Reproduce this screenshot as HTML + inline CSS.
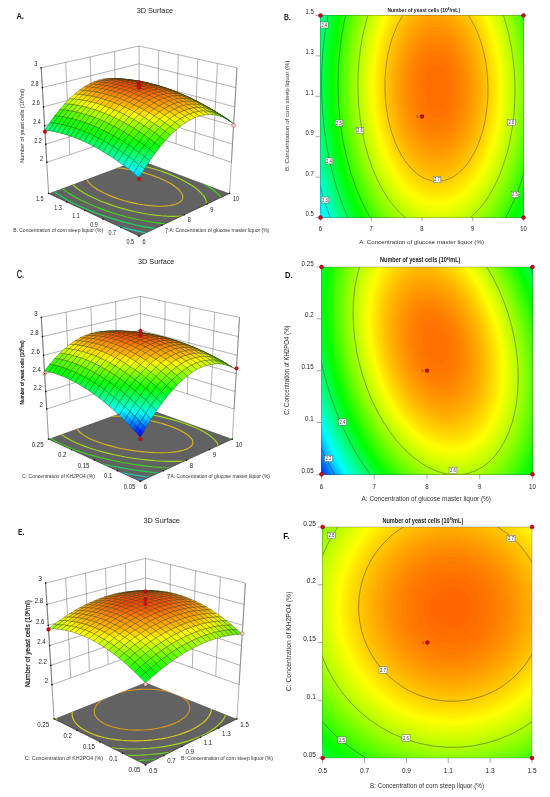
<!DOCTYPE html>
<html><head><meta charset="utf-8"><title>Response surface figure</title><style>html,body{margin:0;padding:0;background:#fff}svg{display:block}</style></head><body>
<svg width="550" height="797" viewBox="0 0 550 797" font-family='"Liberation Sans", sans-serif'>
<rect width="550" height="797" fill="#fff"/>
<clipPath id="cpB"><rect x="320.5" y="15.5" width="203" height="202"/></clipPath>
<g clip-path="url(#cpB)">
<rect x="320.5" y="15.5" width="203" height="202" fill="#00d3ff"/>
<g transform="translate(436.46 87.72) rotate(-90.9)">
<ellipse rx="248.74" ry="136.88" fill="#00dbff"/>
<ellipse rx="247.81" ry="136.37" fill="#00e0ff"/>
<ellipse rx="246.88" ry="135.85" fill="#00e6ff"/>
<ellipse rx="245.94" ry="135.34" fill="#00ebff"/>
<ellipse rx="245" ry="134.82" fill="#00f0ff"/>
<ellipse rx="244.06" ry="134.3" fill="#00f5ff"/>
<ellipse rx="243.11" ry="133.78" fill="#00fbff"/>
<ellipse rx="242.16" ry="133.26" fill="#00fffe"/>
<ellipse rx="241.2" ry="132.73" fill="#00fff9"/>
<ellipse rx="240.25" ry="132.2" fill="#00fff3"/>
<ellipse rx="239.28" ry="131.67" fill="#00ffee"/>
<ellipse rx="238.32" ry="131.14" fill="#00ffe9"/>
<ellipse rx="237.34" ry="130.61" fill="#00ffe4"/>
<ellipse rx="236.37" ry="130.07" fill="#00ffde"/>
<ellipse rx="235.39" ry="129.53" fill="#00ffd9"/>
<ellipse rx="234.41" ry="128.99" fill="#00ffd4"/>
<ellipse rx="233.42" ry="128.45" fill="#00ffcf"/>
<ellipse rx="232.43" ry="127.9" fill="#00ffc9"/>
<ellipse rx="231.43" ry="127.35" fill="#00ffc4"/>
<ellipse rx="230.44" ry="126.8" fill="#00ffbf"/>
<ellipse rx="229.43" ry="126.25" fill="#00ffba"/>
<ellipse rx="228.42" ry="125.7" fill="#00ffb4"/>
<ellipse rx="227.41" ry="125.14" fill="#00ffaf"/>
<ellipse rx="226.39" ry="124.58" fill="#00ffaa"/>
<ellipse rx="225.37" ry="124.02" fill="#00ffa5"/>
<ellipse rx="224.34" ry="123.45" fill="#00ff9f"/>
<ellipse rx="223.31" ry="122.88" fill="#00ff9a"/>
<ellipse rx="222.28" ry="122.31" fill="#00ff95"/>
<ellipse rx="221.23" ry="121.74" fill="#00ff90"/>
<ellipse rx="220.19" ry="121.17" fill="#00ff8a"/>
<ellipse rx="219.14" ry="120.59" fill="#00ff85"/>
<ellipse rx="218.08" ry="120.01" fill="#00ff80"/>
<ellipse rx="217.02" ry="119.42" fill="#00ff7b"/>
<ellipse rx="215.95" ry="118.83" fill="#00ff75"/>
<ellipse rx="214.88" ry="118.25" fill="#00ff70"/>
<ellipse rx="213.8" ry="117.65" fill="#00ff6b"/>
<ellipse rx="212.72" ry="117.06" fill="#00ff66"/>
<ellipse rx="211.63" ry="116.46" fill="#00ff60"/>
<ellipse rx="210.54" ry="115.86" fill="#00ff5b"/>
<ellipse rx="209.44" ry="115.25" fill="#00ff56"/>
<ellipse rx="208.34" ry="114.64" fill="#00ff51"/>
<ellipse rx="207.22" ry="114.03" fill="#00ff4b"/>
<ellipse rx="206.11" ry="113.42" fill="#00ff46"/>
<ellipse rx="204.98" ry="112.8" fill="#00ff41"/>
<ellipse rx="203.85" ry="112.18" fill="#00ff3c"/>
<ellipse rx="202.72" ry="111.55" fill="#00ff36"/>
<ellipse rx="201.58" ry="110.92" fill="#00ff31"/>
<ellipse rx="200.43" ry="110.29" fill="#00ff2c"/>
<ellipse rx="199.27" ry="109.66" fill="#00ff27"/>
<ellipse rx="198.11" ry="109.02" fill="#00ff21"/>
<ellipse rx="196.94" ry="108.37" fill="#00ff1c"/>
<ellipse rx="195.77" ry="107.73" fill="#00ff17"/>
<ellipse rx="194.58" ry="107.08" fill="#00ff12"/>
<ellipse rx="193.39" ry="106.42" fill="#00ff0c"/>
<ellipse rx="192.2" ry="105.76" fill="#00ff07"/>
<ellipse rx="190.99" ry="105.1" fill="#00ff02"/>
<ellipse rx="189.78" ry="104.43" fill="#03ff00"/>
<ellipse rx="188.56" ry="103.76" fill="#08ff00"/>
<ellipse rx="187.33" ry="103.08" fill="#0eff00"/>
<ellipse rx="186.09" ry="102.4" fill="#13ff00"/>
<ellipse rx="184.85" ry="101.72" fill="#18ff00"/>
<ellipse rx="183.6" ry="101.03" fill="#1dff00"/>
<ellipse rx="182.33" ry="100.33" fill="#22ff00"/>
<ellipse rx="181.06" ry="99.64" fill="#28ff00"/>
<ellipse rx="179.78" ry="98.93" fill="#2dff00"/>
<ellipse rx="178.49" ry="98.22" fill="#32ff00"/>
<ellipse rx="177.2" ry="97.51" fill="#37ff00"/>
<ellipse rx="175.89" ry="96.79" fill="#3cff00"/>
<ellipse rx="174.57" ry="96.06" fill="#42ff00"/>
<ellipse rx="173.24" ry="95.33" fill="#47ff00"/>
<ellipse rx="171.91" ry="94.6" fill="#4cff00"/>
<ellipse rx="170.56" ry="93.85" fill="#51ff00"/>
<ellipse rx="169.2" ry="93.11" fill="#56ff00"/>
<ellipse rx="167.83" ry="92.35" fill="#5cff00"/>
<ellipse rx="166.45" ry="91.59" fill="#61ff00"/>
<ellipse rx="165.05" ry="90.83" fill="#66ff00"/>
<ellipse rx="163.65" ry="90.05" fill="#6bff00"/>
<ellipse rx="162.23" ry="89.27" fill="#70ff00"/>
<ellipse rx="160.8" ry="88.49" fill="#76ff00"/>
<ellipse rx="159.36" ry="87.69" fill="#7bff00"/>
<ellipse rx="157.91" ry="86.89" fill="#80ff00"/>
<ellipse rx="156.44" ry="86.08" fill="#85ff00"/>
<ellipse rx="154.95" ry="85.27" fill="#8aff00"/>
<ellipse rx="153.46" ry="84.44" fill="#90ff00"/>
<ellipse rx="151.94" ry="83.61" fill="#95ff00"/>
<ellipse rx="150.42" ry="82.77" fill="#9aff00"/>
<ellipse rx="148.87" ry="81.92" fill="#9fff00"/>
<ellipse rx="147.32" ry="81.06" fill="#a4ff00"/>
<ellipse rx="145.74" ry="80.2" fill="#aaff00"/>
<ellipse rx="144.15" ry="79.32" fill="#afff00"/>
<ellipse rx="142.54" ry="78.43" fill="#b4ff00"/>
<ellipse rx="140.91" ry="77.54" fill="#b9ff00"/>
<ellipse rx="139.26" ry="76.63" fill="#beff00"/>
<ellipse rx="137.59" ry="75.71" fill="#c4ff00"/>
<ellipse rx="135.9" ry="74.78" fill="#c9ff00"/>
<ellipse rx="134.19" ry="73.84" fill="#ceff00"/>
<ellipse rx="132.46" ry="72.89" fill="#d3ff00"/>
<ellipse rx="130.71" ry="71.93" fill="#d8ff00"/>
<ellipse rx="128.93" ry="70.95" fill="#ddff00"/>
<ellipse rx="127.13" ry="69.95" fill="#e3ff00"/>
<ellipse rx="125.3" ry="68.95" fill="#e8ff00"/>
<ellipse rx="123.44" ry="67.93" fill="#edff00"/>
<ellipse rx="121.56" ry="66.89" fill="#f2ff00"/>
<ellipse rx="119.64" ry="65.84" fill="#f7ff00"/>
<ellipse rx="117.7" ry="64.77" fill="#fdff00"/>
<ellipse rx="115.72" ry="63.68" fill="#fffc00"/>
<ellipse rx="113.7" ry="62.57" fill="#fff700"/>
<ellipse rx="111.66" ry="61.44" fill="#fff200"/>
<ellipse rx="109.57" ry="60.29" fill="#ffed00"/>
<ellipse rx="107.44" ry="59.12" fill="#ffe800"/>
<ellipse rx="105.27" ry="57.93" fill="#ffe300"/>
<ellipse rx="103.05" ry="56.71" fill="#ffde00"/>
<ellipse rx="100.79" ry="55.46" fill="#ffd900"/>
<ellipse rx="98.47" ry="54.19" fill="#ffd400"/>
<ellipse rx="96.1" ry="52.88" fill="#ffcf00"/>
<ellipse rx="93.66" ry="51.54" fill="#ffca00"/>
<ellipse rx="91.17" ry="50.17" fill="#ffc400"/>
<ellipse rx="88.6" ry="48.75" fill="#ffbf00"/>
<ellipse rx="85.95" ry="47.3" fill="#ffba00"/>
<ellipse rx="83.22" ry="45.8" fill="#ffb500"/>
<ellipse rx="80.4" ry="44.24" fill="#ffb000"/>
<ellipse rx="77.48" ry="42.63" fill="#ffab00"/>
<ellipse rx="74.44" ry="40.96" fill="#ffa600"/>
<ellipse rx="71.27" ry="39.22" fill="#ffa100"/>
<ellipse rx="67.95" ry="37.39" fill="#ff9c00"/>
<ellipse rx="64.46" ry="35.47" fill="#ff9700"/>
<ellipse rx="60.78" ry="33.44" fill="#ff9200"/>
<ellipse rx="56.85" ry="31.28" fill="#ff8d00"/>
<ellipse rx="52.64" ry="28.96" fill="#ff8800"/>
<ellipse rx="48.05" ry="26.44" fill="#ff8300"/>
<ellipse rx="42.98" ry="23.65" fill="#ff7e00"/>
<ellipse rx="37.22" ry="20.48" fill="#ff7800"/>
<ellipse rx="30.39" ry="16.72" fill="#ff7300"/>
<ellipse rx="21.49" ry="11.82" fill="#ff6e00"/>
<ellipse rx="235.05" ry="129.34" fill="none" stroke="#222" stroke-opacity=".8" stroke-width=".48"/>
<ellipse rx="208.87" ry="114.94" fill="none" stroke="#222" stroke-opacity=".8" stroke-width=".48"/>
<ellipse rx="178.9" ry="98.45" fill="none" stroke="#222" stroke-opacity=".8" stroke-width=".48"/>
<ellipse rx="142.78" ry="78.57" fill="none" stroke="#222" stroke-opacity=".8" stroke-width=".48"/>
<ellipse rx="93.63" ry="51.52" fill="none" stroke="#222" stroke-opacity=".8" stroke-width=".48"/>
</g></g>
<rect x="320.5" y="15.5" width="203" height="202" fill="none" stroke="#444" stroke-opacity=".6" stroke-width=".5"/>
<line x1="320.5" y1="217.5" x2="320.5" y2="221" stroke="#555" stroke-width=".5"/>
<text x="320.5" y="231" font-size="6.8" text-anchor="middle" font-weight="normal" fill="#222" textLength="3.29" lengthAdjust="spacingAndGlyphs">6</text>
<line x1="371.25" y1="217.5" x2="371.25" y2="221" stroke="#555" stroke-width=".5"/>
<text x="371.25" y="231" font-size="6.8" text-anchor="middle" font-weight="normal" fill="#222" textLength="3.29" lengthAdjust="spacingAndGlyphs">7</text>
<line x1="422" y1="217.5" x2="422" y2="221" stroke="#555" stroke-width=".5"/>
<text x="422" y="231" font-size="6.8" text-anchor="middle" font-weight="normal" fill="#222" textLength="3.29" lengthAdjust="spacingAndGlyphs">8</text>
<line x1="472.75" y1="217.5" x2="472.75" y2="221" stroke="#555" stroke-width=".5"/>
<text x="472.75" y="231" font-size="6.8" text-anchor="middle" font-weight="normal" fill="#222" textLength="3.29" lengthAdjust="spacingAndGlyphs">9</text>
<line x1="523.5" y1="217.5" x2="523.5" y2="221" stroke="#555" stroke-width=".5"/>
<text x="523.5" y="231" font-size="6.8" text-anchor="middle" font-weight="normal" fill="#222" textLength="6.58" lengthAdjust="spacingAndGlyphs">10</text>
<line x1="315.5" y1="217.5" x2="320.5" y2="217.5" stroke="#555" stroke-width=".5"/>
<text x="313.7" y="216" font-size="6.8" text-anchor="end" font-weight="normal" fill="#222" textLength="8.22" lengthAdjust="spacingAndGlyphs">0.5</text>
<line x1="315.5" y1="177.1" x2="320.5" y2="177.1" stroke="#555" stroke-width=".5"/>
<text x="313.7" y="175.6" font-size="6.8" text-anchor="end" font-weight="normal" fill="#222" textLength="8.22" lengthAdjust="spacingAndGlyphs">0.7</text>
<line x1="315.5" y1="136.7" x2="320.5" y2="136.7" stroke="#555" stroke-width=".5"/>
<text x="313.7" y="135.2" font-size="6.8" text-anchor="end" font-weight="normal" fill="#222" textLength="8.22" lengthAdjust="spacingAndGlyphs">0.9</text>
<line x1="315.5" y1="96.3" x2="320.5" y2="96.3" stroke="#555" stroke-width=".5"/>
<text x="313.7" y="94.8" font-size="6.8" text-anchor="end" font-weight="normal" fill="#222" textLength="8.22" lengthAdjust="spacingAndGlyphs">1.1</text>
<line x1="315.5" y1="55.9" x2="320.5" y2="55.9" stroke="#555" stroke-width=".5"/>
<text x="313.7" y="54.4" font-size="6.8" text-anchor="end" font-weight="normal" fill="#222" textLength="8.22" lengthAdjust="spacingAndGlyphs">1.3</text>
<line x1="315.5" y1="15.5" x2="320.5" y2="15.5" stroke="#555" stroke-width=".5"/>
<text x="313.7" y="14" font-size="6.8" text-anchor="end" font-weight="normal" fill="#222" textLength="8.22" lengthAdjust="spacingAndGlyphs">1.5</text>
<rect x="320.5" y="22" width="7.6" height="6" fill="#fff" stroke="#555" stroke-width=".45"/>
<text x="324.3" y="26.74" font-size="4.800000000000001" text-anchor="middle" font-weight="normal" fill="#333" textLength="5.8" lengthAdjust="spacingAndGlyphs">2.4</text>
<rect x="335.2" y="120" width="7.6" height="6" fill="#fff" stroke="#555" stroke-width=".45"/>
<text x="339" y="124.74" font-size="4.800000000000001" text-anchor="middle" font-weight="normal" fill="#333" textLength="5.8" lengthAdjust="spacingAndGlyphs">2.5</text>
<rect x="356.2" y="127.5" width="7.6" height="6" fill="#fff" stroke="#555" stroke-width=".45"/>
<text x="360" y="132.24" font-size="4.800000000000001" text-anchor="middle" font-weight="normal" fill="#333" textLength="5.8" lengthAdjust="spacingAndGlyphs">2.6</text>
<rect x="325.2" y="158" width="7.6" height="6" fill="#fff" stroke="#555" stroke-width=".45"/>
<text x="329" y="162.74" font-size="4.800000000000001" text-anchor="middle" font-weight="normal" fill="#333" textLength="5.8" lengthAdjust="spacingAndGlyphs">2.4</text>
<rect x="321.2" y="197" width="7.6" height="6" fill="#fff" stroke="#555" stroke-width=".45"/>
<text x="325" y="201.74" font-size="4.800000000000001" text-anchor="middle" font-weight="normal" fill="#333" textLength="5.8" lengthAdjust="spacingAndGlyphs">2.3</text>
<rect x="433.2" y="176.5" width="7.6" height="6" fill="#fff" stroke="#555" stroke-width=".45"/>
<text x="437" y="181.24" font-size="4.800000000000001" text-anchor="middle" font-weight="normal" fill="#333" textLength="5.8" lengthAdjust="spacingAndGlyphs">2.7</text>
<rect x="507.7" y="119.5" width="7.6" height="6" fill="#fff" stroke="#555" stroke-width=".45"/>
<text x="511.5" y="124.24" font-size="4.800000000000001" text-anchor="middle" font-weight="normal" fill="#333" textLength="5.8" lengthAdjust="spacingAndGlyphs">2.6</text>
<rect x="511.2" y="191.5" width="7.6" height="6" fill="#fff" stroke="#555" stroke-width=".45"/>
<text x="515" y="196.24" font-size="4.800000000000001" text-anchor="middle" font-weight="normal" fill="#333" textLength="5.8" lengthAdjust="spacingAndGlyphs">2.5</text>
<circle cx="320.5" cy="15.5" r="2" fill="#cc0612" stroke="#7d0a12" stroke-width=".5"/>
<circle cx="523.5" cy="15.5" r="2" fill="#cc0612" stroke="#7d0a12" stroke-width=".5"/>
<circle cx="320.5" cy="217.5" r="2" fill="#cc0612" stroke="#7d0a12" stroke-width=".5"/>
<circle cx="523.5" cy="217.5" r="2" fill="#cc0612" stroke="#7d0a12" stroke-width=".5"/>
<circle cx="422" cy="116.5" r="1.9" fill="#cc0612" stroke="#7d0a12" stroke-width=".5"/>
<text x="417.4" y="117.8" font-size="3.6" text-anchor="middle" font-weight="normal" fill="#333">5</text>
<text x="387.4" y="11.6" font-size="5.9" text-anchor="start" font-weight="bold" fill="#222" textLength="72.7" lengthAdjust="spacingAndGlyphs">Number of yeast cells (10<tspan font-size="3.54" dy="-1.95">8</tspan><tspan dy="1.95">/mL)</tspan></text>
<text x="359.2" y="243.6" font-size="5.9" text-anchor="start" font-weight="normal" fill="#333" textLength="124.8" lengthAdjust="spacingAndGlyphs">A: Concentration of glucose master liquor  (%)</text>
<text x="288.6" y="171" font-size="5.9" text-anchor="start" font-weight="normal" fill="#333" transform="rotate(-90 288.6 171)" textLength="110.4" lengthAdjust="spacingAndGlyphs">B: Concentration of corn steep liquor (%)</text>
<text x="283.9" y="19.6" font-size="8.9" text-anchor="start" font-weight="normal" fill="#111" textLength="6.9" lengthAdjust="spacingAndGlyphs" stroke="#111" stroke-width=".25">B.</text>
<clipPath id="cpD"><rect x="321.5" y="267" width="211" height="207.3"/></clipPath>
<g clip-path="url(#cpD)">
<rect x="321.5" y="267" width="211" height="207.3" fill="#0028ff"/>
<g transform="translate(435.64 345.42) rotate(-104.15)">
<ellipse rx="257.43" ry="152.97" fill="#0030ff"/>
<ellipse rx="256.65" ry="152.5" fill="#0035ff"/>
<ellipse rx="255.87" ry="152.04" fill="#003aff"/>
<ellipse rx="255.08" ry="151.57" fill="#0040ff"/>
<ellipse rx="254.29" ry="151.1" fill="#0045ff"/>
<ellipse rx="253.5" ry="150.63" fill="#004aff"/>
<ellipse rx="252.71" ry="150.16" fill="#0050ff"/>
<ellipse rx="251.91" ry="149.69" fill="#0055ff"/>
<ellipse rx="251.11" ry="149.21" fill="#005aff"/>
<ellipse rx="250.31" ry="148.74" fill="#005fff"/>
<ellipse rx="249.51" ry="148.26" fill="#0065ff"/>
<ellipse rx="248.7" ry="147.78" fill="#006aff"/>
<ellipse rx="247.89" ry="147.3" fill="#006fff"/>
<ellipse rx="247.08" ry="146.82" fill="#0075ff"/>
<ellipse rx="246.27" ry="146.33" fill="#007aff"/>
<ellipse rx="245.45" ry="145.85" fill="#007fff"/>
<ellipse rx="244.63" ry="145.36" fill="#0085ff"/>
<ellipse rx="243.81" ry="144.87" fill="#008aff"/>
<ellipse rx="242.99" ry="144.38" fill="#008fff"/>
<ellipse rx="242.16" ry="143.89" fill="#0095ff"/>
<ellipse rx="241.33" ry="143.4" fill="#009aff"/>
<ellipse rx="240.49" ry="142.9" fill="#009fff"/>
<ellipse rx="239.66" ry="142.41" fill="#00a4ff"/>
<ellipse rx="238.82" ry="141.91" fill="#00aaff"/>
<ellipse rx="237.97" ry="141.41" fill="#00afff"/>
<ellipse rx="237.13" ry="140.9" fill="#00b4ff"/>
<ellipse rx="236.28" ry="140.4" fill="#00baff"/>
<ellipse rx="235.43" ry="139.89" fill="#00bfff"/>
<ellipse rx="234.57" ry="139.39" fill="#00c4ff"/>
<ellipse rx="233.72" ry="138.88" fill="#00caff"/>
<ellipse rx="232.86" ry="138.36" fill="#00cfff"/>
<ellipse rx="231.99" ry="137.85" fill="#00d4ff"/>
<ellipse rx="231.12" ry="137.34" fill="#00daff"/>
<ellipse rx="230.25" ry="136.82" fill="#00dfff"/>
<ellipse rx="229.38" ry="136.3" fill="#00e4ff"/>
<ellipse rx="228.5" ry="135.78" fill="#00e9ff"/>
<ellipse rx="227.62" ry="135.25" fill="#00efff"/>
<ellipse rx="226.74" ry="134.73" fill="#00f4ff"/>
<ellipse rx="225.85" ry="134.2" fill="#00f9ff"/>
<ellipse rx="224.96" ry="133.67" fill="#00ffff"/>
<ellipse rx="224.07" ry="133.14" fill="#00fffa"/>
<ellipse rx="223.17" ry="132.61" fill="#00fff5"/>
<ellipse rx="222.27" ry="132.07" fill="#00ffef"/>
<ellipse rx="221.36" ry="131.53" fill="#00ffea"/>
<ellipse rx="220.45" ry="130.99" fill="#00ffe5"/>
<ellipse rx="219.54" ry="130.45" fill="#00ffe0"/>
<ellipse rx="218.62" ry="129.91" fill="#00ffda"/>
<ellipse rx="217.7" ry="129.36" fill="#00ffd5"/>
<ellipse rx="216.78" ry="128.81" fill="#00ffd0"/>
<ellipse rx="215.85" ry="128.26" fill="#00ffca"/>
<ellipse rx="214.92" ry="127.7" fill="#00ffc5"/>
<ellipse rx="213.98" ry="127.15" fill="#00ffc0"/>
<ellipse rx="213.04" ry="126.59" fill="#00ffbb"/>
<ellipse rx="212.09" ry="126.03" fill="#00ffb5"/>
<ellipse rx="211.15" ry="125.46" fill="#00ffb0"/>
<ellipse rx="210.19" ry="124.9" fill="#00ffab"/>
<ellipse rx="209.23" ry="124.33" fill="#00ffa6"/>
<ellipse rx="208.27" ry="123.76" fill="#00ffa0"/>
<ellipse rx="207.31" ry="123.18" fill="#00ff9b"/>
<ellipse rx="206.34" ry="122.61" fill="#00ff96"/>
<ellipse rx="205.36" ry="122.03" fill="#00ff90"/>
<ellipse rx="204.38" ry="121.44" fill="#00ff8b"/>
<ellipse rx="203.39" ry="120.86" fill="#00ff86"/>
<ellipse rx="202.4" ry="120.27" fill="#00ff81"/>
<ellipse rx="201.41" ry="119.68" fill="#00ff7b"/>
<ellipse rx="200.41" ry="119.09" fill="#00ff76"/>
<ellipse rx="199.41" ry="118.49" fill="#00ff71"/>
<ellipse rx="198.4" ry="117.89" fill="#00ff6b"/>
<ellipse rx="197.38" ry="117.29" fill="#00ff66"/>
<ellipse rx="196.36" ry="116.68" fill="#00ff61"/>
<ellipse rx="195.34" ry="116.07" fill="#00ff5c"/>
<ellipse rx="194.31" ry="115.46" fill="#00ff56"/>
<ellipse rx="193.27" ry="114.84" fill="#00ff51"/>
<ellipse rx="192.23" ry="114.22" fill="#00ff4c"/>
<ellipse rx="191.18" ry="113.6" fill="#00ff46"/>
<ellipse rx="190.13" ry="112.97" fill="#00ff41"/>
<ellipse rx="189.07" ry="112.34" fill="#00ff3c"/>
<ellipse rx="188" ry="111.71" fill="#00ff37"/>
<ellipse rx="186.93" ry="111.08" fill="#00ff31"/>
<ellipse rx="185.85" ry="110.44" fill="#00ff2c"/>
<ellipse rx="184.77" ry="109.79" fill="#00ff27"/>
<ellipse rx="183.68" ry="109.14" fill="#00ff22"/>
<ellipse rx="182.58" ry="108.49" fill="#00ff1c"/>
<ellipse rx="181.48" ry="107.84" fill="#00ff17"/>
<ellipse rx="180.37" ry="107.18" fill="#00ff12"/>
<ellipse rx="179.25" ry="106.51" fill="#00ff0c"/>
<ellipse rx="178.13" ry="105.85" fill="#00ff07"/>
<ellipse rx="177" ry="105.17" fill="#00ff02"/>
<ellipse rx="175.86" ry="104.5" fill="#03ff00"/>
<ellipse rx="174.71" ry="103.82" fill="#09ff00"/>
<ellipse rx="173.56" ry="103.13" fill="#0eff00"/>
<ellipse rx="172.4" ry="102.44" fill="#13ff00"/>
<ellipse rx="171.23" ry="101.75" fill="#18ff00"/>
<ellipse rx="170.05" ry="101.05" fill="#1eff00"/>
<ellipse rx="168.87" ry="100.34" fill="#23ff00"/>
<ellipse rx="167.68" ry="99.63" fill="#28ff00"/>
<ellipse rx="166.47" ry="98.92" fill="#2dff00"/>
<ellipse rx="165.26" ry="98.2" fill="#32ff00"/>
<ellipse rx="164.04" ry="97.48" fill="#38ff00"/>
<ellipse rx="162.81" ry="96.75" fill="#3dff00"/>
<ellipse rx="161.58" ry="96.01" fill="#42ff00"/>
<ellipse rx="160.33" ry="95.27" fill="#47ff00"/>
<ellipse rx="159.07" ry="94.52" fill="#4dff00"/>
<ellipse rx="157.8" ry="93.77" fill="#52ff00"/>
<ellipse rx="156.53" ry="93.01" fill="#57ff00"/>
<ellipse rx="155.24" ry="92.24" fill="#5cff00"/>
<ellipse rx="153.94" ry="91.47" fill="#61ff00"/>
<ellipse rx="152.63" ry="90.69" fill="#67ff00"/>
<ellipse rx="151.31" ry="89.91" fill="#6cff00"/>
<ellipse rx="149.97" ry="89.12" fill="#71ff00"/>
<ellipse rx="148.63" ry="88.32" fill="#76ff00"/>
<ellipse rx="147.27" ry="87.51" fill="#7cff00"/>
<ellipse rx="145.9" ry="86.7" fill="#81ff00"/>
<ellipse rx="144.52" ry="85.87" fill="#86ff00"/>
<ellipse rx="143.12" ry="85.04" fill="#8bff00"/>
<ellipse rx="141.71" ry="84.21" fill="#91ff00"/>
<ellipse rx="140.29" ry="83.36" fill="#96ff00"/>
<ellipse rx="138.85" ry="82.5" fill="#9bff00"/>
<ellipse rx="137.39" ry="81.64" fill="#a0ff00"/>
<ellipse rx="135.93" ry="80.77" fill="#a5ff00"/>
<ellipse rx="134.44" ry="79.88" fill="#abff00"/>
<ellipse rx="132.94" ry="78.99" fill="#b0ff00"/>
<ellipse rx="131.42" ry="78.09" fill="#b5ff00"/>
<ellipse rx="129.88" ry="77.18" fill="#baff00"/>
<ellipse rx="128.33" ry="76.25" fill="#c0ff00"/>
<ellipse rx="126.75" ry="75.32" fill="#c5ff00"/>
<ellipse rx="125.16" ry="74.37" fill="#caff00"/>
<ellipse rx="123.54" ry="73.41" fill="#cfff00"/>
<ellipse rx="121.91" ry="72.44" fill="#d4ff00"/>
<ellipse rx="120.25" ry="71.45" fill="#daff00"/>
<ellipse rx="118.56" ry="70.45" fill="#dfff00"/>
<ellipse rx="116.86" ry="69.44" fill="#e4ff00"/>
<ellipse rx="115.13" ry="68.41" fill="#e9ff00"/>
<ellipse rx="113.37" ry="67.36" fill="#efff00"/>
<ellipse rx="111.58" ry="66.3" fill="#f4ff00"/>
<ellipse rx="109.77" ry="65.23" fill="#f9ff00"/>
<ellipse rx="107.92" ry="64.13" fill="#feff00"/>
<ellipse rx="106.05" ry="63.01" fill="#fffb00"/>
<ellipse rx="104.14" ry="61.88" fill="#fff600"/>
<ellipse rx="102.19" ry="60.72" fill="#fff000"/>
<ellipse rx="100.21" ry="59.54" fill="#ffeb00"/>
<ellipse rx="98.18" ry="58.34" fill="#ffe600"/>
<ellipse rx="96.11" ry="57.11" fill="#ffe100"/>
<ellipse rx="94" ry="55.86" fill="#ffdc00"/>
<ellipse rx="91.84" ry="54.57" fill="#ffd700"/>
<ellipse rx="89.63" ry="53.26" fill="#ffd200"/>
<ellipse rx="87.36" ry="51.91" fill="#ffcd00"/>
<ellipse rx="85.03" ry="50.52" fill="#ffc800"/>
<ellipse rx="82.63" ry="49.1" fill="#ffc300"/>
<ellipse rx="80.16" ry="47.63" fill="#ffbd00"/>
<ellipse rx="77.62" ry="46.12" fill="#ffb800"/>
<ellipse rx="74.99" ry="44.56" fill="#ffb300"/>
<ellipse rx="72.26" ry="42.94" fill="#ffae00"/>
<ellipse rx="69.42" ry="41.25" fill="#ffa900"/>
<ellipse rx="66.47" ry="39.5" fill="#ffa400"/>
<ellipse rx="63.38" ry="37.66" fill="#ff9f00"/>
<ellipse rx="60.12" ry="35.73" fill="#ff9a00"/>
<ellipse rx="56.68" ry="33.68" fill="#ff9500"/>
<ellipse rx="53.02" ry="31.51" fill="#ff9000"/>
<ellipse rx="49.09" ry="29.17" fill="#ff8b00"/>
<ellipse rx="44.81" ry="26.63" fill="#ff8500"/>
<ellipse rx="40.08" ry="23.82" fill="#ff8000"/>
<ellipse rx="34.71" ry="20.63" fill="#ff7b00"/>
<ellipse rx="28.34" ry="16.84" fill="#ff7600"/>
<ellipse rx="20.04" ry="11.91" fill="#ff7100"/>
<ellipse rx="240.04" ry="142.64" fill="none" stroke="#222" stroke-opacity=".8" stroke-width=".48"/>
<ellipse rx="193.7" ry="115.1" fill="none" stroke="#222" stroke-opacity=".8" stroke-width=".48"/>
<ellipse rx="131.98" ry="78.43" fill="none" stroke="#222" stroke-opacity=".8" stroke-width=".48"/>
</g></g>
<rect x="321.5" y="267" width="211" height="207.3" fill="none" stroke="#444" stroke-opacity=".6" stroke-width=".5"/>
<line x1="321.5" y1="474.3" x2="321.5" y2="479.3" stroke="#555" stroke-width=".5"/>
<text x="321.5" y="488.9" font-size="7.1" text-anchor="middle" font-weight="normal" fill="#222" textLength="3.43" lengthAdjust="spacingAndGlyphs">6</text>
<line x1="374.25" y1="474.3" x2="374.25" y2="479.3" stroke="#555" stroke-width=".5"/>
<text x="374.25" y="488.9" font-size="7.1" text-anchor="middle" font-weight="normal" fill="#222" textLength="3.43" lengthAdjust="spacingAndGlyphs">7</text>
<line x1="427" y1="474.3" x2="427" y2="479.3" stroke="#555" stroke-width=".5"/>
<text x="427" y="488.9" font-size="7.1" text-anchor="middle" font-weight="normal" fill="#222" textLength="3.43" lengthAdjust="spacingAndGlyphs">8</text>
<line x1="479.75" y1="474.3" x2="479.75" y2="479.3" stroke="#555" stroke-width=".5"/>
<text x="479.75" y="488.9" font-size="7.1" text-anchor="middle" font-weight="normal" fill="#222" textLength="3.43" lengthAdjust="spacingAndGlyphs">9</text>
<line x1="532.5" y1="474.3" x2="532.5" y2="479.3" stroke="#555" stroke-width=".5"/>
<text x="532.5" y="488.9" font-size="7.1" text-anchor="middle" font-weight="normal" fill="#222" textLength="6.87" lengthAdjust="spacingAndGlyphs">10</text>
<line x1="316.5" y1="474.3" x2="321.5" y2="474.3" stroke="#555" stroke-width=".5"/>
<text x="313.6" y="472.8" font-size="7.1" text-anchor="end" font-weight="normal" fill="#222" textLength="12.02" lengthAdjust="spacingAndGlyphs">0.05</text>
<line x1="316.5" y1="422.48" x2="321.5" y2="422.48" stroke="#555" stroke-width=".5"/>
<text x="313.6" y="420.98" font-size="7.1" text-anchor="end" font-weight="normal" fill="#222" textLength="8.59" lengthAdjust="spacingAndGlyphs">0.1</text>
<line x1="316.5" y1="370.65" x2="321.5" y2="370.65" stroke="#555" stroke-width=".5"/>
<text x="313.6" y="369.15" font-size="7.1" text-anchor="end" font-weight="normal" fill="#222" textLength="12.02" lengthAdjust="spacingAndGlyphs">0.15</text>
<line x1="316.5" y1="318.82" x2="321.5" y2="318.82" stroke="#555" stroke-width=".5"/>
<text x="313.6" y="317.32" font-size="7.1" text-anchor="end" font-weight="normal" fill="#222" textLength="8.59" lengthAdjust="spacingAndGlyphs">0.2</text>
<line x1="316.5" y1="267" x2="321.5" y2="267" stroke="#555" stroke-width=".5"/>
<text x="313.6" y="265.5" font-size="7.1" text-anchor="end" font-weight="normal" fill="#222" textLength="12.02" lengthAdjust="spacingAndGlyphs">0.25</text>
<rect x="338.6" y="418.9" width="7.8" height="6.2" fill="#fff" stroke="#555" stroke-width=".45"/>
<text x="342.5" y="423.8" font-size="4.960000000000001" text-anchor="middle" font-weight="normal" fill="#333" textLength="6" lengthAdjust="spacingAndGlyphs">2.4</text>
<rect x="324.6" y="455.4" width="7.8" height="6.2" fill="#fff" stroke="#555" stroke-width=".45"/>
<text x="328.5" y="460.3" font-size="4.960000000000001" text-anchor="middle" font-weight="normal" fill="#333" textLength="6" lengthAdjust="spacingAndGlyphs">2.2</text>
<rect x="449.1" y="467.4" width="7.8" height="6.2" fill="#fff" stroke="#555" stroke-width=".45"/>
<text x="453" y="472.3" font-size="4.960000000000001" text-anchor="middle" font-weight="normal" fill="#333" textLength="6" lengthAdjust="spacingAndGlyphs">2.6</text>
<circle cx="321.5" cy="267" r="2" fill="#cc0612" stroke="#7d0a12" stroke-width=".5"/>
<circle cx="532.5" cy="267" r="2" fill="#cc0612" stroke="#7d0a12" stroke-width=".5"/>
<circle cx="321.5" cy="474.3" r="2" fill="#cc0612" stroke="#7d0a12" stroke-width=".5"/>
<circle cx="532.5" cy="474.3" r="2" fill="#cc0612" stroke="#7d0a12" stroke-width=".5"/>
<circle cx="427" cy="370.65" r="1.9" fill="#cc0612" stroke="#7d0a12" stroke-width=".5"/>
<text x="422.4" y="371.95" font-size="3.6" text-anchor="middle" font-weight="normal" fill="#333">5</text>
<text x="380" y="262.3" font-size="6.5" text-anchor="start" font-weight="bold" fill="#222" textLength="80.4" lengthAdjust="spacingAndGlyphs">Number of yeast cells (10<tspan font-size="3.9" dy="-2.15">8</tspan><tspan dy="2.15">/mL)</tspan></text>
<text x="361.6" y="501.3" font-size="6.3" text-anchor="start" font-weight="normal" fill="#333" textLength="129.3" lengthAdjust="spacingAndGlyphs">A: Concentration of glucose master liquor  (%)</text>
<text x="288.6" y="414.7" font-size="6.3" text-anchor="start" font-weight="normal" fill="#333" transform="rotate(-90 288.6 414.7)" textLength="89.3" lengthAdjust="spacingAndGlyphs">C: Concentration of KH2PO4 (%)</text>
<text x="285" y="277.9" font-size="9.7" text-anchor="start" font-weight="bold" fill="#111" textLength="7.6" lengthAdjust="spacingAndGlyphs">D.</text>
<clipPath id="cpF"><rect x="322.7" y="527" width="209.3" height="231"/></clipPath>
<g clip-path="url(#cpF)">
<rect x="322.7" y="527" width="209.3" height="231" fill="#00ff47"/>
<g transform="translate(451.26 607.68) rotate(-110.09)">
<ellipse rx="198.83" ry="196.08" fill="#00ff3f"/>
<ellipse rx="197.75" ry="195.01" fill="#00ff3a"/>
<ellipse rx="196.66" ry="193.93" fill="#00ff35"/>
<ellipse rx="195.56" ry="192.85" fill="#00ff2f"/>
<ellipse rx="194.46" ry="191.77" fill="#00ff2a"/>
<ellipse rx="193.35" ry="190.67" fill="#00ff25"/>
<ellipse rx="192.24" ry="189.58" fill="#00ff20"/>
<ellipse rx="191.11" ry="188.47" fill="#00ff1a"/>
<ellipse rx="189.99" ry="187.36" fill="#00ff15"/>
<ellipse rx="188.85" ry="186.24" fill="#00ff10"/>
<ellipse rx="187.71" ry="185.11" fill="#00ff0b"/>
<ellipse rx="186.56" ry="183.98" fill="#00ff05"/>
<ellipse rx="185.41" ry="182.84" fill="#00ff00"/>
<ellipse rx="184.25" ry="181.7" fill="#05ff00"/>
<ellipse rx="183.08" ry="180.54" fill="#0aff00"/>
<ellipse rx="181.9" ry="179.38" fill="#10ff00"/>
<ellipse rx="180.71" ry="178.21" fill="#15ff00"/>
<ellipse rx="179.52" ry="177.04" fill="#1aff00"/>
<ellipse rx="178.32" ry="175.85" fill="#1fff00"/>
<ellipse rx="177.11" ry="174.66" fill="#24ff00"/>
<ellipse rx="175.89" ry="173.46" fill="#2aff00"/>
<ellipse rx="174.67" ry="172.25" fill="#2fff00"/>
<ellipse rx="173.43" ry="171.03" fill="#34ff00"/>
<ellipse rx="172.19" ry="169.81" fill="#39ff00"/>
<ellipse rx="170.94" ry="168.57" fill="#3eff00"/>
<ellipse rx="169.68" ry="167.33" fill="#44ff00"/>
<ellipse rx="168.41" ry="166.07" fill="#49ff00"/>
<ellipse rx="167.13" ry="164.81" fill="#4eff00"/>
<ellipse rx="165.83" ry="163.54" fill="#53ff00"/>
<ellipse rx="164.53" ry="162.26" fill="#58ff00"/>
<ellipse rx="163.22" ry="160.96" fill="#5eff00"/>
<ellipse rx="161.9" ry="159.66" fill="#63ff00"/>
<ellipse rx="160.57" ry="158.35" fill="#68ff00"/>
<ellipse rx="159.22" ry="157.02" fill="#6dff00"/>
<ellipse rx="157.87" ry="155.68" fill="#73ff00"/>
<ellipse rx="156.5" ry="154.34" fill="#78ff00"/>
<ellipse rx="155.12" ry="152.98" fill="#7dff00"/>
<ellipse rx="153.73" ry="151.6" fill="#82ff00"/>
<ellipse rx="152.33" ry="150.22" fill="#87ff00"/>
<ellipse rx="150.91" ry="148.82" fill="#8dff00"/>
<ellipse rx="149.48" ry="147.41" fill="#92ff00"/>
<ellipse rx="148.04" ry="145.99" fill="#97ff00"/>
<ellipse rx="146.58" ry="144.55" fill="#9cff00"/>
<ellipse rx="145.11" ry="143.1" fill="#a1ff00"/>
<ellipse rx="143.62" ry="141.63" fill="#a7ff00"/>
<ellipse rx="142.11" ry="140.15" fill="#acff00"/>
<ellipse rx="140.59" ry="138.65" fill="#b1ff00"/>
<ellipse rx="139.06" ry="137.13" fill="#b6ff00"/>
<ellipse rx="137.5" ry="135.6" fill="#bbff00"/>
<ellipse rx="135.93" ry="134.05" fill="#c1ff00"/>
<ellipse rx="134.34" ry="132.48" fill="#c6ff00"/>
<ellipse rx="132.73" ry="130.9" fill="#cbff00"/>
<ellipse rx="131.1" ry="129.29" fill="#d0ff00"/>
<ellipse rx="129.45" ry="127.66" fill="#d5ff00"/>
<ellipse rx="127.78" ry="126.02" fill="#dbff00"/>
<ellipse rx="126.09" ry="124.35" fill="#e0ff00"/>
<ellipse rx="124.38" ry="122.65" fill="#e5ff00"/>
<ellipse rx="122.64" ry="120.94" fill="#eaff00"/>
<ellipse rx="120.87" ry="119.2" fill="#efff00"/>
<ellipse rx="119.08" ry="117.43" fill="#f5ff00"/>
<ellipse rx="117.26" ry="115.64" fill="#faff00"/>
<ellipse rx="115.42" ry="113.82" fill="#ffff00"/>
<ellipse rx="113.54" ry="111.97" fill="#fffa00"/>
<ellipse rx="111.63" ry="110.09" fill="#fff500"/>
<ellipse rx="109.69" ry="108.17" fill="#fff000"/>
<ellipse rx="107.71" ry="106.22" fill="#ffeb00"/>
<ellipse rx="105.7" ry="104.24" fill="#ffe600"/>
<ellipse rx="103.65" ry="102.21" fill="#ffe000"/>
<ellipse rx="101.55" ry="100.15" fill="#ffdb00"/>
<ellipse rx="99.41" ry="98.04" fill="#ffd600"/>
<ellipse rx="97.23" ry="95.88" fill="#ffd100"/>
<ellipse rx="94.99" ry="93.68" fill="#ffcc00"/>
<ellipse rx="92.7" ry="91.42" fill="#ffc700"/>
<ellipse rx="90.36" ry="89.11" fill="#ffc200"/>
<ellipse rx="87.95" ry="86.73" fill="#ffbd00"/>
<ellipse rx="85.47" ry="84.29" fill="#ffb800"/>
<ellipse rx="82.92" ry="81.77" fill="#ffb300"/>
<ellipse rx="80.28" ry="79.17" fill="#ffae00"/>
<ellipse rx="77.56" ry="76.49" fill="#ffa900"/>
<ellipse rx="74.74" ry="73.71" fill="#ffa400"/>
<ellipse rx="71.81" ry="70.81" fill="#ff9e00"/>
<ellipse rx="68.75" ry="67.8" fill="#ff9900"/>
<ellipse rx="65.55" ry="64.64" fill="#ff9400"/>
<ellipse rx="62.19" ry="61.33" fill="#ff8f00"/>
<ellipse rx="58.63" ry="57.82" fill="#ff8a00"/>
<ellipse rx="54.84" ry="54.09" fill="#ff8500"/>
<ellipse rx="50.78" ry="50.07" fill="#ff8000"/>
<ellipse rx="46.35" ry="45.71" fill="#ff7b00"/>
<ellipse rx="41.46" ry="40.88" fill="#ff7600"/>
<ellipse rx="35.9" ry="35.41" fill="#ff7100"/>
<ellipse rx="29.32" ry="28.91" fill="#ff6c00"/>
<ellipse rx="20.73" ry="20.44" fill="#ff6700"/>
<ellipse rx="174.3" ry="171.89" fill="none" stroke="#222" stroke-opacity=".8" stroke-width=".48"/>
<ellipse rx="139.96" ry="138.02" fill="none" stroke="#222" stroke-opacity=".8" stroke-width=".48"/>
<ellipse rx="93.78" ry="92.48" fill="none" stroke="#222" stroke-opacity=".8" stroke-width=".48"/>
</g></g>
<rect x="322.7" y="527" width="209.3" height="231" fill="none" stroke="#444" stroke-opacity=".6" stroke-width=".5"/>
<line x1="322.7" y1="758" x2="322.7" y2="763" stroke="#555" stroke-width=".5"/>
<text x="322.7" y="773.4" font-size="7.5" text-anchor="middle" font-weight="normal" fill="#222" textLength="9.07" lengthAdjust="spacingAndGlyphs">0.5</text>
<line x1="364.56" y1="758" x2="364.56" y2="763" stroke="#555" stroke-width=".5"/>
<text x="364.56" y="773.4" font-size="7.5" text-anchor="middle" font-weight="normal" fill="#222" textLength="9.07" lengthAdjust="spacingAndGlyphs">0.7</text>
<line x1="406.42" y1="758" x2="406.42" y2="763" stroke="#555" stroke-width=".5"/>
<text x="406.42" y="773.4" font-size="7.5" text-anchor="middle" font-weight="normal" fill="#222" textLength="9.07" lengthAdjust="spacingAndGlyphs">0.9</text>
<line x1="448.28" y1="758" x2="448.28" y2="763" stroke="#555" stroke-width=".5"/>
<text x="448.28" y="773.4" font-size="7.5" text-anchor="middle" font-weight="normal" fill="#222" textLength="9.07" lengthAdjust="spacingAndGlyphs">1.1</text>
<line x1="490.14" y1="758" x2="490.14" y2="763" stroke="#555" stroke-width=".5"/>
<text x="490.14" y="773.4" font-size="7.5" text-anchor="middle" font-weight="normal" fill="#222" textLength="9.07" lengthAdjust="spacingAndGlyphs">1.3</text>
<line x1="532" y1="758" x2="532" y2="763" stroke="#555" stroke-width=".5"/>
<text x="532" y="773.4" font-size="7.5" text-anchor="middle" font-weight="normal" fill="#222" textLength="9.07" lengthAdjust="spacingAndGlyphs">1.5</text>
<line x1="317.7" y1="758" x2="322.7" y2="758" stroke="#555" stroke-width=".5"/>
<text x="315.9" y="756.5" font-size="7.5" text-anchor="end" font-weight="normal" fill="#222" textLength="12.7" lengthAdjust="spacingAndGlyphs">0.05</text>
<line x1="317.7" y1="700.25" x2="322.7" y2="700.25" stroke="#555" stroke-width=".5"/>
<text x="315.9" y="698.75" font-size="7.5" text-anchor="end" font-weight="normal" fill="#222" textLength="9.07" lengthAdjust="spacingAndGlyphs">0.1</text>
<line x1="317.7" y1="642.5" x2="322.7" y2="642.5" stroke="#555" stroke-width=".5"/>
<text x="315.9" y="641" font-size="7.5" text-anchor="end" font-weight="normal" fill="#222" textLength="12.7" lengthAdjust="spacingAndGlyphs">0.15</text>
<line x1="317.7" y1="584.75" x2="322.7" y2="584.75" stroke="#555" stroke-width=".5"/>
<text x="315.9" y="583.25" font-size="7.5" text-anchor="end" font-weight="normal" fill="#222" textLength="9.07" lengthAdjust="spacingAndGlyphs">0.2</text>
<line x1="317.7" y1="527" x2="322.7" y2="527" stroke="#555" stroke-width=".5"/>
<text x="315.9" y="525.5" font-size="7.5" text-anchor="end" font-weight="normal" fill="#222" textLength="12.7" lengthAdjust="spacingAndGlyphs">0.25</text>
<rect x="327.5" y="532.3" width="8" height="6.4" fill="#fff" stroke="#555" stroke-width=".45"/>
<text x="331.5" y="537.36" font-size="5.120000000000001" text-anchor="middle" font-weight="normal" fill="#333" textLength="6.19" lengthAdjust="spacingAndGlyphs">2.6</text>
<rect x="507" y="535.3" width="8" height="6.4" fill="#fff" stroke="#555" stroke-width=".45"/>
<text x="511" y="540.36" font-size="5.120000000000001" text-anchor="middle" font-weight="normal" fill="#333" textLength="6.19" lengthAdjust="spacingAndGlyphs">2.7</text>
<rect x="379" y="666.8" width="8" height="6.4" fill="#fff" stroke="#555" stroke-width=".45"/>
<text x="383" y="671.86" font-size="5.120000000000001" text-anchor="middle" font-weight="normal" fill="#333" textLength="6.19" lengthAdjust="spacingAndGlyphs">2.7</text>
<rect x="402" y="734.8" width="8" height="6.4" fill="#fff" stroke="#555" stroke-width=".45"/>
<text x="406" y="739.86" font-size="5.120000000000001" text-anchor="middle" font-weight="normal" fill="#333" textLength="6.19" lengthAdjust="spacingAndGlyphs">2.6</text>
<rect x="338" y="736.8" width="8" height="6.4" fill="#fff" stroke="#555" stroke-width=".45"/>
<text x="342" y="741.86" font-size="5.120000000000001" text-anchor="middle" font-weight="normal" fill="#333" textLength="6.19" lengthAdjust="spacingAndGlyphs">2.5</text>
<circle cx="322.7" cy="527" r="2" fill="#cc0612" stroke="#7d0a12" stroke-width=".5"/>
<circle cx="532" cy="527" r="2" fill="#cc0612" stroke="#7d0a12" stroke-width=".5"/>
<circle cx="322.7" cy="758" r="2" fill="#cc0612" stroke="#7d0a12" stroke-width=".5"/>
<circle cx="532" cy="758" r="2" fill="#cc0612" stroke="#7d0a12" stroke-width=".5"/>
<circle cx="427.35" cy="642.5" r="1.9" fill="#cc0612" stroke="#7d0a12" stroke-width=".5"/>
<text x="422.75" y="643.8" font-size="3.6" text-anchor="middle" font-weight="normal" fill="#333">5</text>
<text x="382.4" y="522.6" font-size="6.7" text-anchor="start" font-weight="bold" fill="#222" textLength="80.9" lengthAdjust="spacingAndGlyphs">Number of yeast cells (10<tspan font-size="4.02" dy="-2.21">8</tspan><tspan dy="2.21">/mL)</tspan></text>
<text x="370" y="787.7" font-size="6.6" text-anchor="start" font-weight="normal" fill="#333" textLength="114" lengthAdjust="spacingAndGlyphs">B: Concentration of corn steep liquor (%)</text>
<text x="290.6" y="691.2" font-size="6.6" text-anchor="start" font-weight="normal" fill="#333" transform="rotate(-90 290.6 691.2)" textLength="99.6" lengthAdjust="spacingAndGlyphs">C: Concentration of KH2PO4 (%)</text>
<text x="283.2" y="538.6" font-size="9.8" text-anchor="start" font-weight="bold" fill="#111" textLength="6.3" lengthAdjust="spacingAndGlyphs">F.</text>
<g><path d="M46.8,162.3L139.1,131.4L231.4,162.3" stroke="#666" stroke-width=".5" fill="none"/><path d="M45.7,144.2L139.1,115L232.5,144.2" stroke="#666" stroke-width=".5" fill="none"/><path d="M44.6,125.8L139.1,98.3L233.6,125.8" stroke="#666" stroke-width=".5" fill="none"/><path d="M43.5,106.9L139.1,81.2L234.7,106.9" stroke="#666" stroke-width=".5" fill="none"/><path d="M42.4,87.6L139.1,63.8L235.8,87.6" stroke="#666" stroke-width=".5" fill="none"/><path d="M41.2,67.8L139.1,46L237,67.8" stroke="#666" stroke-width=".5" fill="none"/><path d="M46.8,162.3L41.2,67.8" stroke="#666" stroke-width="0.5" fill="none"/><path d="M69.8,154.5L65.7,62.4" stroke="#666" stroke-width="0.5" fill="none"/><path d="M92.9,146.8L90.1,56.9" stroke="#666" stroke-width="0.5" fill="none"/><path d="M116,139.1L114.6,51.5" stroke="#666" stroke-width="0.5" fill="none"/><path d="M139.1,131.4L139.1,46" stroke="#666" stroke-width="0.5" fill="none"/><path d="M157.6,137.6L158.7,50.4" stroke="#666" stroke-width="0.5" fill="none"/><path d="M176,143.7L178.3,54.7" stroke="#666" stroke-width="0.5" fill="none"/><path d="M194.5,149.9L197.8,59.1" stroke="#666" stroke-width="0.5" fill="none"/><path d="M213,156.1L217.4,63.5" stroke="#666" stroke-width="0.5" fill="none"/><path d="M231.4,162.3L237,67.8" stroke="#666" stroke-width="0.5" fill="none"/><path d="M48.6,193.4L41.2,67.8" stroke="#444" stroke-width="0.55" fill="none"/><path d="M229.6,193.4L237,67.8" stroke="#666" stroke-width="0.5" fill="none"/></g>
<clipPath id="flA"><path d="M48.6,193.4L139.1,236L229.6,193.4L139.1,159.8Z"/></clipPath>
<path d="M48.6,193.4L139.1,236L229.6,193.4L139.1,159.8Z" fill="#626262"/>
<g clip-path="url(#flA)" fill="none" stroke-width="1.15">
<path d="M177.7,203.3L175.6,204.2L173,204.9L170.2,205.5L167,205.9L163.5,206.1L159.8,206.2L155.9,206.1L151.8,205.8L147.5,205.4L143.2,204.8L138.7,204L134.3,203.1L129.8,202.1L125.5,201L121.2,199.7L117,198.4L113,196.9L109.2,195.4L105.6,193.8L102.2,192.1L99.1,190.5L96.4,188.8L93.9,187.1L91.7,185.4L89.9,183.7L88.4,182.1L87.3,180.5L86.5,179L86.1,177.5L86,176.1L86.3,174.8L86.9,173.5L87.8,172.4L89.1,171.4L90.6,170.4L92.5,169.6L94.6,169L97,168.4L99.7,168L102.6,167.6L105.7,167.5L109,167.4L112.4,167.5L116,167.7L119.8,168L123.6,168.5L127.5,169.1L131.5,169.8L135.5,170.6L139.5,171.6L143.5,172.6L147.4,173.8L151.3,175L155.1,176.4L158.7,177.8L162.2,179.3L165.5,180.8L168.5,182.4L171.4,184.1L173.9,185.8L176.2,187.5L178.2,189.2L179.9,190.8L181.2,192.5L182.1,194.1L182.7,195.7L182.8,197.2L182.6,198.7L182,200L181,201.2L179.5,202.4L177.7,203.3Z" stroke="#d9b31c"/>
<path d="M199.6,212L196.4,213.3L192.7,214.4L188.5,215.2L183.8,215.8L178.6,216.2L173.1,216.3L167.2,216.1L161.1,215.7L154.7,215.1L148.2,214.2L141.6,213L135,211.7L128.4,210.1L121.9,208.4L115.6,206.5L109.5,204.4L103.6,202.2L98.1,200L92.9,197.6L88.1,195.2L83.7,192.7L79.8,190.2L76.3,187.8L73.4,185.3L70.9,182.9L68.9,180.6L67.4,178.3L66.4,176.1L66,174L66,172L66.5,170.1L67.5,168.4L68.9,166.8L70.8,165.4L73.1,164.1L75.8,163L78.8,162.1L82.3,161.3L86.1,160.7L90.1,160.3L94.5,160L99.2,159.9L104,160.1L109.1,160.3L114.4,160.8L119.8,161.4L125.3,162.3L130.9,163.2L136.6,164.4L142.3,165.7L148,167.2L153.6,168.8L159.2,170.5L164.6,172.4L169.9,174.4L174.9,176.5L179.7,178.8L184.3,181.1L188.5,183.4L192.4,185.8L195.8,188.3L198.9,190.8L201.4,193.3L203.5,195.7L205.1,198.1L206,200.5L206.4,202.7L206.3,204.9L205.5,206.9L204.1,208.8L202.1,210.5L199.6,212Z" stroke="#9fd91c"/>
<path d="M218.3,219.4L214.4,221.1L209.7,222.5L204.3,223.6L198.3,224.4L191.7,224.9L184.6,225L177.1,224.8L169.2,224.3L161,223.4L152.6,222.2L144.1,220.8L135.6,219L127.2,217L118.9,214.7L110.8,212.2L103.1,209.6L95.7,206.7L88.8,203.8L82.3,200.8L76.3,197.7L70.9,194.6L66.1,191.4L61.9,188.3L58.3,185.3L55.3,182.2L53,179.3L51.3,176.5L50.3,173.8L49.8,171.2L50,168.8L50.7,166.5L52,164.4L53.9,162.4L56.3,160.7L59.2,159.2L62.6,157.8L66.4,156.7L70.7,155.7L75.4,155L80.4,154.5L85.8,154.2L91.5,154.1L97.5,154.2L103.7,154.6L110.2,155.1L116.8,155.9L123.6,156.9L130.5,158.1L137.5,159.5L144.5,161.1L151.6,162.8L158.6,164.8L165.5,167L172.2,169.3L178.8,171.7L185.2,174.3L191.3,177.1L197.1,179.9L202.5,182.9L207.5,185.9L212,189L216,192.1L219.4,195.3L222.2,198.4L224.3,201.5L225.7,204.5L226.4,207.4L226.4,210.1L225.5,212.8L223.9,215.2L221.5,217.4L218.3,219.4Z" stroke="#3ed91c"/>
<path d="M233.7,225.5L229.2,227.6L223.7,229.3L217.4,230.6L210.4,231.6L202.6,232.2L194.2,232.3L185.2,232.1L175.8,231.4L166.1,230.4L156.2,228.9L146.2,227.1L136.1,225L126.2,222.6L116.4,219.9L107,216.9L97.9,213.7L89.3,210.4L81.2,206.9L73.7,203.4L66.9,199.7L60.7,196.1L55.2,192.4L50.4,188.8L46.4,185.2L43.1,181.7L40.6,178.3L38.7,175.1L37.6,172L37.2,169L37.5,166.2L38.5,163.6L40.1,161.2L42.4,159.1L45.2,157.1L48.6,155.3L52.5,153.8L56.9,152.5L61.9,151.5L67.2,150.7L73,150.1L79.1,149.8L85.7,149.7L92.5,149.8L99.6,150.2L107,150.8L114.5,151.7L122.3,152.8L130.2,154.1L138.2,155.7L146.2,157.5L154.3,159.5L162.4,161.7L170.3,164.2L178.2,166.8L185.8,169.6L193.2,172.6L200.4,175.8L207.2,179L213.5,182.5L219.4,186L224.8,189.6L229.6,193.2L233.7,196.9L237.1,200.5L239.8,204.1L241.6,207.7L242.6,211.1L242.7,214.4L241.9,217.6L240.1,220.5L237.4,223.1L233.7,225.5Z" stroke="#1cd95c"/>
<path d="M248.7,231.4L243.6,233.8L237.4,235.8L230.2,237.4L222.1,238.6L213.2,239.2L203.5,239.4L193.2,239.1L182.4,238.3L171.2,237.1L159.7,235.4L148.1,233.3L136.6,230.9L125.2,228L114,224.9L103.2,221.4L92.9,217.8L83.2,213.9L74,209.9L65.6,205.8L57.9,201.7L51,197.5L44.9,193.3L39.6,189.2L35.2,185.1L31.7,181.2L28.9,177.4L27,173.8L25.9,170.3L25.6,167L26.1,163.9L27.3,161L29.2,158.4L31.8,156L35,153.8L38.9,151.9L43.3,150.2L48.3,148.8L53.8,147.6L59.8,146.7L66.2,146.1L73.1,145.7L80.3,145.6L87.9,145.8L95.8,146.2L104,146.9L112.5,147.8L121.1,149.1L129.9,150.5L138.8,152.3L147.8,154.2L156.8,156.5L165.9,158.9L174.8,161.6L183.6,164.5L192.3,167.7L200.7,171L208.8,174.5L216.6,178.2L223.9,182.1L230.7,186L236.9,190.1L242.5,194.2L247.3,198.4L251.4,202.6L254.6,206.7L256.9,210.8L258.2,214.8L258.4,218.6L257.7,222.2L255.8,225.6L252.8,228.7L248.7,231.4Z" stroke="#1cd9bd"/>
</g>
<path d="M48.6,193.4L139.1,236L229.6,193.4" stroke="#222" stroke-width=".6" fill="none"/>
<g stroke="#1a2a10" stroke-opacity=".7" stroke-width=".45" stroke-linejoin="round">
<path d="M139.1,88.8L143.4,89L139.1,86L134.8,85.9Z" fill="#69cd0d"/>
<path d="M134.8,85.9L139.1,86L134.8,83.6L130.5,83.5Z" fill="#aad30c"/>
<path d="M143.4,89L147.7,89.3L143.4,86.3L139.1,86Z" fill="#77ce0d"/>
<path d="M130.5,83.5L134.8,83.6L130.4,81.6L126.1,81.5Z" fill="#e9d90a"/>
<path d="M139.1,86L143.4,86.3L139.1,83.8L134.8,83.6Z" fill="#bcd30c"/>
<path d="M147.7,89.3L152,89.7L147.8,86.8L143.4,86.3Z" fill="#84ce0d"/>
<path d="M134.8,83.6L139.1,83.8L134.7,81.9L130.4,81.6Z" fill="#fbd90a"/>
<path d="M143.4,86.3L147.8,86.8L143.5,84.3L139.1,83.8Z" fill="#cbd40c"/>
<path d="M126.1,81.5L130.4,81.6L125.9,80.1L121.6,80Z" fill="#fcc009"/>
<path d="M152,89.7L156.4,90.3L152.2,87.4L147.8,86.8Z" fill="#90cf0d"/>
<path d="M121.6,80L125.9,80.1L121.4,79.1L117.1,79Z" fill="#fca107"/>
<path d="M130.4,81.6L134.7,81.9L130.3,80.4L125.9,80.1Z" fill="#fcb008"/>
<path d="M139.1,83.8L143.5,84.3L139.1,82.3L134.7,81.9Z" fill="#fbcd0a"/>
<path d="M147.8,86.8L152.2,87.4L147.9,84.9L143.5,84.3Z" fill="#d8d50b"/>
<path d="M156.4,90.3L160.9,91.1L156.7,88.1L152.2,87.4Z" fill="#9acf0d"/>
<path d="M117.1,79L121.4,79.1L116.8,78.6L112.6,78.5Z" fill="#fd9305"/>
<path d="M125.9,80.1L130.3,80.4L125.8,79.4L121.4,79.1Z" fill="#fd9807"/>
<path d="M134.7,81.9L139.1,82.3L134.7,80.8L130.3,80.4Z" fill="#fca308"/>
<path d="M143.5,84.3L147.9,84.9L143.5,82.9L139.1,82.3Z" fill="#fbc30a"/>
<path d="M152.2,87.4L156.7,88.1L152.4,85.6L147.9,84.9Z" fill="#e1d50b"/>
<path d="M160.9,91.1L165.4,92L161.2,89L156.7,88.1Z" fill="#a1d00d"/>
<path d="M112.6,78.5L116.8,78.6L112.2,78.7L107.9,78.5Z" fill="#fe8804"/>
<path d="M121.4,79.1L125.8,79.4L121.2,78.9L116.8,78.6Z" fill="#fd8b05"/>
<path d="M130.3,80.4L134.7,80.8L130.1,79.8L125.8,79.4Z" fill="#fd9107"/>
<path d="M139.1,82.3L143.5,82.9L139.1,81.4L134.7,80.8Z" fill="#fc9d08"/>
<path d="M147.9,84.9L152.4,85.6L148,83.6L143.5,82.9Z" fill="#fbbb0a"/>
<path d="M156.7,88.1L161.2,89L156.9,86.6L152.4,85.6Z" fill="#e8d60b"/>
<path d="M165.4,92L170,93.1L165.8,90.1L161.2,89Z" fill="#a5d00d"/>
<path d="M107.9,78.5L112.2,78.7L107.5,79.2L103.3,79.1Z" fill="#fe7f02"/>
<path d="M116.8,78.6L121.2,78.9L116.6,78.9L112.2,78.7Z" fill="#fe7b04"/>
<path d="M125.8,79.4L130.1,79.8L125.6,79.3L121.2,78.9Z" fill="#fd8005"/>
<path d="M152.4,85.6L156.9,86.6L152.6,84.6L148,83.6Z" fill="#fbb509"/>
<path d="M161.2,89L165.8,90.1L161.5,87.6L156.9,86.6Z" fill="#ecd60b"/>
<path d="M170,93.1L174.6,94.4L170.4,91.4L165.8,90.1Z" fill="#a6d00d"/>
<path d="M134.7,80.8L139.1,81.4L134.6,80.4L130.1,79.8Z" fill="#fd8c06"/>
<path d="M143.5,82.9L148,83.6L143.6,82.1L139.1,81.4Z" fill="#fc9908"/>
<path d="M112.2,78.7L116.6,78.9L111.9,79.5L107.5,79.2Z" fill="#fe7202"/>
<path d="M121.2,78.9L125.6,79.3L120.9,79.4L116.6,78.9Z" fill="#fe7003"/>
<path d="M156.9,86.6L161.5,87.6L157.2,85.6L152.6,84.6Z" fill="#fbb209"/>
<path d="M165.8,90.1L170.4,91.4L166.2,88.9L161.5,87.6Z" fill="#edd60b"/>
<path d="M103.3,79.1L107.5,79.2L102.8,80.4L98.5,80.2Z" fill="#ff7d01"/>
<path d="M130.1,79.8L134.6,80.4L130,79.9L125.6,79.3Z" fill="#fd7705"/>
<path d="M139.1,81.4L143.6,82.1L139.1,81.1L134.6,80.4Z" fill="#fd8706"/>
<path d="M148,83.6L152.6,84.6L148.2,83.1L143.6,82.1Z" fill="#fc9608"/>
<path d="M174.6,94.4L179.3,95.8L175.1,92.8L170.4,91.4Z" fill="#a5d10c"/>
<path d="M98.5,80.2L102.8,80.4L98,82.1L93.8,81.9Z" fill="#ff8100"/>
<path d="M107.5,79.2L111.9,79.5L107.1,80.7L102.8,80.4Z" fill="#ff6f01"/>
<path d="M116.6,78.9L120.9,79.4L116.3,80L111.9,79.5Z" fill="#fe6602"/>
<path d="M125.6,79.3L130,79.9L125.4,80L120.9,79.4Z" fill="#fe6703"/>
<path d="M134.6,80.4L139.1,81.1L134.5,80.7L130,79.9Z" fill="#fd7105"/>
<path d="M143.6,82.1L148.2,83.1L143.7,82.1L139.1,81.1Z" fill="#fd8306"/>
<path d="M152.6,84.6L157.2,85.6L152.8,84.2L148.2,83.1Z" fill="#fc9508"/>
<path d="M161.5,87.6L166.2,88.9L161.8,86.9L157.2,85.6Z" fill="#fcb209"/>
<path d="M170.4,91.4L175.1,92.8L170.9,90.4L166.2,88.9Z" fill="#ecd70b"/>
<path d="M179.3,95.8L184,97.4L179.8,94.5L175.1,92.8Z" fill="#a0d10c"/>
<path d="M93.8,81.9L98,82.1L93.2,84.3L89,84.1Z" fill="#ff8c00"/>
<path d="M102.8,80.4L107.1,80.7L102.4,82.4L98,82.1Z" fill="#ff7300"/>
<path d="M111.9,79.5L116.3,80L111.5,81.1L107.1,80.7Z" fill="#ff6301"/>
<path d="M120.9,79.4L125.4,80L120.7,80.6L116.3,80Z" fill="#fe5d02"/>
<path d="M130,79.9L134.5,80.7L129.9,80.8L125.4,80Z" fill="#fe6003"/>
<path d="M139.1,81.1L143.7,82.1L139.1,81.6L134.5,80.7Z" fill="#fd6c04"/>
<path d="M148.2,83.1L152.8,84.2L148.3,83.2L143.7,82.1Z" fill="#fd8006"/>
<path d="M157.2,85.6L161.8,86.9L157.4,85.4L152.8,84.2Z" fill="#fc9408"/>
<path d="M166.2,88.9L170.9,90.4L166.5,88.4L161.8,86.9Z" fill="#fcb409"/>
<path d="M175.1,92.8L179.8,94.5L175.6,92L170.9,90.4Z" fill="#e7d70b"/>
<path d="M184,97.4L188.8,99.2L184.6,96.3L179.8,94.5Z" fill="#99d10c"/>
<path d="M98,82.1L102.4,82.4L97.6,84.7L93.2,84.3Z" fill="#ff7e00"/>
<path d="M107.1,80.7L111.5,81.1L106.8,82.9L102.4,82.4Z" fill="#ff6700"/>
<path d="M125.4,80L129.9,80.8L125.2,81.4L120.7,80.6Z" fill="#fe5602"/>
<path d="M134.5,80.7L139.1,81.6L134.5,81.7L129.9,80.8Z" fill="#fe5b03"/>
<path d="M143.7,82.1L148.3,83.2L143.7,82.8L139.1,81.6Z" fill="#fd6904"/>
<path d="M152.8,84.2L157.4,85.4L152.9,84.5L148.3,83.2Z" fill="#fd8006"/>
<path d="M170.9,90.4L175.6,92L171.3,90L166.5,88.4Z" fill="#fcb809"/>
<path d="M179.8,94.5L184.6,96.3L180.4,93.8L175.6,92Z" fill="#e0d70b"/>
<path d="M89,84.1L93.2,84.3L88.4,87.1L84.2,86.9Z" fill="#ff9b00"/>
<path d="M116.3,80L120.7,80.6L116,81.8L111.5,81.1Z" fill="#ff5a01"/>
<path d="M161.8,86.9L166.5,88.4L162.1,86.9L157.4,85.4Z" fill="#fc9607"/>
<path d="M188.8,99.2L193.6,101.2L189.5,98.2L184.6,96.3Z" fill="#8fd20c"/>
<path d="M84.2,86.9L88.4,87.1L83.5,90.5L79.3,90.3Z" fill="#ffad00"/>
<path d="M102.4,82.4L106.8,82.9L101.9,85.2L97.6,84.7Z" fill="#ff7200"/>
<path d="M129.9,80.8L134.5,81.7L129.8,82.4L125.2,81.4Z" fill="#ff5101"/>
<path d="M139.1,81.6L143.7,82.8L139.1,82.9L134.5,81.7Z" fill="#fe5903"/>
<path d="M148.3,83.2L152.9,84.5L148.4,84.1L143.7,82.8Z" fill="#fe6904"/>
<path d="M175.6,92L180.4,93.8L176.1,91.8L171.3,90Z" fill="#fcbf09"/>
<path d="M193.6,101.2L198.4,103.4L194.3,100.4L189.5,98.2Z" fill="#82d20c"/>
<path d="M93.2,84.3L97.6,84.7L92.7,87.5L88.4,87.1Z" fill="#ff9000"/>
<path d="M111.5,81.1L116,81.8L111.2,83.5L106.8,82.9Z" fill="#ff5e00"/>
<path d="M120.7,80.6L125.2,81.4L120.5,82.6L116,81.8Z" fill="#ff5300"/>
<path d="M157.4,85.4L162.1,86.9L157.7,85.9L152.9,84.5Z" fill="#fd8106"/>
<path d="M166.5,88.4L171.3,90L166.9,88.5L162.1,86.9Z" fill="#fc9807"/>
<path d="M184.6,96.3L189.5,98.2L185.3,95.8L180.4,93.8Z" fill="#d6d80b"/>
<path d="M88.4,87.1L92.7,87.5L87.8,90.9L83.5,90.5Z" fill="#ffa300"/>
<path d="M134.5,81.7L139.1,82.9L134.4,83.5L129.8,82.4Z" fill="#ff4f01"/>
<path d="M143.7,82.8L148.4,84.1L143.8,84.2L139.1,82.9Z" fill="#fe5803"/>
<path d="M189.5,98.2L194.3,100.4L190.2,97.9L185.3,95.8Z" fill="#c9d80a"/>
<path d="M79.3,90.3L83.5,90.5L78.6,94.5L74.4,94.2Z" fill="#ffcd00"/>
<path d="M97.6,84.7L101.9,85.2L97.1,88L92.7,87.5Z" fill="#ff8400"/>
<path d="M106.8,82.9L111.2,83.5L106.4,85.9L101.9,85.2Z" fill="#ff6800"/>
<path d="M116,81.8L120.5,82.6L115.7,84.4L111.2,83.5Z" fill="#ff5600"/>
<path d="M125.2,81.4L129.8,82.4L125.1,83.6L120.5,82.6Z" fill="#ff4e00"/>
<path d="M152.9,84.5L157.7,85.9L153.1,85.5L148.4,84.1Z" fill="#fe6b04"/>
<path d="M162.1,86.9L166.9,88.5L162.5,87.6L157.7,85.9Z" fill="#fd8506"/>
<path d="M171.3,90L176.1,91.8L171.7,90.4L166.9,88.5Z" fill="#fc9c07"/>
<path d="M180.4,93.8L185.3,95.8L181,93.8L176.1,91.8Z" fill="#fcc809"/>
<path d="M198.4,103.4L203.3,105.7L199.3,102.8L194.3,100.4Z" fill="#76d20c"/>
<path d="M74.4,94.2L78.6,94.5L73.7,99.1L69.5,98.8Z" fill="#fdff00"/>
<path d="M92.7,87.5L97.1,88L92.2,91.5L87.8,90.9Z" fill="#ff9c00"/>
<path d="M139.1,82.9L143.8,84.2L139.1,84.9L134.4,83.5Z" fill="#ff4e01"/>
<path d="M185.3,95.8L190.2,97.9L185.9,96L181,93.8Z" fill="#fcd409"/>
<path d="M203.3,105.7L208.3,108.2L204.2,105.3L199.3,102.8Z" fill="#67d20c"/>
<path d="M83.5,90.5L87.8,90.9L82.9,94.9L78.6,94.5Z" fill="#ffbc00"/>
<path d="M111.2,83.5L115.7,84.4L110.9,86.7L106.4,85.9Z" fill="#ff6100"/>
<path d="M120.5,82.6L125.1,83.6L120.3,85.4L115.7,84.4Z" fill="#ff5100"/>
<path d="M129.8,82.4L134.4,83.5L129.7,84.8L125.1,83.6Z" fill="#ff4c00"/>
<path d="M148.4,84.1L153.1,85.5L148.5,85.7L143.8,84.2Z" fill="#fe5a02"/>
<path d="M157.7,85.9L162.5,87.6L157.9,87.2L153.1,85.5Z" fill="#fe6f04"/>
<path d="M166.9,88.5L171.7,90.4L167.3,89.4L162.5,87.6Z" fill="#fd8a06"/>
<path d="M194.3,100.4L199.3,102.8L195.1,100.3L190.2,97.9Z" fill="#b9d80a"/>
<path d="M101.9,85.2L106.4,85.9L101.5,88.8L97.1,88Z" fill="#ff7b00"/>
<path d="M176.1,91.8L181,93.8L176.6,92.4L171.7,90.4Z" fill="#fca207"/>
<path d="M78.6,94.5L82.9,94.9L78,99.5L73.7,99.1Z" fill="#fff000"/>
<path d="M199.3,102.8L204.2,105.3L200.1,102.9L195.1,100.3Z" fill="#a6d80a"/>
<path d="M69.5,98.8L73.7,99.1L68.8,104.2L64.6,103.9Z" fill="#beff00"/>
<path d="M87.8,90.9L92.2,91.5L87.3,95.5L82.9,94.9Z" fill="#ffb300"/>
<path d="M97.1,88L101.5,88.8L96.6,92.2L92.2,91.5Z" fill="#ff9500"/>
<path d="M115.7,84.4L120.3,85.4L115.4,87.8L110.9,86.7Z" fill="#ff5c00"/>
<path d="M125.1,83.6L129.7,84.8L124.9,86.6L120.3,85.4Z" fill="#ff4f00"/>
<path d="M134.4,83.5L139.1,84.9L134.4,86.1L129.7,84.8Z" fill="#ff4b00"/>
<path d="M143.8,84.2L148.5,85.7L143.8,86.4L139.1,84.9Z" fill="#ff5001"/>
<path d="M153.1,85.5L157.9,87.2L153.3,87.4L148.5,85.7Z" fill="#fe5e02"/>
<path d="M162.5,87.6L167.3,89.4L162.8,89.1L157.9,87.2Z" fill="#fe7504"/>
<path d="M181,93.8L185.9,96L181.5,94.6L176.6,92.4Z" fill="#fcab07"/>
<path d="M190.2,97.9L195.1,100.3L190.9,98.4L185.9,96Z" fill="#f7de09"/>
<path d="M208.3,108.2L213.3,110.9L209.3,108L204.2,105.3Z" fill="#57d30c"/>
<path d="M106.4,85.9L110.9,86.7L106,89.7L101.5,88.8Z" fill="#ff7400"/>
<path d="M171.7,90.4L176.6,92.4L172.2,91.5L167.3,89.4Z" fill="#fd9005"/>
<path d="M82.9,94.9L87.3,95.5L82.3,100.2L78,99.5Z" fill="#ffe100"/>
<path d="M195.1,100.3L200.1,102.9L195.9,100.9L190.9,98.4Z" fill="#e4de09"/>
<path d="M73.7,99.1L78,99.5L73,104.7L68.8,104.2Z" fill="#d0ff00"/>
<path d="M101.5,88.8L106,89.7L101.1,93.2L96.6,92.2Z" fill="#ff8e00"/>
<path d="M120.3,85.4L124.9,86.6L120,89L115.4,87.8Z" fill="#ff5a00"/>
<path d="M129.7,84.8L134.4,86.1L129.6,88L124.9,86.6Z" fill="#ff4f00"/>
<path d="M148.5,85.7L153.3,87.4L148.6,88.1L143.8,86.4Z" fill="#ff5501"/>
<path d="M157.9,87.2L162.8,89.1L158.2,89.3L153.3,87.4Z" fill="#fe6502"/>
<path d="M176.6,92.4L181.5,94.6L177.1,93.7L172.2,91.5Z" fill="#fd9705"/>
<path d="M204.2,105.3L209.3,108L205.1,105.6L200.1,102.9Z" fill="#91d80a"/>
<path d="M64.6,103.9L68.8,104.2L63.8,109.9L59.7,109.5Z" fill="#77ff00"/>
<path d="M92.2,91.5L96.6,92.2L91.7,96.3L87.3,95.5Z" fill="#ffac00"/>
<path d="M110.9,86.7L115.4,87.8L110.5,90.7L106,89.7Z" fill="#ff6f00"/>
<path d="M139.1,84.9L143.8,86.4L139.1,87.7L134.4,86.1Z" fill="#ff4d00"/>
<path d="M167.3,89.4L172.2,91.5L167.7,91.1L162.8,89.1Z" fill="#fe7d04"/>
<path d="M185.9,96L190.9,98.4L186.5,97L181.5,94.6Z" fill="#fcb907"/>
<path d="M213.3,110.9L218.3,113.8L214.3,110.9L209.3,108Z" fill="#44d30c"/>
<path d="M59.7,109.5L63.8,109.9L58.9,116.3L54.7,115.8Z" fill="#37ff00"/>
<path d="M78,99.5L82.3,100.2L77.3,105.4L73,104.7Z" fill="#deff00"/>
<path d="M87.3,95.5L91.7,96.3L86.7,101L82.3,100.2Z" fill="#ffd600"/>
<path d="M106,89.7L110.5,90.7L105.6,94.3L101.1,93.2Z" fill="#ff8a00"/>
<path d="M124.9,86.6L129.6,88L124.7,90.4L120,89Z" fill="#ff5a00"/>
<path d="M153.3,87.4L158.2,89.3L153.5,90L148.6,88.1Z" fill="#ff5b01"/>
<path d="M172.2,91.5L177.1,93.7L172.6,93.4L167.7,91.1Z" fill="#fe8804"/>
<path d="M190.9,98.4L195.9,100.9L191.5,99.6L186.5,97Z" fill="#fccb07"/>
<path d="M200.1,102.9L205.1,105.6L200.9,103.7L195.9,100.9Z" fill="#cedf09"/>
<path d="M218.3,113.8L223.4,116.9L219.4,114.1L214.3,110.9Z" fill="#30d30c"/>
<path d="M68.8,104.2L73,104.7L68.1,110.5L63.8,109.9Z" fill="#87ff00"/>
<path d="M96.6,92.2L101.1,93.2L96.1,97.3L91.7,96.3Z" fill="#ffa800"/>
<path d="M115.4,87.8L120,89L115.1,92L110.5,90.7Z" fill="#ff6d00"/>
<path d="M134.4,86.1L139.1,87.7L134.3,89.5L129.6,88Z" fill="#ff5100"/>
<path d="M143.8,86.4L148.6,88.1L143.9,89.4L139.1,87.7Z" fill="#ff5200"/>
<path d="M162.8,89.1L167.7,91.1L163.1,91.3L158.2,89.3Z" fill="#fe6d02"/>
<path d="M181.5,94.6L186.5,97L182.1,96.1L177.1,93.7Z" fill="#fd9f05"/>
<path d="M209.3,108L214.3,110.9L210.2,108.5L205.1,105.6Z" fill="#7ad90a"/>
<path d="M63.8,109.9L68.1,110.5L63.1,116.9L58.9,116.3Z" fill="#45ff00"/>
<path d="M91.7,96.3L96.1,97.3L91.2,102L86.7,101Z" fill="#ffcd00"/>
<path d="M110.5,90.7L115.1,92L110.2,95.6L105.6,94.3Z" fill="#ff8700"/>
<path d="M167.7,91.1L172.6,93.4L168,93.6L163.1,91.3Z" fill="#fe7802"/>
<path d="M186.5,97L191.5,99.6L187.1,98.7L182.1,96.1Z" fill="#fda905"/>
<path d="M214.3,110.9L219.4,114.1L215.4,111.7L210.2,108.5Z" fill="#65d90a"/>
<path d="M54.7,115.8L56.8,116L54.3,119.4L52.3,119.2Z" fill="#00ff02" stroke="#00ff02" stroke-opacity="1" stroke-width=".3"/>
<path d="M52.3,119.2L54.3,119.4L51.9,122.9L49.8,122.7Z" fill="#00ff28" stroke="#00ff28" stroke-opacity="1" stroke-width=".3"/>
<path d="M56.8,116L58.9,116.3L56.4,119.6L54.3,119.4Z" fill="#06ff00" stroke="#06ff00" stroke-opacity="1" stroke-width=".3"/>
<path d="M54.3,119.4L56.4,119.6L53.9,123.2L51.9,122.9Z" fill="#00ff20" stroke="#00ff20" stroke-opacity="1" stroke-width=".3"/>
<path d="M54.7,115.8L58.9,116.3L53.9,123.2L49.8,122.7Z" fill="none"/>
<path d="M73,104.7L77.3,105.4L72.4,111.2L68.1,110.5Z" fill="#95ff00"/>
<path d="M82.3,100.2L86.7,101L81.7,106.3L77.3,105.4Z" fill="#eaff00"/>
<path d="M101.1,93.2L105.6,94.3L100.7,98.4L96.1,97.3Z" fill="#ffa400"/>
<path d="M120,89L124.7,90.4L119.8,93.4L115.1,92Z" fill="#ff6d00"/>
<path d="M129.6,88L134.3,89.5L129.5,92L124.7,90.4Z" fill="#ff5c00"/>
<path d="M139.1,87.7L143.9,89.4L139.1,91.3L134.3,89.5Z" fill="#ff5500"/>
<path d="M148.6,88.1L153.5,90L148.8,91.3L143.9,89.4Z" fill="#ff5800"/>
<path d="M158.2,89.3L163.1,91.3L158.4,92.1L153.5,90Z" fill="#ff6401"/>
<path d="M177.1,93.7L182.1,96.1L177.6,95.8L172.6,93.4Z" fill="#fe9204"/>
<path d="M195.9,100.9L200.9,103.7L196.6,102.3L191.5,99.6Z" fill="#fcdf07"/>
<path d="M205.1,105.6L210.2,108.5L206,106.7L200.9,103.7Z" fill="#b6df09"/>
<path d="M223.4,116.9L226,118.6L224,117.1L221.4,115.4Z" fill="#10d30c" stroke="#10d30c" stroke-opacity="1" stroke-width=".3"/>
<path d="M226,118.6L228.5,120.2L226.6,118.7L224,117.1Z" fill="#0ad311" stroke="#0ad311" stroke-opacity="1" stroke-width=".3"/>
<path d="M221.4,115.4L224,117.1L222,115.7L219.4,114.1Z" fill="#2dd30c" stroke="#2dd30c" stroke-opacity="1" stroke-width=".3"/>
<path d="M224,117.1L226.6,118.7L224.6,117.4L222,115.7Z" fill="#21d30c" stroke="#21d30c" stroke-opacity="1" stroke-width=".3"/>
<path d="M223.4,116.9L228.5,120.2L224.6,117.4L219.4,114.1Z" fill="none"/>
<path d="M49.8,122.7L51.9,122.9L49.4,126.6L47.3,126.3Z" fill="#00ff50" stroke="#00ff50" stroke-opacity="1" stroke-width=".3"/>
<path d="M51.9,122.9L53.9,123.2L51.4,126.8L49.4,126.6Z" fill="#00ff48" stroke="#00ff48" stroke-opacity="1" stroke-width=".3"/>
<path d="M47.3,126.3L49.4,126.6L46.9,130.4L44.9,130.1Z" fill="#00ff7a" stroke="#00ff7a" stroke-opacity="1" stroke-width=".3"/>
<path d="M49.4,126.6L51.4,126.8L49,130.7L46.9,130.4Z" fill="#00ff72" stroke="#00ff72" stroke-opacity="1" stroke-width=".3"/>
<path d="M49.8,122.7L53.9,123.2L49,130.7L44.9,130.1Z" fill="none"/>
<path d="M68.1,110.5L72.4,111.2L67.4,117.7L63.1,116.9Z" fill="#50ff00"/>
<path d="M96.1,97.3L100.7,98.4L95.7,103.2L91.2,102Z" fill="#ffc800"/>
<path d="M115.1,92L119.8,93.4L114.9,97.1L110.2,95.6Z" fill="#ff8700"/>
<path d="M163.1,91.3L168,93.6L163.4,94.4L158.4,92.1Z" fill="#ff6f01"/>
<path d="M182.1,96.1L187.1,98.7L182.7,98.4L177.6,95.8Z" fill="#fe9c04"/>
<path d="M210.2,108.5L215.4,111.7L211.2,109.8L206,106.7Z" fill="#9adf09"/>
<path d="M228.5,120.2L231.1,122L229.2,120.5L226.6,118.7Z" fill="#0ad31d" stroke="#0ad31d" stroke-opacity="1" stroke-width=".3"/>
<path d="M231.1,122L233.7,123.7L231.8,122.3L229.2,120.5Z" fill="#0ad329" stroke="#0ad329" stroke-opacity="1" stroke-width=".3"/>
<path d="M226.6,118.7L229.2,120.5L227.2,119.1L224.6,117.4Z" fill="#14d30c" stroke="#14d30c" stroke-opacity="1" stroke-width=".3"/>
<path d="M229.2,120.5L231.8,122.3L229.8,120.9L227.2,119.1Z" fill="#0ad30e" stroke="#0ad30e" stroke-opacity="1" stroke-width=".3"/>
<path d="M228.5,120.2L233.7,123.7L229.8,120.9L224.6,117.4Z" fill="none"/>
<path d="M58.9,116.3L61,116.5L58.5,119.9L56.4,119.6Z" fill="#0cff00" stroke="#0cff00" stroke-opacity="1" stroke-width=".3"/>
<path d="M61,116.5L63.1,116.9L60.6,120.3L58.5,119.9Z" fill="#12ff00" stroke="#12ff00" stroke-opacity="1" stroke-width=".3"/>
<path d="M56.4,119.6L58.5,119.9L56,123.5L53.9,123.2Z" fill="#00ff1a" stroke="#00ff1a" stroke-opacity="1" stroke-width=".3"/>
<path d="M58.5,119.9L60.6,120.3L58.1,123.8L56,123.5Z" fill="#00ff13" stroke="#00ff13" stroke-opacity="1" stroke-width=".3"/>
<path d="M58.9,116.3L63.1,116.9L58.1,123.8L53.9,123.2Z" fill="none"/>
<path d="M86.7,101L91.2,102L86.2,107.3L81.7,106.3Z" fill="#f3ff00"/>
<path d="M105.6,94.3L110.2,95.6L105.3,99.8L100.7,98.4Z" fill="#ffa300"/>
<path d="M134.3,89.5L139.1,91.3L134.2,93.8L129.5,92Z" fill="#ff6000"/>
<path d="M143.9,89.4L148.8,91.3L144,93.3L139.1,91.3Z" fill="#ff5c00"/>
<path d="M172.6,93.4L177.6,95.8L173,96L168,93.6Z" fill="#fe8502"/>
<path d="M191.5,99.6L196.6,102.3L192.2,101.5L187.1,98.7Z" fill="#fdbd05"/>
<path d="M219.4,114.1L224.6,117.4L220.5,115L215.4,111.7Z" fill="#4ed90a"/>
<path d="M77.3,105.4L81.7,106.3L76.7,112.2L72.4,111.2Z" fill="#a1ff00"/>
<path d="M124.7,90.4L129.5,92L124.6,95.1L119.8,93.4Z" fill="#ff6f00"/>
<path d="M153.5,90L158.4,92.1L153.7,93.5L148.8,91.3Z" fill="#ff6100"/>
<path d="M200.9,103.7L206,106.7L201.7,105.3L196.6,102.3Z" fill="#eae507"/>
<path d="M53.9,123.2L56,123.5L53.5,127.2L51.4,126.8Z" fill="#00ff42" stroke="#00ff42" stroke-opacity="1" stroke-width=".3"/>
<path d="M56,123.5L58.1,123.8L55.6,127.5L53.5,127.2Z" fill="#00ff3c" stroke="#00ff3c" stroke-opacity="1" stroke-width=".3"/>
<path d="M51.4,126.8L53.5,127.2L51,131L49,130.7Z" fill="#00ff6c" stroke="#00ff6c" stroke-opacity="1" stroke-width=".3"/>
<path d="M53.5,127.2L55.6,127.5L53.1,131.4L51,131Z" fill="#00ff66" stroke="#00ff66" stroke-opacity="1" stroke-width=".3"/>
<path d="M53.9,123.2L58.1,123.8L53.1,131.4L49,130.7Z" fill="none"/>
<path d="M100.7,98.4L105.3,99.8L100.3,104.6L95.7,103.2Z" fill="#ffc500"/>
<path d="M177.6,95.8L182.7,98.4L178.1,98.7L173,96Z" fill="#fe9302"/>
<path d="M224.6,117.4L229.8,120.9L225.8,118.6L220.5,115Z" fill="#34d90a"/>
<path d="M63.1,116.9L65.2,117.2L62.7,120.7L60.6,120.3Z" fill="#18ff00" stroke="#18ff00" stroke-opacity="1" stroke-width=".3"/>
<path d="M60.6,120.3L62.7,120.7L60.2,124.2L58.1,123.8Z" fill="#00ff0e" stroke="#00ff0e" stroke-opacity="1" stroke-width=".3"/>
<path d="M65.2,117.2L67.4,117.7L64.9,121.1L62.7,120.7Z" fill="#1dff00" stroke="#1dff00" stroke-opacity="1" stroke-width=".3"/>
<path d="M62.7,120.7L64.9,121.1L62.4,124.7L60.2,124.2Z" fill="#00ff09" stroke="#00ff09" stroke-opacity="1" stroke-width=".3"/>
<path d="M63.1,116.9L67.4,117.7L62.4,124.7L58.1,123.8Z" fill="none"/>
<path d="M72.4,111.2L76.7,112.2L71.7,118.6L67.4,117.7Z" fill="#58ff00"/>
<path d="M91.2,102L95.7,103.2L90.7,108.6L86.2,107.3Z" fill="#f8ff00"/>
<path d="M110.2,95.6L114.9,97.1L109.9,101.3L105.3,99.8Z" fill="#ffa300"/>
<path d="M119.8,93.4L124.6,95.1L119.6,98.7L114.9,97.1Z" fill="#ff8a00"/>
<path d="M139.1,91.3L144,93.3L139.1,95.8L134.2,93.8Z" fill="#ff6700"/>
<path d="M158.4,92.1L163.4,94.4L158.6,95.8L153.7,93.5Z" fill="#ff6c00"/>
<path d="M168,93.6L173,96L168.4,96.9L163.4,94.4Z" fill="#ff7d01"/>
<path d="M187.1,98.7L192.2,101.5L187.8,101.3L182.7,98.4Z" fill="#fea804"/>
<path d="M206,106.7L211.2,109.8L206.9,108.5L201.7,105.3Z" fill="#cee507"/>
<path d="M215.4,111.7L220.5,115L216.4,113.2L211.2,109.8Z" fill="#7cdf09"/>
<path d="M81.7,106.3L86.2,107.3L81.1,113.3L76.7,112.2Z" fill="#a9ff00"/>
<path d="M129.5,92L134.2,93.8L129.3,96.9L124.6,95.1Z" fill="#ff7300"/>
<path d="M148.8,91.3L153.7,93.5L148.9,95.4L144,93.3Z" fill="#ff6500"/>
<path d="M196.6,102.3L201.7,105.3L197.4,104.5L192.2,101.5Z" fill="#fdd405"/>
<path d="M58.1,123.8L60.2,124.2L57.7,128L55.6,127.5Z" fill="#00ff36" stroke="#00ff36" stroke-opacity="1" stroke-width=".3"/>
<path d="M60.2,124.2L62.4,124.7L59.9,128.4L57.7,128Z" fill="#00ff31" stroke="#00ff31" stroke-opacity="1" stroke-width=".3"/>
<path d="M55.6,127.5L57.7,128L55.2,131.8L53.1,131.4Z" fill="#00ff60" stroke="#00ff60" stroke-opacity="1" stroke-width=".3"/>
<path d="M57.7,128L59.9,128.4L57.4,132.3L55.2,131.8Z" fill="#00ff5b" stroke="#00ff5b" stroke-opacity="1" stroke-width=".3"/>
<path d="M58.1,123.8L62.4,124.7L57.4,132.3L53.1,131.4Z" fill="none"/>
<path d="M105.3,99.8L109.9,101.3L104.9,106.1L100.3,104.6Z" fill="#ffc500"/>
<path d="M173,96L178.1,98.7L173.4,99.6L168.4,96.9Z" fill="#ff8c01"/>
<path d="M220.5,115L225.8,118.6L221.6,116.8L216.4,113.2Z" fill="#63df09"/>
<path d="M76.7,112.2L81.1,113.3L76.1,119.8L71.7,118.6Z" fill="#5fff00"/>
<path d="M95.7,103.2L100.3,104.6L95.2,110L90.7,108.6Z" fill="#fbff00"/>
<path d="M124.6,95.1L129.3,96.9L124.4,100.6L119.6,98.7Z" fill="#ff8e00"/>
<path d="M153.7,93.5L158.6,95.8L153.8,97.8L148.9,95.4Z" fill="#ff7000"/>
<path d="M182.7,98.4L187.8,101.3L183.2,101.6L178.1,98.7Z" fill="#fe9f02"/>
<path d="M201.7,105.3L206.9,108.5L202.6,107.7L197.4,104.5Z" fill="#faeb05"/>
<path d="M67.4,117.7L71.7,118.6L66.7,125.7L62.4,124.7Z" fill="#11ff00"/>
<path d="M86.2,107.3L90.7,108.6L85.6,114.5L81.1,113.3Z" fill="#afff00"/>
<path d="M114.9,97.1L119.6,98.7L114.6,103L109.9,101.3Z" fill="#ffa500"/>
<path d="M134.2,93.8L139.1,95.8L134.2,98.9L129.3,96.9Z" fill="#ff7a00"/>
<path d="M144,93.3L148.9,95.4L144,98L139.1,95.8Z" fill="#ff7000"/>
<path d="M163.4,94.4L168.4,96.9L163.7,98.3L158.6,95.8Z" fill="#ff7a00"/>
<path d="M192.2,101.5L197.4,104.5L192.9,104.3L187.8,101.3Z" fill="#feba04"/>
<path d="M211.2,109.8L216.4,113.2L212.1,111.9L206.9,108.5Z" fill="#b0e507"/>
<path d="M62.4,124.7L64.5,125.2L62,128.9L59.9,128.4Z" fill="#00ff2d" stroke="#00ff2d" stroke-opacity="1" stroke-width=".3"/>
<path d="M64.5,125.2L66.7,125.7L64.2,129.5L62,128.9Z" fill="#00ff29" stroke="#00ff29" stroke-opacity="1" stroke-width=".3"/>
<path d="M59.9,128.4L62,128.9L59.5,132.8L57.4,132.3Z" fill="#00ff57" stroke="#00ff57" stroke-opacity="1" stroke-width=".3"/>
<path d="M62,128.9L64.2,129.5L61.7,133.4L59.5,132.8Z" fill="#00ff53" stroke="#00ff53" stroke-opacity="1" stroke-width=".3"/>
<path d="M62.4,124.7L66.7,125.7L61.7,133.4L57.4,132.3Z" fill="none"/>
<path d="M81.1,113.3L85.6,114.5L80.6,121.1L76.1,119.8Z" fill="#63ff00"/>
<path d="M100.3,104.6L104.9,106.1L99.9,111.6L95.2,110Z" fill="#fbff00"/>
<path d="M109.9,101.3L114.6,103L109.6,107.9L104.9,106.1Z" fill="#ffc800"/>
<path d="M129.3,96.9L134.2,98.9L129.2,102.6L124.4,100.6Z" fill="#ff9500"/>
<path d="M148.9,95.4L153.8,97.8L149,100.3L144,98Z" fill="#ff7c00"/>
<path d="M168.4,96.9L173.4,99.6L168.7,101L163.7,98.3Z" fill="#ff8a00"/>
<path d="M178.1,98.7L183.2,101.6L178.6,102.4L173.4,99.6Z" fill="#ff9b01"/>
<path d="M197.4,104.5L202.6,107.7L198.1,107.5L192.9,104.3Z" fill="#fed404"/>
<path d="M216.4,113.2L221.6,116.8L217.4,115.5L212.1,111.9Z" fill="#8ee507"/>
<path d="M71.7,118.6L76.1,119.8L71.1,126.9L66.7,125.7Z" fill="#17ff00"/>
<path d="M90.7,108.6L95.2,110L90.2,116L85.6,114.5Z" fill="#b2ff00"/>
<path d="M119.6,98.7L124.4,100.6L119.4,104.9L114.6,103Z" fill="#ffa800"/>
<path d="M158.6,95.8L163.7,98.3L158.9,100.3L153.8,97.8Z" fill="#ff7e00"/>
<path d="M187.8,101.3L192.9,104.3L188.4,104.6L183.2,101.6Z" fill="#feac02"/>
<path d="M206.9,108.5L212.1,111.9L207.8,111.2L202.6,107.7Z" fill="#dbeb05"/>
<path d="M139.1,95.8L144,98L139.1,101.1L134.2,98.9Z" fill="#ff8400"/>
<path d="M66.7,125.7L68.9,126.3L66.4,130.1L64.2,129.5Z" fill="#00ff26" stroke="#00ff26" stroke-opacity="1" stroke-width=".3"/>
<path d="M68.9,126.3L71.1,126.9L68.5,130.7L66.4,130.1Z" fill="#00ff23" stroke="#00ff23" stroke-opacity="1" stroke-width=".3"/>
<path d="M64.2,129.5L66.4,130.1L63.8,134L61.7,133.4Z" fill="#00ff50" stroke="#00ff50" stroke-opacity="1" stroke-width=".3"/>
<path d="M66.4,130.1L68.5,130.7L66,134.6L63.8,134Z" fill="#00ff4d" stroke="#00ff4d" stroke-opacity="1" stroke-width=".3"/>
<path d="M66.7,125.7L71.1,126.9L66,134.6L61.7,133.4Z" fill="none"/>
<path d="M85.6,114.5L90.2,116L85.1,122.6L80.6,121.1Z" fill="#65ff00"/>
<path d="M114.6,103L119.4,104.9L114.4,109.8L109.6,107.9Z" fill="#ffce00"/>
<path d="M163.7,98.3L168.7,101L163.9,103.1L158.9,100.3Z" fill="#ff8e00"/>
<path d="M192.9,104.3L198.1,107.5L193.6,107.9L188.4,104.6Z" fill="#fec202"/>
<path d="M212.1,111.9L217.4,115.5L213.1,114.8L207.8,111.2Z" fill="#b9eb05"/>
<path d="M76.1,119.8L80.6,121.1L75.5,128.3L71.1,126.9Z" fill="#1bff00"/>
<path d="M95.2,110L99.9,111.6L94.8,117.7L90.2,116Z" fill="#b1ff00"/>
<path d="M104.9,106.1L109.6,107.9L104.5,113.4L99.9,111.6Z" fill="#f7ff00"/>
<path d="M124.4,100.6L129.2,102.6L124.2,107L119.4,104.9Z" fill="#ffad00"/>
<path d="M134.2,98.9L139.1,101.1L134.1,104.9L129.2,102.6Z" fill="#ff9b00"/>
<path d="M144,98L149,100.3L144.1,103.5L139.1,101.1Z" fill="#ff8f00"/>
<path d="M153.8,97.8L158.9,100.3L154,102.9L149,100.3Z" fill="#ff8a00"/>
<path d="M173.4,99.6L178.6,102.4L173.9,103.9L168.7,101Z" fill="#ff9a00"/>
<path d="M183.2,101.6L188.4,104.6L183.7,105.5L178.6,102.4Z" fill="#ffa801"/>
<path d="M202.6,107.7L207.8,111.2L203.4,111L198.1,107.5Z" fill="#fdf104"/>
<path d="M71.1,126.9L73.3,127.6L70.8,131.4L68.5,130.7Z" fill="#00ff21" stroke="#00ff21" stroke-opacity="1" stroke-width=".3"/>
<path d="M73.3,127.6L75.5,128.3L73,132.1L70.8,131.4Z" fill="#00ff20" stroke="#00ff20" stroke-opacity="1" stroke-width=".3"/>
<path d="M68.5,130.7L70.8,131.4L68.2,135.3L66,134.6Z" fill="#00ff4b" stroke="#00ff4b" stroke-opacity="1" stroke-width=".3"/>
<path d="M70.8,131.4L73,132.1L70.5,136.1L68.2,135.3Z" fill="#00ff4a" stroke="#00ff4a" stroke-opacity="1" stroke-width=".3"/>
<path d="M71.1,126.9L75.5,128.3L70.5,136.1L66,134.6Z" fill="none"/>
<path d="M90.2,116L94.8,117.7L89.7,124.3L85.1,122.6Z" fill="#65ff00"/>
<path d="M119.4,104.9L124.2,107L119.2,112L114.4,109.8Z" fill="#ffd700"/>
<path d="M139.1,101.1L144.1,103.5L139.1,107.4L134.1,104.9Z" fill="#ffa300"/>
<path d="M158.9,100.3L163.9,103.1L159.1,105.7L154,102.9Z" fill="#ff9800"/>
<path d="M188.4,104.6L193.6,107.9L189,108.9L183.7,105.5Z" fill="#ffb801"/>
<path d="M207.8,111.2L213.1,114.8L208.7,114.6L203.4,111Z" fill="#daf004"/>
<path d="M80.6,121.1L85.1,122.6L80,129.9L75.5,128.3Z" fill="#1dff00"/>
<path d="M109.6,107.9L114.4,109.8L109.3,115.4L104.5,113.4Z" fill="#f1ff00"/>
<path d="M168.7,101L173.9,103.9L169.1,106L163.9,103.1Z" fill="#ff9d00"/>
<path d="M198.1,107.5L203.4,111L198.9,111.4L193.6,107.9Z" fill="#fee002"/>
<path d="M99.9,111.6L104.5,113.4L99.5,119.5L94.8,117.7Z" fill="#aeff00"/>
<path d="M129.2,102.6L134.1,104.9L129.1,109.3L124.2,107Z" fill="#ffb300"/>
<path d="M149,100.3L154,102.9L149.1,106.2L144.1,103.5Z" fill="#ff9a00"/>
<path d="M178.6,102.4L183.7,105.5L179,107.1L173.9,103.9Z" fill="#ffa800"/>
<path d="M75.5,128.3L80,129.9L74.9,137.7L70.5,136.1Z" fill="#00ff33"/>
<path d="M203.4,111L208.7,114.6L204.2,115.1L198.9,111.4Z" fill="#f3f602"/>
<path d="M85.1,122.6L89.7,124.3L84.6,131.6L80,129.9Z" fill="#1cff00"/>
<path d="M94.8,117.7L99.5,119.5L94.4,126.3L89.7,124.3Z" fill="#62ff00"/>
<path d="M114.4,109.8L119.2,112L114.1,117.6L109.3,115.4Z" fill="#e8ff00"/>
<path d="M124.2,107L129.1,109.3L124.1,114.3L119.2,112Z" fill="#ffe300"/>
<path d="M134.1,104.9L139.1,107.4L134.1,111.8L129.1,109.3Z" fill="#ffbd00"/>
<path d="M144.1,103.5L149.1,106.2L144.1,110L139.1,107.4Z" fill="#ffad00"/>
<path d="M154,102.9L159.1,105.7L154.2,109L149.1,106.2Z" fill="#ffa500"/>
<path d="M163.9,103.1L169.1,106L164.2,108.7L159.1,105.7Z" fill="#ffa500"/>
<path d="M183.7,105.5L189,108.9L184.3,110.4L179,107.1Z" fill="#ffb800"/>
<path d="M193.6,107.9L198.9,111.4L194.3,112.4L189,108.9Z" fill="#ffd701"/>
<path d="M104.5,113.4L109.3,115.4L104.2,121.6L99.5,119.5Z" fill="#a7ff00"/>
<path d="M173.9,103.9L179,107.1L174.3,109.2L169.1,106Z" fill="#ffab00"/>
<path d="M80,129.9L82.3,130.7L79.8,134.6L77.5,133.7Z" fill="#00ff1f" stroke="#00ff1f" stroke-opacity="1" stroke-width=".3"/>
<path d="M82.3,130.7L84.6,131.6L82.1,135.5L79.8,134.6Z" fill="#00ff20" stroke="#00ff20" stroke-opacity="1" stroke-width=".3"/>
<path d="M77.5,133.7L79.8,134.6L77.2,138.6L74.9,137.7Z" fill="#00ff49" stroke="#00ff49" stroke-opacity="1" stroke-width=".3"/>
<path d="M79.8,134.6L82.1,135.5L79.5,139.6L77.2,138.6Z" fill="#00ff4a" stroke="#00ff4a" stroke-opacity="1" stroke-width=".3"/>
<path d="M80,129.9L84.6,131.6L79.5,139.6L74.9,137.7Z" fill="none"/>
<path d="M129.1,109.3L134.1,111.8L129,116.9L124.1,114.3Z" fill="#fff200"/>
<path d="M149.1,106.2L154.2,109L149.2,112.9L144.1,110Z" fill="#ffb800"/>
<path d="M198.9,111.4L204.2,115.1L199.6,116.1L194.3,112.4Z" fill="#fff801"/>
<path d="M99.5,119.5L104.2,121.6L99.1,128.4L94.4,126.3Z" fill="#5dff00"/>
<path d="M179,107.1L184.3,110.4L179.5,112.6L174.3,109.2Z" fill="#ffbc00"/>
<path d="M89.7,124.3L94.4,126.3L89.2,133.6L84.6,131.6Z" fill="#1aff00"/>
<path d="M109.3,115.4L114.1,117.6L109,123.8L104.2,121.6Z" fill="#9eff00"/>
<path d="M119.2,112L124.1,114.3L119,120L114.1,117.6Z" fill="#dcff00"/>
<path d="M139.1,107.4L144.1,110L139.1,114.5L134.1,111.8Z" fill="#ffce00"/>
<path d="M159.1,105.7L164.2,108.7L159.3,112L154.2,109Z" fill="#ffb200"/>
<path d="M169.1,106L174.3,109.2L169.4,111.9L164.2,108.7Z" fill="#ffb300"/>
<path d="M189,108.9L194.3,112.4L189.6,114L184.3,110.4Z" fill="#ffd600"/>
<path d="M84.6,131.6L86.9,132.6L84.4,136.5L82.1,135.5Z" fill="#00ff21" stroke="#00ff21" stroke-opacity="1" stroke-width=".3"/>
<path d="M86.9,132.6L89.2,133.6L86.7,137.5L84.4,136.5Z" fill="#00ff23" stroke="#00ff23" stroke-opacity="1" stroke-width=".3"/>
<path d="M82.1,135.5L84.4,136.5L81.8,140.5L79.5,139.6Z" fill="#00ff4b" stroke="#00ff4b" stroke-opacity="1" stroke-width=".3"/>
<path d="M84.4,136.5L86.7,137.5L84.1,141.6L81.8,140.5Z" fill="#00ff4d" stroke="#00ff4d" stroke-opacity="1" stroke-width=".3"/>
<path d="M84.6,131.6L89.2,133.6L84.1,141.6L79.5,139.6Z" fill="none"/>
<path d="M104.2,121.6L109,123.8L103.9,130.7L99.1,128.4Z" fill="#56ff00"/>
<path d="M124.1,114.3L129,116.9L123.9,122.6L119,120Z" fill="#cdff00"/>
<path d="M134.1,111.8L139.1,114.5L134,119.6L129,116.9Z" fill="#fbff00"/>
<path d="M144.1,110L149.2,112.9L144.2,117.4L139.1,114.5Z" fill="#ffe300"/>
<path d="M154.2,109L159.3,112L154.3,116L149.2,112.9Z" fill="#ffce00"/>
<path d="M174.3,109.2L179.5,112.6L174.7,115.4L169.4,111.9Z" fill="#ffcb00"/>
<path d="M194.3,112.4L199.6,116.1L194.9,117.7L189.6,114Z" fill="#fff800"/>
<path d="M94.4,126.3L99.1,128.4L94,135.8L89.2,133.6Z" fill="#15ff00"/>
<path d="M184.3,110.4L189.6,114L184.8,116.2L179.5,112.6Z" fill="#ffdb00"/>
<path d="M114.1,117.6L119,120L113.9,126.3L109,123.8Z" fill="#92ff00"/>
<path d="M164.2,108.7L169.4,111.9L164.5,115.3L159.3,112Z" fill="#ffc600"/>
<path d="M139.1,114.5L144.2,117.4L139.1,122.6L134,119.6Z" fill="#e6ff00"/>
<path d="M89.2,133.6L91.6,134.7L89,138.6L86.7,137.5Z" fill="#00ff26" stroke="#00ff26" stroke-opacity="1" stroke-width=".3"/>
<path d="M91.6,134.7L94,135.8L91.4,139.7L89,138.6Z" fill="#00ff29" stroke="#00ff29" stroke-opacity="1" stroke-width=".3"/>
<path d="M86.7,137.5L89,138.6L86.5,142.7L84.1,141.6Z" fill="#00ff50" stroke="#00ff50" stroke-opacity="1" stroke-width=".3"/>
<path d="M89,138.6L91.4,139.7L88.8,143.8L86.5,142.7Z" fill="#00ff53" stroke="#00ff53" stroke-opacity="1" stroke-width=".3"/>
<path d="M89.2,133.6L94,135.8L88.8,143.8L84.1,141.6Z" fill="none"/>
<path d="M189.6,114L194.9,117.7L190.1,120L184.8,116.2Z" fill="#fffe00"/>
<path d="M99.1,128.4L103.9,130.7L98.7,138.1L94,135.8Z" fill="#0dff00"/>
<path d="M109,123.8L113.9,126.3L108.7,133.2L103.9,130.7Z" fill="#4cff00"/>
<path d="M119,120L123.9,122.6L118.8,128.9L113.9,126.3Z" fill="#83ff00"/>
<path d="M129,116.9L134,119.6L128.9,125.4L123.9,122.6Z" fill="#bbff00"/>
<path d="M149.2,112.9L154.3,116L149.3,120.6L144.2,117.4Z" fill="#fffa00"/>
<path d="M159.3,112L164.5,115.3L159.5,119.3L154.3,116Z" fill="#ffe800"/>
<path d="M169.4,111.9L174.7,115.4L169.8,118.8L164.5,115.3Z" fill="#ffe300"/>
<path d="M179.5,112.6L184.8,116.2L180,119L174.7,115.4Z" fill="#ffea00"/>
<path d="M94,135.8L96.3,136.9L93.8,140.9L91.4,139.7Z" fill="#00ff2c" stroke="#00ff2c" stroke-opacity="1" stroke-width=".3"/>
<path d="M96.3,136.9L98.7,138.1L96.1,142.1L93.8,140.9Z" fill="#00ff31" stroke="#00ff31" stroke-opacity="1" stroke-width=".3"/>
<path d="M91.4,139.7L93.8,140.9L91.2,145L88.8,143.8Z" fill="#00ff57" stroke="#00ff57" stroke-opacity="1" stroke-width=".3"/>
<path d="M93.8,140.9L96.1,142.1L93.6,146.2L91.2,145Z" fill="#00ff5b" stroke="#00ff5b" stroke-opacity="1" stroke-width=".3"/>
<path d="M94,135.8L98.7,138.1L93.6,146.2L88.8,143.8Z" fill="none"/>
<path d="M113.9,126.3L118.8,128.9L113.6,135.9L108.7,133.2Z" fill="#40ff00"/>
<path d="M134,119.6L139.1,122.6L134,128.4L128.9,125.4Z" fill="#a5ff00"/>
<path d="M144.2,117.4L149.3,120.6L144.2,125.8L139.1,122.6Z" fill="#ceff00"/>
<path d="M164.5,115.3L169.8,118.8L164.8,122.8L159.5,119.3Z" fill="#f9ff00"/>
<path d="M184.8,116.2L190.1,120L185.3,122.9L180,119Z" fill="#f1ff00"/>
<path d="M103.9,130.7L106.3,131.9L103.7,135.6L101.3,134.3Z" fill="#19ff00" stroke="#19ff00" stroke-opacity="1" stroke-width=".3"/>
<path d="M106.3,131.9L108.7,133.2L106.1,136.9L103.7,135.6Z" fill="#14ff00" stroke="#14ff00" stroke-opacity="1" stroke-width=".3"/>
<path d="M101.3,134.3L103.7,135.6L101.1,139.4L98.7,138.1Z" fill="#00ff0d" stroke="#00ff0d" stroke-opacity="1" stroke-width=".3"/>
<path d="M103.7,135.6L106.1,136.9L103.6,140.7L101.1,139.4Z" fill="#00ff13" stroke="#00ff13" stroke-opacity="1" stroke-width=".3"/>
<path d="M103.9,130.7L108.7,133.2L103.6,140.7L98.7,138.1Z" fill="none"/>
<path d="M123.9,122.6L128.9,125.4L123.8,131.8L118.8,128.9Z" fill="#73ff00"/>
<path d="M154.3,116L159.5,119.3L154.5,123.9L149.3,120.6Z" fill="#eaff00"/>
<path d="M174.7,115.4L180,119L175.1,122.4L169.8,118.8Z" fill="#fbff00"/>
<path d="M98.7,138.1L101.1,139.4L98.5,143.4L96.1,142.1Z" fill="#00ff36" stroke="#00ff36" stroke-opacity="1" stroke-width=".3"/>
<path d="M101.1,139.4L103.6,140.7L101,144.7L98.5,143.4Z" fill="#00ff3b" stroke="#00ff3b" stroke-opacity="1" stroke-width=".3"/>
<path d="M96.1,142.1L98.5,143.4L96,147.5L93.6,146.2Z" fill="#00ff60" stroke="#00ff60" stroke-opacity="1" stroke-width=".3"/>
<path d="M98.5,143.4L101,144.7L98.4,148.9L96,147.5Z" fill="#00ff66" stroke="#00ff66" stroke-opacity="1" stroke-width=".3"/>
<path d="M98.7,138.1L103.6,140.7L98.4,148.9L93.6,146.2Z" fill="none"/>
<path d="M108.7,133.2L111.2,134.5L108.6,138.2L106.1,136.9Z" fill="#0eff00" stroke="#0eff00" stroke-opacity="1" stroke-width=".3"/>
<path d="M106.1,136.9L108.6,138.2L106,142.1L103.6,140.7Z" fill="#00ff19" stroke="#00ff19" stroke-opacity="1" stroke-width=".3"/>
<path d="M111.2,134.5L113.6,135.9L111,139.6L108.6,138.2Z" fill="#07ff00" stroke="#07ff00" stroke-opacity="1" stroke-width=".3"/>
<path d="M108.6,138.2L111,139.6L108.4,143.5L106,142.1Z" fill="#00ff1f" stroke="#00ff1f" stroke-opacity="1" stroke-width=".3"/>
<path d="M108.7,133.2L113.6,135.9L108.4,143.5L103.6,140.7Z" fill="none"/>
<path d="M118.8,128.9L123.8,131.8L118.6,138.8L113.6,135.9Z" fill="#32ff00"/>
<path d="M128.9,125.4L134,128.4L128.8,134.9L123.8,131.8Z" fill="#63ff00"/>
<path d="M139.1,122.6L144.2,125.8L139.1,131.7L134,128.4Z" fill="#8dff00"/>
<path d="M149.3,120.6L154.5,123.9L149.4,129.2L144.2,125.8Z" fill="#b3ff00"/>
<path d="M159.5,119.3L164.8,122.8L159.7,127.5L154.5,123.9Z" fill="#ccff00"/>
<path d="M169.8,118.8L175.1,122.4L170.1,126.5L164.8,122.8Z" fill="#d8ff00"/>
<path d="M180,119L185.3,122.9L180.4,126.4L175.1,122.4Z" fill="#d8ff00"/>
<path d="M103.6,140.7L106,142.1L103.4,146.1L101,144.7Z" fill="#00ff41" stroke="#00ff41" stroke-opacity="1" stroke-width=".3"/>
<path d="M106,142.1L108.4,143.5L105.8,147.5L103.4,146.1Z" fill="#00ff48" stroke="#00ff48" stroke-opacity="1" stroke-width=".3"/>
<path d="M101,144.7L103.4,146.1L100.8,150.3L98.4,148.9Z" fill="#00ff6c" stroke="#00ff6c" stroke-opacity="1" stroke-width=".3"/>
<path d="M103.4,146.1L105.8,147.5L103.2,151.7L100.8,150.3Z" fill="#00ff72" stroke="#00ff72" stroke-opacity="1" stroke-width=".3"/>
<path d="M103.6,140.7L108.4,143.5L103.2,151.7L98.4,148.9Z" fill="none"/>
<path d="M123.8,131.8L126.3,133.3L123.7,136.7L121.2,135.2Z" fill="#37ff00" stroke="#37ff00" stroke-opacity="1" stroke-width=".3"/>
<path d="M126.3,133.3L128.8,134.9L126.2,138.3L123.7,136.7Z" fill="#2eff00" stroke="#2eff00" stroke-opacity="1" stroke-width=".3"/>
<path d="M121.2,135.2L123.7,136.7L121.1,140.3L118.6,138.8Z" fill="#14ff00" stroke="#14ff00" stroke-opacity="1" stroke-width=".3"/>
<path d="M123.7,136.7L126.2,138.3L123.6,141.9L121.1,140.3Z" fill="#0cff00" stroke="#0cff00" stroke-opacity="1" stroke-width=".3"/>
<path d="M123.8,131.8L128.8,134.9L123.6,141.9L118.6,138.8Z" fill="none"/>
<path d="M154.5,123.9L159.7,127.5L154.7,132.8L149.4,129.2Z" fill="#95ff00"/>
<path d="M175.1,122.4L180.4,126.4L175.4,130.5L170.1,126.5Z" fill="#b5ff00"/>
<path d="M113.6,135.9L116.1,137.3L113.5,141.1L111,139.6Z" fill="#00ff00" stroke="#00ff00" stroke-opacity="1" stroke-width=".3"/>
<path d="M116.1,137.3L118.6,138.8L116,142.6L113.5,141.1Z" fill="#00ff08" stroke="#00ff08" stroke-opacity="1" stroke-width=".3"/>
<path d="M111,139.6L113.5,141.1L110.9,144.9L108.4,143.5Z" fill="#00ff27" stroke="#00ff27" stroke-opacity="1" stroke-width=".3"/>
<path d="M113.5,141.1L116,142.6L113.4,146.5L110.9,144.9Z" fill="#00ff2e" stroke="#00ff2e" stroke-opacity="1" stroke-width=".3"/>
<path d="M113.6,135.9L118.6,138.8L113.4,146.5L108.4,143.5Z" fill="none"/>
<path d="M134,128.4L139.1,131.7L133.9,138.1L128.8,134.9Z" fill="#50ff00"/>
<path d="M144.2,125.8L149.4,129.2L144.3,135.1L139.1,131.7Z" fill="#75ff00"/>
<path d="M164.8,122.8L170.1,126.5L165,131.3L159.7,127.5Z" fill="#abff00"/>
<path d="M108.4,143.5L110.9,144.9L108.3,149L105.8,147.5Z" fill="#00ff4f" stroke="#00ff4f" stroke-opacity="1" stroke-width=".3"/>
<path d="M110.9,144.9L113.4,146.5L110.8,150.5L108.3,149Z" fill="#00ff57" stroke="#00ff57" stroke-opacity="1" stroke-width=".3"/>
<path d="M105.8,147.5L108.3,149L105.7,153.2L103.2,151.7Z" fill="#00ff7a" stroke="#00ff7a" stroke-opacity="1" stroke-width=".3"/>
<path d="M108.3,149L110.8,150.5L108.2,154.7L105.7,153.2Z" fill="#00ff82" stroke="#00ff82" stroke-opacity="1" stroke-width=".3"/>
<path d="M108.4,143.5L113.4,146.5L108.2,154.7L103.2,151.7Z" fill="none"/>
<path d="M118.6,138.8L121.1,140.3L118.5,144.1L116,142.6Z" fill="#00ff10" stroke="#00ff10" stroke-opacity="1" stroke-width=".3"/>
<path d="M121.1,140.3L123.6,141.9L121,145.7L118.5,144.1Z" fill="#00ff19" stroke="#00ff19" stroke-opacity="1" stroke-width=".3"/>
<path d="M116,142.6L118.5,144.1L115.9,148L113.4,146.5Z" fill="#00ff37" stroke="#00ff37" stroke-opacity="1" stroke-width=".3"/>
<path d="M118.5,144.1L121,145.7L118.4,149.7L115.9,148Z" fill="#00ff40" stroke="#00ff40" stroke-opacity="1" stroke-width=".3"/>
<path d="M118.6,138.8L123.6,141.9L118.4,149.7L113.4,146.5Z" fill="none"/>
<path d="M128.8,134.9L131.4,136.5L128.8,140L126.2,138.3Z" fill="#25ff00" stroke="#25ff00" stroke-opacity="1" stroke-width=".3"/>
<path d="M131.4,136.5L133.9,138.1L131.3,141.6L128.8,140Z" fill="#1bff00" stroke="#1bff00" stroke-opacity="1" stroke-width=".3"/>
<path d="M126.2,138.3L128.8,140L126.2,143.6L123.6,141.9Z" fill="#02ff00" stroke="#02ff00" stroke-opacity="1" stroke-width=".3"/>
<path d="M128.8,140L131.3,141.6L128.7,145.3L126.2,143.6Z" fill="#00ff08" stroke="#00ff08" stroke-opacity="1" stroke-width=".3"/>
<path d="M128.8,134.9L133.9,138.1L128.7,145.3L123.6,141.9Z" fill="none"/>
<path d="M149.4,129.2L154.7,132.8L149.5,138.8L144.3,135.1Z" fill="#5dff00"/>
<path d="M159.7,127.5L165,131.3L159.9,136.6L154.7,132.8Z" fill="#76ff00"/>
<path d="M170.1,126.5L175.4,130.5L170.4,135.3L165,131.3Z" fill="#87ff00"/>
<path d="M139.1,131.7L144.3,135.1L139.1,141.7L133.9,138.1Z" fill="#3bff00"/>
<path d="M113.4,146.5L115.9,148L113.3,152.1L110.8,150.5Z" fill="#00ff5f" stroke="#00ff5f" stroke-opacity="1" stroke-width=".3"/>
<path d="M115.9,148L118.4,149.7L115.8,153.8L113.3,152.1Z" fill="#00ff68" stroke="#00ff68" stroke-opacity="1" stroke-width=".3"/>
<path d="M110.8,150.5L113.3,152.1L110.7,156.4L108.2,154.7Z" fill="#00ff8a" stroke="#00ff8a" stroke-opacity="1" stroke-width=".3"/>
<path d="M113.3,152.1L115.8,153.8L113.2,158L110.7,156.4Z" fill="#00ff95" stroke="#00ff95" stroke-opacity="1" stroke-width=".3"/>
<path d="M113.4,146.5L118.4,149.7L113.2,158L108.2,154.7Z" fill="none"/>
<path d="M165,131.3L170.4,135.3L165.3,140.7L159.9,136.6Z" fill="#5aff00"/>
<path d="M123.6,141.9L126.2,143.6L123.6,147.4L121,145.7Z" fill="#00ff23" stroke="#00ff23" stroke-opacity="1" stroke-width=".3"/>
<path d="M126.2,143.6L128.7,145.3L126.1,149.1L123.6,147.4Z" fill="#00ff2d" stroke="#00ff2d" stroke-opacity="1" stroke-width=".3"/>
<path d="M121,145.7L123.6,147.4L121,151.3L118.4,149.7Z" fill="#00ff49" stroke="#00ff49" stroke-opacity="1" stroke-width=".3"/>
<path d="M123.6,147.4L126.1,149.1L123.5,153.1L121,151.3Z" fill="#00ff53" stroke="#00ff53" stroke-opacity="1" stroke-width=".3"/>
<path d="M123.6,141.9L128.7,145.3L123.5,153.1L118.4,149.7Z" fill="none"/>
<path d="M133.9,138.1L136.5,139.9L133.9,143.4L131.3,141.6Z" fill="#10ff00" stroke="#10ff00" stroke-opacity="1" stroke-width=".3"/>
<path d="M136.5,139.9L139.1,141.7L136.5,145.2L133.9,143.4Z" fill="#05ff00" stroke="#05ff00" stroke-opacity="1" stroke-width=".3"/>
<path d="M131.3,141.6L133.9,143.4L131.3,147L128.7,145.3Z" fill="#00ff12" stroke="#00ff12" stroke-opacity="1" stroke-width=".3"/>
<path d="M133.9,143.4L136.5,145.2L133.9,148.9L131.3,147Z" fill="#00ff1e" stroke="#00ff1e" stroke-opacity="1" stroke-width=".3"/>
<path d="M133.9,138.1L139.1,141.7L133.9,148.9L128.7,145.3Z" fill="none"/>
<path d="M144.3,135.1L146.9,136.9L144.3,140.1L141.7,138.3Z" fill="#39ff00" stroke="#39ff00" stroke-opacity="1" stroke-width=".3"/>
<path d="M146.9,136.9L149.5,138.8L146.9,142L144.3,140.1Z" fill="#2dff00" stroke="#2dff00" stroke-opacity="1" stroke-width=".3"/>
<path d="M141.7,138.3L144.3,140.1L141.7,143.5L139.1,141.7Z" fill="#1aff00" stroke="#1aff00" stroke-opacity="1" stroke-width=".3"/>
<path d="M144.3,140.1L146.9,142L144.3,145.4L141.7,143.5Z" fill="#0eff00" stroke="#0eff00" stroke-opacity="1" stroke-width=".3"/>
<path d="M144.3,135.1L149.5,138.8L144.3,145.4L139.1,141.7Z" fill="none"/>
<path d="M154.7,132.8L159.9,136.6L154.8,142.7L149.5,138.8Z" fill="#44ff00"/>
<path d="M118.4,149.7L121,151.3L118.3,155.4L115.8,153.8Z" fill="#00ff72" stroke="#00ff72" stroke-opacity="1" stroke-width=".3"/>
<path d="M121,151.3L123.5,153.1L120.9,157.2L118.3,155.4Z" fill="#00ff7c" stroke="#00ff7c" stroke-opacity="1" stroke-width=".3"/>
<path d="M115.8,153.8L118.3,155.4L115.7,159.7L113.2,158Z" fill="#00ffa0" stroke="#00ffa0" stroke-opacity="1" stroke-width=".3"/>
<path d="M118.3,155.4L120.9,157.2L118.2,161.5L115.7,159.7Z" fill="#00ffac" stroke="#00ffac" stroke-opacity="1" stroke-width=".3"/>
<path d="M118.4,149.7L123.5,153.1L118.2,161.5L113.2,158Z" fill="none"/>
<path d="M139.1,141.7L141.7,143.5L139.1,147L136.5,145.2Z" fill="#00ff07" stroke="#00ff07" stroke-opacity="1" stroke-width=".3"/>
<path d="M141.7,143.5L144.3,145.4L141.7,148.9L139.1,147Z" fill="#00ff13" stroke="#00ff13" stroke-opacity="1" stroke-width=".3"/>
<path d="M136.5,145.2L139.1,147L136.5,150.7L133.9,148.9Z" fill="#00ff2a" stroke="#00ff2a" stroke-opacity="1" stroke-width=".3"/>
<path d="M139.1,147L141.7,148.9L139.1,152.6L136.5,150.7Z" fill="#00ff36" stroke="#00ff36" stroke-opacity="1" stroke-width=".3"/>
<path d="M139.1,141.7L144.3,145.4L139.1,152.6L133.9,148.9Z" fill="none"/>
<path d="M159.9,136.6L165.3,140.7L160.1,146.8L154.8,142.7Z" fill="#28ff00"/>
<path d="M128.7,145.3L131.3,147L128.7,150.9L126.1,149.1Z" fill="#00ff37" stroke="#00ff37" stroke-opacity="1" stroke-width=".3"/>
<path d="M131.3,147L133.9,148.9L131.3,152.7L128.7,150.9Z" fill="#00ff43" stroke="#00ff43" stroke-opacity="1" stroke-width=".3"/>
<path d="M126.1,149.1L128.7,150.9L126.1,154.9L123.5,153.1Z" fill="#00ff5e" stroke="#00ff5e" stroke-opacity="1" stroke-width=".3"/>
<path d="M128.7,150.9L131.3,152.7L128.6,156.7L126.1,154.9Z" fill="#00ff69" stroke="#00ff69" stroke-opacity="1" stroke-width=".3"/>
<path d="M128.7,145.3L133.9,148.9L128.6,156.7L123.5,153.1Z" fill="none"/>
<path d="M149.5,138.8L152.1,140.7L149.6,143.9L146.9,142Z" fill="#20ff00" stroke="#20ff00" stroke-opacity="1" stroke-width=".3"/>
<path d="M152.1,140.7L154.8,142.7L152.2,145.9L149.6,143.9Z" fill="#13ff00" stroke="#13ff00" stroke-opacity="1" stroke-width=".3"/>
<path d="M146.9,142L149.6,143.9L147,147.3L144.3,145.4Z" fill="#01ff00" stroke="#01ff00" stroke-opacity="1" stroke-width=".3"/>
<path d="M149.6,143.9L152.2,145.9L149.6,149.3L147,147.3Z" fill="#00ff0c" stroke="#00ff0c" stroke-opacity="1" stroke-width=".3"/>
<path d="M149.5,138.8L154.8,142.7L149.6,149.3L144.3,145.4Z" fill="none"/>
<path d="M123.5,153.1L126.1,154.9L123.4,159L120.9,157.2Z" fill="#00ff87" stroke="#00ff87" stroke-opacity="1" stroke-width=".3"/>
<path d="M126.1,154.9L128.6,156.7L126,160.9L123.4,159Z" fill="#00ff94" stroke="#00ff94" stroke-opacity="1" stroke-width=".3"/>
<path d="M120.9,157.2L123.4,159L120.8,163.3L118.2,161.5Z" fill="#00ffb9" stroke="#00ffb9" stroke-opacity="1" stroke-width=".3"/>
<path d="M123.4,159L126,160.9L123.4,165.2L120.8,163.3Z" fill="#00ffc7" stroke="#00ffc7" stroke-opacity="1" stroke-width=".3"/>
<path d="M123.5,153.1L128.6,156.7L123.4,165.2L118.2,161.5Z" fill="none"/>
<path d="M133.9,148.9L136.5,150.7L133.9,154.6L131.3,152.7Z" fill="#00ff4e" stroke="#00ff4e" stroke-opacity="1" stroke-width=".3"/>
<path d="M131.3,152.7L133.9,154.6L131.2,158.6L128.6,156.7Z" fill="#00ff75" stroke="#00ff75" stroke-opacity="1" stroke-width=".3"/>
<path d="M136.5,150.7L139.1,152.6L136.5,156.5L133.9,154.6Z" fill="#00ff5b" stroke="#00ff5b" stroke-opacity="1" stroke-width=".3"/>
<path d="M133.9,154.6L136.5,156.5L133.8,160.5L131.2,158.6Z" fill="#00ff82" stroke="#00ff82" stroke-opacity="1" stroke-width=".3"/>
<path d="M133.9,148.9L139.1,152.6L133.8,160.5L128.6,156.7Z" fill="none"/>
<path d="M144.3,145.4L147,147.3L144.3,150.9L141.7,148.9Z" fill="#00ff20" stroke="#00ff20" stroke-opacity="1" stroke-width=".3"/>
<path d="M147,147.3L149.6,149.3L147,152.9L144.3,150.9Z" fill="#00ff2d" stroke="#00ff2d" stroke-opacity="1" stroke-width=".3"/>
<path d="M141.7,148.9L144.3,150.9L141.7,154.6L139.1,152.6Z" fill="#00ff43" stroke="#00ff43" stroke-opacity="1" stroke-width=".3"/>
<path d="M144.3,150.9L147,152.9L144.4,156.6L141.7,154.6Z" fill="#00ff50" stroke="#00ff50" stroke-opacity="1" stroke-width=".3"/>
<path d="M144.3,145.4L149.6,149.3L144.4,156.6L139.1,152.6Z" fill="none"/>
<path d="M154.8,142.7L157.5,144.7L154.9,148L152.2,145.9Z" fill="#05ff00" stroke="#05ff00" stroke-opacity="1" stroke-width=".3"/>
<path d="M152.2,145.9L154.9,148L152.3,151.4L149.6,149.3Z" fill="#00ff1a" stroke="#00ff1a" stroke-opacity="1" stroke-width=".3"/>
<path d="M157.5,144.7L160.1,146.8L157.6,150.1L154.9,148Z" fill="#00ff0a" stroke="#00ff0a" stroke-opacity="1" stroke-width=".3"/>
<path d="M154.9,148L157.6,150.1L154.9,153.5L152.3,151.4Z" fill="#00ff29" stroke="#00ff29" stroke-opacity="1" stroke-width=".3"/>
<path d="M154.8,142.7L160.1,146.8L154.9,153.5L149.6,149.3Z" fill="none"/>
<path d="M128.6,156.7L131.2,158.6L128.6,162.8L126,160.9Z" fill="#00ffa2" stroke="#00ffa2" stroke-opacity="1" stroke-width=".3"/>
<path d="M131.2,158.6L133.8,160.5L131.2,164.7L128.6,162.8Z" fill="#00ffb1" stroke="#00ffb1" stroke-opacity="1" stroke-width=".3"/>
<path d="M126,160.9L128.6,162.8L126,167.1L123.4,165.2Z" fill="#00ffd5" stroke="#00ffd5" stroke-opacity="1" stroke-width=".3"/>
<path d="M128.6,162.8L131.2,164.7L128.6,169.1L126,167.1Z" fill="#00ffe4" stroke="#00ffe4" stroke-opacity="1" stroke-width=".3"/>
<path d="M128.6,156.7L133.8,160.5L128.6,169.1L123.4,165.2Z" fill="none"/>
<path d="M149.6,149.3L152.3,151.4L149.7,155L147,152.9Z" fill="#00ff3c" stroke="#00ff3c" stroke-opacity="1" stroke-width=".3"/>
<path d="M152.3,151.4L154.9,153.5L152.3,157.1L149.7,155Z" fill="#00ff4a" stroke="#00ff4a" stroke-opacity="1" stroke-width=".3"/>
<path d="M147,152.9L149.7,155L147,158.7L144.4,156.6Z" fill="#00ff5f" stroke="#00ff5f" stroke-opacity="1" stroke-width=".3"/>
<path d="M149.7,155L152.3,157.1L149.7,160.9L147,158.7Z" fill="#00ff6d" stroke="#00ff6d" stroke-opacity="1" stroke-width=".3"/>
<path d="M149.6,149.3L154.9,153.5L149.7,160.9L144.4,156.6Z" fill="none"/>
<path d="M139.1,152.6L141.7,154.6L139.1,158.5L136.5,156.5Z" fill="#00ff68" stroke="#00ff68" stroke-opacity="1" stroke-width=".3"/>
<path d="M141.7,154.6L144.4,156.6L141.7,160.5L139.1,158.5Z" fill="#00ff75" stroke="#00ff75" stroke-opacity="1" stroke-width=".3"/>
<path d="M136.5,156.5L139.1,158.5L136.5,162.5L133.8,160.5Z" fill="#00ff8f" stroke="#00ff8f" stroke-opacity="1" stroke-width=".3"/>
<path d="M139.1,158.5L141.7,160.5L139.1,164.6L136.5,162.5Z" fill="#00ffa0" stroke="#00ffa0" stroke-opacity="1" stroke-width=".3"/>
<path d="M139.1,152.6L144.4,156.6L139.1,164.6L133.8,160.5Z" fill="none"/>
<path d="M133.8,160.5L136.5,162.5L133.8,166.8L131.2,164.7Z" fill="#00ffc0" stroke="#00ffc0" stroke-opacity="1" stroke-width=".3"/>
<path d="M136.5,162.5L139.1,164.6L136.5,168.8L133.8,166.8Z" fill="#00ffd1" stroke="#00ffd1" stroke-opacity="1" stroke-width=".3"/>
<path d="M131.2,164.7L133.8,166.8L131.2,171.1L128.6,169.1Z" fill="#00fff4" stroke="#00fff4" stroke-opacity="1" stroke-width=".3"/>
<path d="M133.8,166.8L136.5,168.8L133.8,173.2L131.2,171.1Z" fill="#00faff" stroke="#00faff" stroke-opacity="1" stroke-width=".3"/>
<path d="M133.8,160.5L139.1,164.6L133.8,173.2L128.6,169.1Z" fill="none"/>
<path d="M144.4,156.6L147,158.7L144.4,162.7L141.7,160.5Z" fill="#00ff84" stroke="#00ff84" stroke-opacity="1" stroke-width=".3"/>
<path d="M147,158.7L149.7,160.9L147.1,164.8L144.4,162.7Z" fill="#00ff94" stroke="#00ff94" stroke-opacity="1" stroke-width=".3"/>
<path d="M141.7,160.5L144.4,162.7L141.8,166.7L139.1,164.6Z" fill="#00ffb1" stroke="#00ffb1" stroke-opacity="1" stroke-width=".3"/>
<path d="M144.4,162.7L147.1,164.8L144.4,168.9L141.8,166.7Z" fill="#00ffc3" stroke="#00ffc3" stroke-opacity="1" stroke-width=".3"/>
<path d="M144.4,156.6L149.7,160.9L144.4,168.9L139.1,164.6Z" fill="none"/>
<path d="M139.1,164.6L141.8,166.7L139.1,171L136.5,168.8Z" fill="#00ffe2" stroke="#00ffe2" stroke-opacity="1" stroke-width=".3"/>
<path d="M141.8,166.7L144.4,168.9L141.8,173.2L139.1,171Z" fill="#00fff4" stroke="#00fff4" stroke-opacity="1" stroke-width=".3"/>
<path d="M136.5,168.8L139.1,171L136.4,175.4L133.8,173.2Z" fill="#00e9ff" stroke="#00e9ff" stroke-opacity="1" stroke-width=".3"/>
<path d="M139.1,171L141.8,173.2L139.1,177.6L136.4,175.4Z" fill="#00d7ff" stroke="#00d7ff" stroke-opacity="1" stroke-width=".3"/>
<path d="M139.1,164.6L144.4,168.9L139.1,177.6L133.8,173.2Z" fill="none"/>
</g>
<circle cx="44.96" cy="131.65" r="1.9" fill="#c20c16" stroke="#8a1a20" stroke-width=".35"/>
<circle cx="139.1" cy="179" r="1.9" fill="#c20c16" stroke="#8a1a20" stroke-width=".35"/>
<circle cx="233.61" cy="125.43" r="1.9" fill="#f7c8cc" stroke="#8a1a20" stroke-width=".35"/>
<circle cx="139.1" cy="82.31" r="1.9" fill="#c20c16" stroke="#8a1a20" stroke-width=".35"/>
<circle cx="139.1" cy="84.97" r="1.9" fill="#c20c16" stroke="#8a1a20" stroke-width=".35"/>
<circle cx="139.1" cy="87.71" r="1.9" fill="#c20c16" stroke="#8a1a20" stroke-width=".35"/>
<rect x="46.06" y="161.55" width="1.4" height="1.4" fill="#111"/>
<text x="42.96" y="160.55" font-size="6.804" text-anchor="end" font-weight="normal" fill="#222" textLength="3.03" lengthAdjust="spacingAndGlyphs">2</text>
<rect x="45" y="143.54" width="1.4" height="1.4" fill="#111"/>
<text x="41.9" y="142.54" font-size="6.804" text-anchor="end" font-weight="normal" fill="#222" textLength="7.57" lengthAdjust="spacingAndGlyphs">2.2</text>
<rect x="43.91" y="125.1" width="1.4" height="1.4" fill="#111"/>
<text x="40.81" y="124.1" font-size="6.804" text-anchor="end" font-weight="normal" fill="#222" textLength="7.57" lengthAdjust="spacingAndGlyphs">2.4</text>
<rect x="42.8" y="106.23" width="1.4" height="1.4" fill="#111"/>
<text x="39.7" y="105.23" font-size="6.804" text-anchor="end" font-weight="normal" fill="#222" textLength="7.57" lengthAdjust="spacingAndGlyphs">2.6</text>
<rect x="41.66" y="86.91" width="1.4" height="1.4" fill="#111"/>
<text x="38.56" y="85.91" font-size="6.804" text-anchor="end" font-weight="normal" fill="#222" textLength="7.57" lengthAdjust="spacingAndGlyphs">2.8</text>
<rect x="40.49" y="67.12" width="1.4" height="1.4" fill="#111"/>
<text x="37.39" y="66.12" font-size="6.804" text-anchor="end" font-weight="normal" fill="#222" textLength="3.03" lengthAdjust="spacingAndGlyphs">3</text>
<rect x="47.91" y="192.71" width="1.4" height="1.4" fill="#111"/>
<text x="43.61" y="201.01" font-size="6.804" text-anchor="end" font-weight="normal" fill="#222" textLength="7.57" lengthAdjust="spacingAndGlyphs">1.5</text>
<rect x="66" y="201.22" width="1.4" height="1.4" fill="#111"/>
<text x="61.7" y="209.52" font-size="6.804" text-anchor="end" font-weight="normal" fill="#222" textLength="7.57" lengthAdjust="spacingAndGlyphs">1.3</text>
<rect x="84.1" y="209.73" width="1.4" height="1.4" fill="#111"/>
<text x="79.8" y="218.03" font-size="6.804" text-anchor="end" font-weight="normal" fill="#222" textLength="7.57" lengthAdjust="spacingAndGlyphs">1.1</text>
<rect x="102.2" y="218.24" width="1.4" height="1.4" fill="#111"/>
<text x="97.9" y="226.54" font-size="6.804" text-anchor="end" font-weight="normal" fill="#222" textLength="7.57" lengthAdjust="spacingAndGlyphs">0.9</text>
<rect x="120.3" y="226.76" width="1.4" height="1.4" fill="#111"/>
<text x="116" y="235.06" font-size="6.804" text-anchor="end" font-weight="normal" fill="#222" textLength="7.57" lengthAdjust="spacingAndGlyphs">0.7</text>
<rect x="138.4" y="235.27" width="1.4" height="1.4" fill="#111"/>
<text x="134.1" y="243.57" font-size="6.804" text-anchor="end" font-weight="normal" fill="#222" textLength="7.57" lengthAdjust="spacingAndGlyphs">0.5</text>
<rect x="138.4" y="235.27" width="1.4" height="1.4" fill="#111"/>
<text x="142.5" y="243.77" font-size="6.804" text-anchor="start" font-weight="normal" fill="#222" textLength="3.03" lengthAdjust="spacingAndGlyphs">6</text>
<rect x="161.02" y="224.63" width="1.4" height="1.4" fill="#111"/>
<text x="165.12" y="233.13" font-size="6.804" text-anchor="start" font-weight="normal" fill="#222" textLength="3.03" lengthAdjust="spacingAndGlyphs">7</text>
<rect x="183.65" y="213.99" width="1.4" height="1.4" fill="#111"/>
<text x="187.75" y="222.49" font-size="6.804" text-anchor="start" font-weight="normal" fill="#222" textLength="3.03" lengthAdjust="spacingAndGlyphs">8</text>
<rect x="206.27" y="203.35" width="1.4" height="1.4" fill="#111"/>
<text x="210.37" y="211.85" font-size="6.804" text-anchor="start" font-weight="normal" fill="#222" textLength="3.03" lengthAdjust="spacingAndGlyphs">9</text>
<rect x="228.89" y="192.71" width="1.4" height="1.4" fill="#111"/>
<text x="232.99" y="201.21" font-size="6.804" text-anchor="start" font-weight="normal" fill="#222" textLength="6.05" lengthAdjust="spacingAndGlyphs">10</text>
<text x="13.2" y="232.3" font-size="4.9" text-anchor="start" font-weight="normal" fill="#333" textLength="89.9" lengthAdjust="spacingAndGlyphs">B: Concentration of corn steep liquor (%)</text>
<text x="169.5" y="232.3" font-size="4.9" text-anchor="start" font-weight="normal" fill="#333" textLength="99.7" lengthAdjust="spacingAndGlyphs">A: Concentration of glucose master liquor  (%)</text>
<text x="136.7" y="13.1" font-size="7.6" text-anchor="start" font-weight="normal" fill="#222" textLength="36.4" lengthAdjust="spacingAndGlyphs">3D Surface</text>
<text x="16.4" y="18.5" font-size="9.3" text-anchor="start" font-weight="bold" fill="#111" textLength="7.6" lengthAdjust="spacingAndGlyphs">A.</text>
<text x="24" y="162.7" font-size="5.4" text-anchor="start" font-weight="normal" fill="#222" transform="rotate(-90 24 162.7)" textLength="73.8" lengthAdjust="spacingAndGlyphs">Number of yeast cells (10<tspan font-size="3.4" dy="-1.8">8</tspan><tspan dy="1.8">/ml)</tspan></text>
<g><path d="M46.7,409L140.4,378.8L234.1,409" stroke="#666" stroke-width=".5" fill="none"/><path d="M45.7,391.5L140.4,362.9L235.1,391.5" stroke="#666" stroke-width=".5" fill="none"/><path d="M44.7,373.6L140.4,346.8L236.2,373.6" stroke="#666" stroke-width=".5" fill="none"/><path d="M43.6,355.3L140.4,330.3L237.3,355.3" stroke="#666" stroke-width=".5" fill="none"/><path d="M42.5,336.6L140.4,313.5L238.4,336.6" stroke="#666" stroke-width=".5" fill="none"/><path d="M41.3,317.4L140.4,296.4L239.5,317.4" stroke="#666" stroke-width=".5" fill="none"/><path d="M46.7,409L41.3,317.4" stroke="#666" stroke-width="0.5" fill="none"/><path d="M70.2,401.4L66.1,312.2" stroke="#666" stroke-width="0.5" fill="none"/><path d="M93.6,393.9L90.9,306.9" stroke="#666" stroke-width="0.5" fill="none"/><path d="M117,386.3L115.6,301.7" stroke="#666" stroke-width="0.5" fill="none"/><path d="M140.4,378.8L140.4,296.4" stroke="#666" stroke-width="0.5" fill="none"/><path d="M163.8,386.3L165.2,301.7" stroke="#666" stroke-width="0.5" fill="none"/><path d="M187.3,393.9L190,306.9" stroke="#666" stroke-width="0.5" fill="none"/><path d="M210.7,401.4L214.7,312.2" stroke="#666" stroke-width="0.5" fill="none"/><path d="M234.1,409L239.5,317.4" stroke="#666" stroke-width="0.5" fill="none"/><path d="M48.5,439.1L41.3,317.4" stroke="#444" stroke-width="0.55" fill="none"/><path d="M232.3,439.1L239.5,317.4" stroke="#666" stroke-width="0.5" fill="none"/></g>
<clipPath id="flC"><path d="M48.5,439.1L140.4,481.3L232.3,439.1L140.4,406.1Z"/></clipPath>
<path d="M48.5,439.1L140.4,481.3L232.3,439.1L140.4,406.1Z" fill="#626262"/>
<g clip-path="url(#flC)" fill="none" stroke-width="1.15">
<path d="M190.2,447L188.4,448.2L186.1,449.2L183.4,450.2L180.3,450.9L176.7,451.6L172.8,452.1L168.6,452.5L164.1,452.7L159.3,452.7L154.3,452.6L149.1,452.3L143.9,451.9L138.5,451.3L133.1,450.6L127.8,449.7L122.5,448.8L117.4,447.7L112.4,446.4L107.6,445.1L103.1,443.8L98.8,442.3L94.9,440.8L91.2,439.2L88,437.7L85.1,436L82.6,434.4L80.6,432.8L78.9,431.3L77.7,429.7L76.9,428.2L76.6,426.7L76.6,425.4L77.1,424L78,422.8L79.2,421.6L80.9,420.6L82.9,419.6L85.3,418.7L88,418L91,417.4L94.3,416.8L97.9,416.4L101.8,416.2L105.8,416L110,416L114.4,416.1L119,416.3L123.6,416.6L128.4,417.1L133.1,417.6L137.9,418.3L142.7,419.1L147.5,420L152.2,421L156.8,422.2L161.2,423.3L165.5,424.6L169.6,426L173.4,427.4L177,428.9L180.3,430.4L183.2,432L185.8,433.6L188.1,435.2L189.9,436.8L191.3,438.4L192.3,440L192.8,441.5L192.9,443L192.5,444.4L191.6,445.8L190.2,447Z" stroke="#d9b31c"/>
<path d="M214.8,453L212.4,454.7L209.2,456.2L205.4,457.6L200.9,458.7L195.9,459.7L190.3,460.4L184.3,461L177.7,461.3L170.8,461.3L163.6,461.2L156.2,460.8L148.6,460.1L140.9,459.3L133.1,458.2L125.5,457L117.9,455.5L110.6,453.9L103.5,452.1L96.7,450.2L90.3,448.2L84.3,446.1L78.8,444L73.8,441.7L69.4,439.5L65.5,437.2L62.1,434.9L59.4,432.7L57.2,430.5L55.7,428.3L54.8,426.2L54.4,424.2L54.6,422.3L55.4,420.5L56.8,418.8L58.7,417.2L61.1,415.8L63.9,414.5L67.3,413.3L71.1,412.3L75.3,411.4L79.9,410.7L84.8,410.2L90.1,409.8L95.6,409.6L101.4,409.6L107.5,409.7L113.7,410L120.1,410.4L126.6,411L133.1,411.8L139.8,412.7L146.4,413.8L152.9,415L159.4,416.4L165.8,417.9L172,419.6L178,421.3L183.8,423.2L189.2,425.1L194.3,427.2L199,429.3L203.3,431.5L207.1,433.7L210.5,436L213.2,438.3L215.4,440.5L217,442.8L217.9,445L218.1,447.1L217.7,449.2L216.6,451.1L214.8,453Z" stroke="#9fd91c"/>
<path d="M234.2,457.7L231.3,459.8L227.5,461.7L222.8,463.4L217.4,464.9L211.2,466.1L204.3,467.1L196.8,467.8L188.7,468.1L180.1,468.2L171.1,468L161.8,467.5L152.3,466.7L142.7,465.6L133.1,464.3L123.6,462.7L114.3,460.8L105.2,458.8L96.5,456.6L88.2,454.2L80.3,451.7L73.1,449.1L66.4,446.4L60.4,443.7L55,440.9L50.4,438.1L46.5,435.3L43.3,432.6L40.8,429.9L39.1,427.3L38.1,424.7L37.8,422.3L38.2,420L39.3,417.8L41,415.8L43.4,413.9L46.4,412.2L49.9,410.7L54,409.3L58.6,408.1L63.7,407.1L69.3,406.3L75.2,405.6L81.5,405.2L88.2,404.9L95.2,404.9L102.4,405L109.8,405.4L117.5,405.9L125.3,406.6L133.1,407.5L141.1,408.6L149,409.9L157,411.4L164.8,413L172.5,414.8L180.1,416.7L187.4,418.8L194.4,421.1L201.1,423.4L207.4,425.9L213.2,428.5L218.6,431.1L223.4,433.8L227.6,436.6L231.1,439.4L234,442.2L236,445L237.3,447.7L237.8,450.3L237.5,452.9L236.3,455.4L234.2,457.7Z" stroke="#3ed91c"/>
<path d="M251.8,461.9L248.5,464.4L244.1,466.7L238.7,468.8L232.4,470.6L225.2,472L217.1,473.2L208.2,474L198.7,474.4L188.6,474.5L178,474.3L167,473.7L155.8,472.7L144.5,471.4L133.1,469.8L121.9,467.9L110.9,465.7L100.3,463.3L90.1,460.7L80.4,457.9L71.4,454.9L63,451.8L55.3,448.6L48.4,445.4L42.3,442.2L37,438.9L32.6,435.7L29.1,432.5L26.4,429.4L24.5,426.3L23.5,423.4L23.3,420.7L23.9,418L25.3,415.6L27.4,413.2L30.2,411.1L33.7,409.2L37.9,407.4L42.7,405.9L48,404.5L53.8,403.4L60.2,402.4L67,401.7L74.2,401.2L81.9,400.9L89.8,400.9L98,401L106.5,401.4L115.3,402L124.1,402.8L133.1,403.9L142.2,405.1L151.3,406.5L160.4,408.2L169.4,410L178.3,412.1L187,414.3L195.5,416.7L203.6,419.2L211.4,421.9L218.8,424.8L225.7,427.7L232,430.8L237.7,433.9L242.7,437.1L247,440.4L250.5,443.7L253.1,446.9L254.8,450.1L255.6,453.2L255.3,456.3L254.1,459.2L251.8,461.9Z" stroke="#1cd95c"/>
<path d="M267.7,465.7L264,468.7L259.2,471.3L253.2,473.7L246.1,475.7L238,477.4L228.8,478.8L218.7,479.7L207.9,480.2L196.3,480.3L184.2,480L171.7,479.3L158.9,478.2L146,476.7L133.1,474.8L120.4,472.6L107.9,470.1L95.9,467.3L84.4,464.3L73.5,461.1L63.3,457.7L53.9,454.2L45.3,450.6L37.7,446.9L31,443.3L25.2,439.6L20.4,436L16.5,432.4L13.7,428.9L11.7,425.5L10.8,422.3L10.7,419.2L11.5,416.3L13.1,413.6L15.6,411L18.9,408.7L22.8,406.5L27.5,404.6L32.9,402.9L38.8,401.4L45.3,400.2L52.4,399.1L60,398.4L68,397.8L76.4,397.5L85.2,397.5L94.3,397.6L103.7,398L113.4,398.7L123.2,399.6L133.1,400.7L143.2,402.1L153.3,403.6L163.4,405.5L173.4,407.5L183.3,409.7L193.1,412.2L202.5,414.8L211.7,417.6L220.5,420.6L228.8,423.8L236.6,427.1L243.8,430.5L250.4,434L256.2,437.6L261.1,441.3L265.2,445L268.3,448.6L270.4,452.3L271.5,455.8L271.4,459.3L270.1,462.6L267.7,465.7Z" stroke="#1cd9bd"/>
<path d="M278.8,468.4L274.9,471.6L269.8,474.5L263.4,477.1L255.8,479.4L246.9,481.2L237,482.7L226.1,483.7L214.3,484.3L201.8,484.4L188.6,484.1L175,483.3L161.1,482.1L147.1,480.4L133.1,478.4L119.3,476L105.8,473.2L92.8,470.2L80.4,466.9L68.6,463.4L57.7,459.7L47.6,455.9L38.4,452L30.3,448L23.1,444L17,440.1L12,436.2L8,432.3L5,428.6L3,425L2.1,421.5L2.1,418.2L3.1,415.1L4.9,412.2L7.6,409.5L11.2,407L15.5,404.7L20.5,402.7L26.3,400.9L32.6,399.3L39.6,398L47.2,396.9L55.3,396.1L63.8,395.5L72.8,395.2L82.1,395.2L91.8,395.3L101.8,395.8L112.1,396.5L122.5,397.4L133.1,398.6L143.9,400L154.6,401.7L165.4,403.6L176.1,405.8L186.7,408.1L197.2,410.7L207.3,413.5L217.2,416.5L226.6,419.7L235.6,423.1L244.1,426.6L251.9,430.3L259.1,434.1L265.4,438L270.9,441.9L275.4,445.9L278.9,449.8L281.3,453.8L282.5,457.7L282.5,461.4L281.3,465L278.8,468.4Z" stroke="#1c92d9"/>
</g>
<path d="M48.5,439.1L140.4,481.3L232.3,439.1" stroke="#222" stroke-width=".6" fill="none"/>
<g stroke="#1a2a10" stroke-opacity=".7" stroke-width=".45" stroke-linejoin="round">
<path d="M140.4,348L142.5,347.5L140.4,345.6L138.3,346.1Z" fill="#0dc250" stroke="#0dc250" stroke-opacity="1" stroke-width=".3"/>
<path d="M142.5,347.5L144.7,347.1L142.6,345.2L140.4,345.6Z" fill="#0dc242" stroke="#0dc242" stroke-opacity="1" stroke-width=".3"/>
<path d="M138.3,346.1L140.4,345.6L138.3,343.8L136.1,344.3Z" fill="#0dc22f" stroke="#0dc22f" stroke-opacity="1" stroke-width=".3"/>
<path d="M140.4,345.6L142.6,345.2L140.4,343.4L138.3,343.8Z" fill="#0dc222" stroke="#0dc222" stroke-opacity="1" stroke-width=".3"/>
<path d="M140.4,348L144.7,347.1L140.4,343.4L136.1,344.3Z" fill="none"/>
<path d="M136.1,344.3L138.3,343.8L136.1,342.2L134,342.6Z" fill="#0cc70f" stroke="#0cc70f" stroke-opacity="1" stroke-width=".3"/>
<path d="M138.3,343.8L140.4,343.4L138.3,341.8L136.1,342.2Z" fill="#1bc70f" stroke="#1bc70f" stroke-opacity="1" stroke-width=".3"/>
<path d="M134,342.6L136.1,342.2L133.9,340.6L131.8,341Z" fill="#2dc70f" stroke="#2dc70f" stroke-opacity="1" stroke-width=".3"/>
<path d="M136.1,342.2L138.3,341.8L136.1,340.2L133.9,340.6Z" fill="#3bc70f" stroke="#3bc70f" stroke-opacity="1" stroke-width=".3"/>
<path d="M136.1,344.3L140.4,343.4L136.1,340.2L131.8,341Z" fill="none"/>
<path d="M144.7,347.1L146.8,346.7L144.7,344.8L142.6,345.2Z" fill="#0dc435" stroke="#0dc435" stroke-opacity="1" stroke-width=".3"/>
<path d="M146.8,346.7L149,346.4L146.9,344.5L144.7,344.8Z" fill="#0dc428" stroke="#0dc428" stroke-opacity="1" stroke-width=".3"/>
<path d="M142.6,345.2L144.7,344.8L142.6,343.1L140.4,343.4Z" fill="#0dc414" stroke="#0dc414" stroke-opacity="1" stroke-width=".3"/>
<path d="M144.7,344.8L146.9,344.5L144.8,342.8L142.6,343.1Z" fill="#16c410" stroke="#16c410" stroke-opacity="1" stroke-width=".3"/>
<path d="M144.7,347.1L149,346.4L144.8,342.8L140.4,343.4Z" fill="none"/>
<path d="M131.8,341L133.9,340.6L131.7,339.2L129.6,339.6Z" fill="#4bcd0e" stroke="#4bcd0e" stroke-opacity="1" stroke-width=".3"/>
<path d="M133.9,340.6L136.1,340.2L133.9,338.8L131.7,339.2Z" fill="#59cd0e" stroke="#59cd0e" stroke-opacity="1" stroke-width=".3"/>
<path d="M129.6,339.6L131.7,339.2L129.5,337.9L127.4,338.2Z" fill="#68cd0e" stroke="#68cd0e" stroke-opacity="1" stroke-width=".3"/>
<path d="M131.7,339.2L133.9,338.8L131.7,337.5L129.5,337.9Z" fill="#76cd0e" stroke="#76cd0e" stroke-opacity="1" stroke-width=".3"/>
<path d="M131.8,341L136.1,340.2L131.7,337.5L127.4,338.2Z" fill="none"/>
<path d="M140.4,343.4L142.6,343.1L140.4,341.5L138.3,341.8Z" fill="#29c90f" stroke="#29c90f" stroke-opacity="1" stroke-width=".3"/>
<path d="M142.6,343.1L144.8,342.8L142.6,341.2L140.4,341.5Z" fill="#36c90f" stroke="#36c90f" stroke-opacity="1" stroke-width=".3"/>
<path d="M138.3,341.8L140.4,341.5L138.2,339.9L136.1,340.2Z" fill="#49c90f" stroke="#49c90f" stroke-opacity="1" stroke-width=".3"/>
<path d="M140.4,341.5L142.6,341.2L140.4,339.6L138.2,339.9Z" fill="#56c90f" stroke="#56c90f" stroke-opacity="1" stroke-width=".3"/>
<path d="M140.4,343.4L144.8,342.8L140.4,339.6L136.1,340.2Z" fill="none"/>
<path d="M149,346.4L151.2,346.1L149.1,344.3L146.9,344.5Z" fill="#0dc51c" stroke="#0dc51c" stroke-opacity="1" stroke-width=".3"/>
<path d="M151.2,346.1L153.4,345.9L151.3,344L149.1,344.3Z" fill="#0dc510" stroke="#0dc510" stroke-opacity="1" stroke-width=".3"/>
<path d="M146.9,344.5L149.1,344.3L146.9,342.5L144.8,342.8Z" fill="#23c510" stroke="#23c510" stroke-opacity="1" stroke-width=".3"/>
<path d="M149.1,344.3L151.3,344L149.2,342.3L146.9,342.5Z" fill="#2fc510" stroke="#2fc510" stroke-opacity="1" stroke-width=".3"/>
<path d="M149,346.4L153.4,345.9L149.2,342.3L144.8,342.8Z" fill="none"/>
<path d="M136.1,340.2L138.2,339.9L136,338.5L133.9,338.8Z" fill="#66ce0d" stroke="#66ce0d" stroke-opacity="1" stroke-width=".3"/>
<path d="M138.2,339.9L140.4,339.6L138.2,338.2L136,338.5Z" fill="#73ce0d" stroke="#73ce0d" stroke-opacity="1" stroke-width=".3"/>
<path d="M133.9,338.8L136,338.5L133.8,337.2L131.7,337.5Z" fill="#84ce0d" stroke="#84ce0d" stroke-opacity="1" stroke-width=".3"/>
<path d="M136,338.5L138.2,338.2L136,337L133.8,337.2Z" fill="#94ce0d" stroke="#94ce0d" stroke-opacity="1" stroke-width=".3"/>
<path d="M136.1,340.2L140.4,339.6L136,337L131.7,337.5Z" fill="none"/>
<path d="M144.8,342.8L146.9,342.5L144.8,340.9L142.6,341.2Z" fill="#43ca0e" stroke="#43ca0e" stroke-opacity="1" stroke-width=".3"/>
<path d="M142.6,341.2L144.8,340.9L142.6,339.4L140.4,339.6Z" fill="#62ca0e" stroke="#62ca0e" stroke-opacity="1" stroke-width=".3"/>
<path d="M146.9,342.5L149.2,342.3L147,340.7L144.8,340.9Z" fill="#4fca0e" stroke="#4fca0e" stroke-opacity="1" stroke-width=".3"/>
<path d="M144.8,340.9L147,340.7L144.8,339.2L142.6,339.4Z" fill="#6eca0e" stroke="#6eca0e" stroke-opacity="1" stroke-width=".3"/>
<path d="M144.8,342.8L149.2,342.3L144.8,339.2L140.4,339.6Z" fill="none"/>
<path d="M127.4,338.2L131.7,337.5L127.2,335.2L122.9,335.9Z" fill="#9dd30c"/>
<path d="M153.4,345.9L155.6,345.7L153.5,343.9L151.3,344Z" fill="#18c70f" stroke="#18c70f" stroke-opacity="1" stroke-width=".3"/>
<path d="M155.6,345.7L157.9,345.6L155.7,343.8L153.5,343.9Z" fill="#23c70f" stroke="#23c70f" stroke-opacity="1" stroke-width=".3"/>
<path d="M151.3,344L153.5,343.9L151.4,342.2L149.2,342.3Z" fill="#3ac70f" stroke="#3ac70f" stroke-opacity="1" stroke-width=".3"/>
<path d="M153.5,343.9L155.7,343.8L153.6,342.1L151.4,342.2Z" fill="#44c70f" stroke="#44c70f" stroke-opacity="1" stroke-width=".3"/>
<path d="M153.4,345.9L157.9,345.6L153.6,342.1L149.2,342.3Z" fill="none"/>
<path d="M122.9,335.9L127.2,335.2L122.6,333.5L118.3,334.1Z" fill="#dad80a"/>
<path d="M131.7,337.5L136,337L131.5,334.8L127.2,335.2Z" fill="#bed40c"/>
<path d="M140.4,339.6L144.8,339.2L140.4,336.6L136,337Z" fill="#99d00d"/>
<path d="M149.2,342.3L151.4,342.2L149.2,340.6L147,340.7Z" fill="#5acc0e" stroke="#5acc0e" stroke-opacity="1" stroke-width=".3"/>
<path d="M147,340.7L149.2,340.6L147,339.1L144.8,339.2Z" fill="#78cc0e" stroke="#78cc0e" stroke-opacity="1" stroke-width=".3"/>
<path d="M151.4,342.2L153.6,342.1L151.5,340.5L149.2,340.6Z" fill="#64cc0e" stroke="#64cc0e" stroke-opacity="1" stroke-width=".3"/>
<path d="M149.2,340.6L151.5,340.5L149.3,339L147,339.1Z" fill="#84cc0e" stroke="#84cc0e" stroke-opacity="1" stroke-width=".3"/>
<path d="M149.2,342.3L153.6,342.1L149.3,339L144.8,339.2Z" fill="none"/>
<path d="M157.9,345.6L160.1,345.5L158,343.7L155.7,343.8Z" fill="#2dc80f" stroke="#2dc80f" stroke-opacity="1" stroke-width=".3"/>
<path d="M160.1,345.5L162.4,345.4L160.3,343.7L158,343.7Z" fill="#36c80f" stroke="#36c80f" stroke-opacity="1" stroke-width=".3"/>
<path d="M155.7,343.8L158,343.7L155.9,342L153.6,342.1Z" fill="#4ec80f" stroke="#4ec80f" stroke-opacity="1" stroke-width=".3"/>
<path d="M158,343.7L160.3,343.7L158.1,342L155.9,342Z" fill="#58c80f" stroke="#58c80f" stroke-opacity="1" stroke-width=".3"/>
<path d="M157.9,345.6L162.4,345.4L158.1,342L153.6,342.1Z" fill="none"/>
<path d="M118.3,334.1L122.6,333.5L118,332.2L113.7,332.7Z" fill="#fcce09"/>
<path d="M127.2,335.2L131.5,334.8L127,333L122.6,333.5Z" fill="#fada0a"/>
<path d="M136,337L140.4,336.6L135.9,334.5L131.5,334.8Z" fill="#dcd60b"/>
<path d="M144.8,339.2L149.3,339L144.9,336.5L140.4,336.6Z" fill="#b4d20c"/>
<path d="M153.6,342.1L158.1,342L153.8,339L149.3,339Z" fill="#82ce0d"/>
<path d="M162.4,345.4L164.6,345.4L162.5,343.7L160.3,343.7Z" fill="#3fc90f" stroke="#3fc90f" stroke-opacity="1" stroke-width=".3"/>
<path d="M164.6,345.4L166.9,345.5L164.8,343.8L162.5,343.7Z" fill="#47c90f" stroke="#47c90f" stroke-opacity="1" stroke-width=".3"/>
<path d="M160.3,343.7L162.5,343.7L160.4,342L158.1,342Z" fill="#60c90f" stroke="#60c90f" stroke-opacity="1" stroke-width=".3"/>
<path d="M162.5,343.7L164.8,343.8L162.7,342.1L160.4,342Z" fill="#68c90f" stroke="#68c90f" stroke-opacity="1" stroke-width=".3"/>
<path d="M162.4,345.4L166.9,345.5L162.7,342.1L158.1,342Z" fill="none"/>
<path d="M113.7,332.7L118,332.2L113.3,331.4L109,331.9Z" fill="#fcae07"/>
<path d="M122.6,333.5L127,333L122.4,331.8L118,332.2Z" fill="#fcb408"/>
<path d="M131.5,334.8L135.9,334.5L131.4,332.8L127,333Z" fill="#fbc409"/>
<path d="M140.4,336.6L144.9,336.5L140.4,334.4L135.9,334.5Z" fill="#f6d80b"/>
<path d="M149.3,339L153.8,339L149.4,336.5L144.9,336.5Z" fill="#ccd30c"/>
<path d="M158.1,342L162.7,342.1L158.4,339.2L153.8,339Z" fill="#97cf0d"/>
<path d="M166.9,345.5L171.5,345.8L167.3,342.5L162.7,342.1Z" fill="#62cb0e"/>
<path d="M109,331.9L113.3,331.4L108.6,331.1L104.3,331.5Z" fill="#fd9e05"/>
<path d="M118,332.2L122.4,331.8L117.7,331.1L113.3,331.4Z" fill="#fd9d06"/>
<path d="M127,333L131.4,332.8L126.8,331.7L122.4,331.8Z" fill="#fca108"/>
<path d="M153.8,339L158.4,339.2L154,336.8L149.4,336.5Z" fill="#e0d50b"/>
<path d="M162.7,342.1L167.3,342.5L163,339.6L158.4,339.2Z" fill="#a9d00d"/>
<path d="M171.5,345.8L176.2,346.3L172,343L167.3,342.5Z" fill="#6ecc0e"/>
<path d="M135.9,334.5L140.4,334.4L135.9,332.8L131.4,332.8Z" fill="#fcb009"/>
<path d="M144.9,336.5L149.4,336.5L145,334.5L140.4,334.4Z" fill="#fbca0a"/>
<path d="M113.3,331.4L117.7,331.1L112.9,330.9L108.6,331.1Z" fill="#fd9105"/>
<path d="M122.4,331.8L126.8,331.7L122.1,331L117.7,331.1Z" fill="#fd9106"/>
<path d="M158.4,339.2L163,339.6L158.7,337.3L154,336.8Z" fill="#f0d60b"/>
<path d="M167.3,342.5L172,343L167.7,340.3L163,339.6Z" fill="#b7d20c"/>
<path d="M104.3,331.5L108.6,331.1L103.8,331.4L99.5,331.7Z" fill="#fe9604"/>
<path d="M131.4,332.8L135.9,332.8L131.3,331.7L126.8,331.7Z" fill="#fc9607"/>
<path d="M140.4,334.4L145,334.5L140.4,333L135.9,332.8Z" fill="#fca008"/>
<path d="M149.4,336.5L154,336.8L149.6,334.9L145,334.5Z" fill="#fbbb0a"/>
<path d="M176.2,346.3L181,347L176.8,343.8L172,343Z" fill="#76ce0d"/>
<path d="M99.5,331.7L103.8,331.4L99,332.2L94.7,332.4Z" fill="#fe9302"/>
<path d="M108.6,331.1L112.9,330.9L108.1,331.3L103.8,331.4Z" fill="#fe8803"/>
<path d="M117.7,331.1L122.1,331L117.4,330.9L112.9,330.9Z" fill="#fd8304"/>
<path d="M126.8,331.7L131.3,331.7L126.6,331.2L122.1,331Z" fill="#fd8705"/>
<path d="M135.9,332.8L140.4,333L135.8,332L131.3,331.7Z" fill="#fd8e07"/>
<path d="M145,334.5L149.6,334.9L145,333.4L140.4,333Z" fill="#fc9908"/>
<path d="M154,336.8L158.7,337.3L154.2,335.4L149.6,334.9Z" fill="#fcb009"/>
<path d="M163,339.6L167.7,340.3L163.4,338L158.7,337.3Z" fill="#fbd70a"/>
<path d="M172,343L176.8,343.8L172.5,341.1L167.7,340.3Z" fill="#c1d30c"/>
<path d="M181,347L185.7,347.9L181.6,344.8L176.8,343.8Z" fill="#7ccf0d"/>
<path d="M94.7,332.4L99,332.2L94.1,333.6L89.8,333.7Z" fill="#ff9401"/>
<path d="M103.8,331.4L108.1,331.3L103.3,332.2L99,332.2Z" fill="#fe8202"/>
<path d="M112.9,330.9L117.4,330.9L112.6,331.4L108.1,331.3Z" fill="#fe7703"/>
<path d="M122.1,331L126.6,331.2L121.8,331.2L117.4,330.9Z" fill="#fe7504"/>
<path d="M131.3,331.7L135.8,332L131.1,331.6L126.6,331.2Z" fill="#fd7a05"/>
<path d="M140.4,333L145,333.4L140.4,332.5L135.8,332Z" fill="#fd8706"/>
<path d="M149.6,334.9L154.2,335.4L149.7,334.1L145,333.4Z" fill="#fc9407"/>
<path d="M158.7,337.3L163.4,338L158.9,336.2L154.2,335.4Z" fill="#fca709"/>
<path d="M167.7,340.3L172.5,341.1L168.1,338.9L163.4,338Z" fill="#fbd10a"/>
<path d="M176.8,343.8L181.6,344.8L177.3,342.1L172.5,341.1Z" fill="#c7d50b"/>
<path d="M185.7,347.9L190.6,349L186.4,346L181.6,344.8Z" fill="#7fd00d"/>
<path d="M99,332.2L103.3,332.2L98.4,333.6L94.1,333.6Z" fill="#ff8301"/>
<path d="M108.1,331.3L112.6,331.4L107.7,332.4L103.3,332.2Z" fill="#fe7201"/>
<path d="M126.6,331.2L131.1,331.6L126.4,331.6L121.8,331.2Z" fill="#fe6903"/>
<path d="M135.8,332L140.4,332.5L135.7,332.1L131.1,331.6Z" fill="#fd7005"/>
<path d="M145,333.4L149.7,334.1L145.1,333.2L140.4,332.5Z" fill="#fd7f06"/>
<path d="M154.2,335.4L158.9,336.2L154.4,334.9L149.7,334.1Z" fill="#fc9007"/>
<path d="M172.5,341.1L177.3,342.1L173,340L168.1,338.9Z" fill="#fbce0a"/>
<path d="M181.6,344.8L186.4,346L182.2,343.4L177.3,342.1Z" fill="#c9d60b"/>
<path d="M89.8,333.7L94.1,333.6L89.1,335.5L84.9,335.5Z" fill="#ff9a00"/>
<path d="M117.4,330.9L121.8,331.2L117.1,331.7L112.6,331.4Z" fill="#fe6902"/>
<path d="M163.4,338L168.1,338.9L163.7,337.2L158.9,336.2Z" fill="#fca208"/>
<path d="M190.6,349L195.5,350.4L191.3,347.4L186.4,346Z" fill="#7fd20c"/>
<path d="M84.9,335.5L89.1,335.5L84.2,338L79.9,337.9Z" fill="#ffa400"/>
<path d="M103.3,332.2L107.7,332.4L102.8,333.9L98.4,333.6Z" fill="#ff7400"/>
<path d="M131.1,331.6L135.7,332.1L131,332.3L126.4,331.6Z" fill="#fe6003"/>
<path d="M140.4,332.5L145.1,333.2L140.4,332.9L135.7,332.1Z" fill="#fe6904"/>
<path d="M149.7,334.1L154.4,334.9L149.8,334.2L145.1,333.2Z" fill="#fd7a05"/>
<path d="M177.3,342.1L182.2,343.4L177.8,341.4L173,340Z" fill="#fbcf09"/>
<path d="M195.5,350.4L200.4,351.9L196.3,349.1L191.3,347.4Z" fill="#7cd30c"/>
<path d="M94.1,333.6L98.4,333.6L93.5,335.7L89.1,335.5Z" fill="#ff8c00"/>
<path d="M112.6,331.4L117.1,331.7L112.2,332.8L107.7,332.4Z" fill="#ff6501"/>
<path d="M121.8,331.2L126.4,331.6L121.6,332.3L117.1,331.7Z" fill="#fe5e02"/>
<path d="M158.9,336.2L163.7,337.2L159.2,336L154.4,334.9Z" fill="#fd8e07"/>
<path d="M168.1,338.9L173,340L168.5,338.4L163.7,337.2Z" fill="#fca208"/>
<path d="M186.4,346L191.3,347.4L187.1,344.9L182.2,343.4Z" fill="#c8d80b"/>
<path d="M89.1,335.5L93.5,335.7L88.5,338.3L84.2,338Z" fill="#ff9900"/>
<path d="M135.7,332.1L140.4,332.9L135.7,333.2L131,332.3Z" fill="#fe5a02"/>
<path d="M145.1,333.2L149.8,334.2L145.1,334L140.4,332.9Z" fill="#fe6504"/>
<path d="M191.3,347.4L196.3,349.1L192.1,346.7L187.1,344.9Z" fill="#c3d90a"/>
<path d="M79.9,337.9L84.2,338L79.2,341L74.9,340.9Z" fill="#ffb300"/>
<path d="M98.4,333.6L102.8,333.9L97.9,336.1L93.5,335.7Z" fill="#ff7d00"/>
<path d="M107.7,332.4L112.2,332.8L107.3,334.5L102.8,333.9Z" fill="#ff6800"/>
<path d="M117.1,331.7L121.6,332.3L116.7,333.4L112.2,332.8Z" fill="#ff5b01"/>
<path d="M126.4,331.6L131,332.3L126.2,333L121.6,332.3Z" fill="#fe5601"/>
<path d="M154.4,334.9L159.2,336L154.6,335.3L149.8,334.2Z" fill="#fd7805"/>
<path d="M163.7,337.2L168.5,338.4L164,337.3L159.2,336Z" fill="#fd8e06"/>
<path d="M173,340L177.8,341.4L173.4,339.9L168.5,338.4Z" fill="#fca308"/>
<path d="M182.2,343.4L187.1,344.9L182.8,343L177.8,341.4Z" fill="#fcd309"/>
<path d="M200.4,351.9L205.4,353.8L201.3,351L196.3,349.1Z" fill="#76d40c"/>
<path d="M74.9,340.9L79.2,341L74.1,344.7L69.9,344.4Z" fill="#ffd300"/>
<path d="M93.5,335.7L97.9,336.1L92.9,338.8L88.5,338.3Z" fill="#ff8d00"/>
<path d="M140.4,332.9L145.1,334L140.4,334.3L135.7,333.2Z" fill="#fe5702"/>
<path d="M187.1,344.9L192.1,346.7L187.8,344.8L182.8,343Z" fill="#fcda09"/>
<path d="M205.4,353.8L210.5,355.8L206.4,353.1L201.3,351Z" fill="#6dd50b"/>
<path d="M84.2,338L88.5,338.3L83.5,341.4L79.2,341Z" fill="#ffa800"/>
<path d="M112.2,332.8L116.7,333.4L111.8,335.2L107.3,334.5Z" fill="#ff5f00"/>
<path d="M121.6,332.3L126.2,333L121.4,334.3L116.7,333.4Z" fill="#ff5400"/>
<path d="M131,332.3L135.7,333.2L130.9,334L126.2,333Z" fill="#ff5101"/>
<path d="M149.8,334.2L154.6,335.3L149.9,335.2L145.1,334Z" fill="#fe6403"/>
<path d="M159.2,336L164,337.3L159.4,336.7L154.6,335.3Z" fill="#fd7904"/>
<path d="M168.5,338.4L173.4,339.9L168.9,338.8L164,337.3Z" fill="#fd9006"/>
<path d="M196.3,349.1L201.3,351L197.1,348.7L192.1,346.7Z" fill="#bada0a"/>
<path d="M102.8,333.9L107.3,334.5L102.4,336.7L97.9,336.1Z" fill="#ff7200"/>
<path d="M177.8,341.4L182.8,343L178.4,341.5L173.4,339.9Z" fill="#fca707"/>
<path d="M79.2,341L83.5,341.4L78.4,345.2L74.1,344.7Z" fill="#ffc100"/>
<path d="M201.3,351L206.4,353.1L202.2,350.9L197.1,348.7Z" fill="#addb0a"/>
<path d="M69.9,344.4L74.1,344.7L69.1,348.9L64.8,348.5Z" fill="#fcff00"/>
<path d="M88.5,338.3L92.9,338.8L87.9,342.1L83.5,341.4Z" fill="#ffa000"/>
<path d="M97.9,336.1L102.4,336.7L97.4,339.5L92.9,338.8Z" fill="#ff8300"/>
<path d="M116.7,333.4L121.4,334.3L116.4,336.2L111.8,335.2Z" fill="#ff5800"/>
<path d="M126.2,333L130.9,334L126,335.4L121.4,334.3Z" fill="#ff5000"/>
<path d="M135.7,333.2L140.4,334.3L135.6,335.2L130.9,334Z" fill="#ff4f01"/>
<path d="M145.1,334L149.9,335.2L145.2,335.7L140.4,334.3Z" fill="#fe5602"/>
<path d="M154.6,335.3L159.4,336.7L154.8,336.7L149.9,335.2Z" fill="#fe6603"/>
<path d="M164,337.3L168.9,338.8L164.3,338.4L159.4,336.7Z" fill="#fe7c04"/>
<path d="M182.8,343L187.8,344.8L183.4,343.5L178.4,341.5Z" fill="#fcb007"/>
<path d="M192.1,346.7L197.1,348.7L192.8,346.9L187.8,344.8Z" fill="#f7e008"/>
<path d="M210.5,355.8L215.6,358.1L211.5,355.5L206.4,353.1Z" fill="#62d60b"/>
<path d="M107.3,334.5L111.8,335.2L106.9,337.5L102.4,336.7Z" fill="#ff6900"/>
<path d="M173.4,339.9L178.4,341.5L173.9,340.6L168.9,338.8Z" fill="#fd9405"/>
<path d="M83.5,341.4L87.9,342.1L82.8,345.9L78.4,345.2Z" fill="#ffb600"/>
<path d="M197.1,348.7L202.2,350.9L197.9,349.2L192.8,346.9Z" fill="#e9e108"/>
<path d="M74.1,344.7L78.4,345.2L73.4,349.6L69.1,348.9Z" fill="#fff200"/>
<path d="M102.4,336.7L106.9,337.5L101.9,340.5L97.4,339.5Z" fill="#ff7c00"/>
<path d="M121.4,334.3L126,335.4L121.1,337.4L116.4,336.2Z" fill="#ff5500"/>
<path d="M130.9,334L135.6,335.2L130.8,336.7L126,335.4Z" fill="#ff4e00"/>
<path d="M149.9,335.2L154.8,336.7L150.1,337.3L145.2,335.7Z" fill="#ff5901"/>
<path d="M159.4,336.7L164.3,338.4L159.7,338.5L154.8,336.7Z" fill="#fe6a03"/>
<path d="M178.4,341.5L183.4,343.5L178.9,342.7L173.9,340.6Z" fill="#fd9a05"/>
<path d="M206.4,353.1L211.5,355.5L207.3,353.4L202.2,350.9Z" fill="#9cdc09"/>
<path d="M64.8,348.5L69.1,348.9L64,353.8L59.8,353.2Z" fill="#c2ff00"/>
<path d="M92.9,338.8L97.4,339.5L92.3,342.9L87.9,342.1Z" fill="#ff9a00"/>
<path d="M111.8,335.2L116.4,336.2L111.5,338.6L106.9,337.5Z" fill="#ff6400"/>
<path d="M140.4,334.3L145.2,335.7L140.4,336.7L135.6,335.2Z" fill="#ff5000"/>
<path d="M168.9,338.8L173.9,340.6L169.3,340.3L164.3,338.4Z" fill="#fe8304"/>
<path d="M187.8,344.8L192.8,346.9L188.4,345.6L183.4,343.5Z" fill="#fdbc07"/>
<path d="M215.6,358.1L220.7,360.6L216.6,358.1L211.5,355.5Z" fill="#53d70b"/>
<path d="M59.8,353.2L64,353.8L58.9,359.2L54.7,358.5Z" fill="#7eff00"/>
<path d="M78.4,345.2L82.8,345.9L77.7,350.4L73.4,349.6Z" fill="#ffe600"/>
<path d="M87.9,342.1L92.3,342.9L87.3,346.9L82.8,345.9Z" fill="#ffb100"/>
<path d="M106.9,337.5L111.5,338.6L106.5,341.6L101.9,340.5Z" fill="#ff7800"/>
<path d="M126,335.4L130.8,336.7L125.9,338.8L121.1,337.4Z" fill="#ff5500"/>
<path d="M154.8,336.7L159.7,338.5L155,339.1L150.1,337.3Z" fill="#ff5f01"/>
<path d="M173.9,340.6L178.9,342.7L174.3,342.4L169.3,340.3Z" fill="#fe8c04"/>
<path d="M192.8,346.9L197.9,349.2L193.5,348.1L188.4,345.6Z" fill="#fdcc06"/>
<path d="M202.2,350.9L207.3,353.4L203,351.8L197.9,349.2Z" fill="#d6e208"/>
<path d="M220.7,360.6L225.9,363.4L221.9,360.9L216.6,358.1Z" fill="#41d80a"/>
<path d="M69.1,348.9L73.4,349.6L68.3,354.5L64,353.8Z" fill="#d1ff00"/>
<path d="M97.4,339.5L101.9,340.5L96.9,344L92.3,342.9Z" fill="#ff9600"/>
<path d="M116.4,336.2L121.1,337.4L116.2,339.9L111.5,338.6Z" fill="#ff6200"/>
<path d="M135.6,335.2L140.4,336.7L135.6,338.3L130.8,336.7Z" fill="#ff5000"/>
<path d="M145.2,335.7L150.1,337.3L145.3,338.4L140.4,336.7Z" fill="#ff5400"/>
<path d="M164.3,338.4L169.3,340.3L164.7,340.5L159.7,338.5Z" fill="#fe7202"/>
<path d="M183.4,343.5L188.4,345.6L184,344.9L178.9,342.7Z" fill="#fda205"/>
<path d="M211.5,355.5L216.6,358.1L212.5,356.1L207.3,353.4Z" fill="#87dd09"/>
<path d="M64,353.8L68.3,354.5L63.2,360L58.9,359.2Z" fill="#8bff00"/>
<path d="M92.3,342.9L96.9,344L91.8,348.1L87.3,346.9Z" fill="#ffae00"/>
<path d="M111.5,338.6L116.2,339.9L111.1,343.1L106.5,341.6Z" fill="#ff7700"/>
<path d="M169.3,340.3L174.3,342.4L169.7,342.7L164.7,340.5Z" fill="#fe7d02"/>
<path d="M188.4,345.6L193.5,348.1L189.1,347.4L184,344.9Z" fill="#fdac05"/>
<path d="M216.6,358.1L221.9,360.9L217.7,359L212.5,356.1Z" fill="#72de09"/>
<path d="M54.7,358.5L58.9,359.2L53.8,365.2L49.6,364.4Z" fill="#41ff00"/>
<path d="M73.4,349.6L77.7,350.4L72.6,355.5L68.3,354.5Z" fill="#dcff00"/>
<path d="M82.8,345.9L87.3,346.9L82.2,351.5L77.7,350.4Z" fill="#ffde00"/>
<path d="M101.9,340.5L106.5,341.6L101.4,345.3L96.9,344Z" fill="#ff9400"/>
<path d="M121.1,337.4L125.9,338.8L120.9,341.5L116.2,339.9Z" fill="#ff6300"/>
<path d="M130.8,336.7L135.6,338.3L130.6,340.5L125.9,338.8Z" fill="#ff5800"/>
<path d="M140.4,336.7L145.3,338.4L140.4,340.1L135.6,338.3Z" fill="#ff5500"/>
<path d="M150.1,337.3L155,339.1L150.2,340.4L145.3,338.4Z" fill="#ff5b00"/>
<path d="M159.7,338.5L164.7,340.5L159.9,341.2L155,339.1Z" fill="#ff6801"/>
<path d="M178.9,342.7L184,344.9L179.4,344.8L174.3,342.4Z" fill="#fe9503"/>
<path d="M197.9,349.2L203,351.8L198.7,350.7L193.5,348.1Z" fill="#fddf06"/>
<path d="M207.3,353.4L212.5,356.1L208.2,354.6L203,351.8Z" fill="#c0e307"/>
<path d="M225.9,363.4L231.1,366.4L227.1,364L221.9,360.9Z" fill="#2cd90a"/>
<path d="M49.6,364.4L53.8,365.2L48.7,371.8L44.5,370.9Z" fill="#00ff04"/>
<path d="M68.3,354.5L72.6,355.5L67.5,361.1L63.2,360Z" fill="#94ff00"/>
<path d="M96.9,344L101.4,345.3L96.4,349.5L91.8,348.1Z" fill="#ffad00"/>
<path d="M116.2,339.9L120.9,341.5L115.9,344.8L111.1,343.1Z" fill="#ff7a00"/>
<path d="M164.7,340.5L169.7,342.7L165,343.6L159.9,341.2Z" fill="#ff7401"/>
<path d="M184,344.9L189.1,347.4L184.5,347.4L179.4,344.8Z" fill="#fea003"/>
<path d="M212.5,356.1L217.7,359L213.5,357.6L208.2,354.6Z" fill="#a6e407"/>
<path d="M231.1,366.4L236.4,369.6L232.4,367.4L227.1,364Z" fill="#14da0a"/>
<path d="M58.9,359.2L63.2,360L58,366.2L53.8,365.2Z" fill="#4aff00"/>
<path d="M87.3,346.9L91.8,348.1L86.7,352.8L82.2,351.5Z" fill="#ffda00"/>
<path d="M106.5,341.6L111.1,343.1L106.1,346.8L101.4,345.3Z" fill="#ff9500"/>
<path d="M135.6,338.3L140.4,340.1L135.5,342.4L130.6,340.5Z" fill="#ff5e00"/>
<path d="M145.3,338.4L150.2,340.4L145.3,342.2L140.4,340.1Z" fill="#ff5d00"/>
<path d="M174.3,342.4L179.4,344.8L174.8,345.2L169.7,342.7Z" fill="#fe8a02"/>
<path d="M193.5,348.1L198.7,350.7L194.2,350.2L189.1,347.4Z" fill="#fdc004"/>
<path d="M221.9,360.9L227.1,364L223,362.2L217.7,359Z" fill="#5cdf08"/>
<path d="M77.7,350.4L82.2,351.5L77.1,356.7L72.6,355.5Z" fill="#e2ff00"/>
<path d="M125.9,338.8L130.6,340.5L125.7,343.3L120.9,341.5Z" fill="#ff6800"/>
<path d="M155,339.1L159.9,341.2L155.2,342.6L150.2,340.4Z" fill="#ff6500"/>
<path d="M203,351.8L208.2,354.6L203.9,353.6L198.7,350.7Z" fill="#f0ea06"/>
<path d="M53.8,365.2L58,366.2L52.9,372.9L48.7,371.8Z" fill="#04ff00"/>
<path d="M101.4,345.3L106.1,346.8L101,351.2L96.4,349.5Z" fill="#ffae00"/>
<path d="M179.4,344.8L184.5,347.4L179.9,347.9L174.8,345.2Z" fill="#fe9802"/>
<path d="M227.1,364L232.4,367.4L228.3,365.7L223,362.2Z" fill="#43e008"/>
<path d="M63.2,360L67.5,361.1L62.4,367.4L58,366.2Z" fill="#4fff00"/>
<path d="M72.6,355.5L77.1,356.7L71.9,362.5L67.5,361.1Z" fill="#99ff00"/>
<path d="M91.8,348.1L96.4,349.5L91.2,354.4L86.7,352.8Z" fill="#ffd900"/>
<path d="M111.1,343.1L115.9,344.8L110.8,348.6L106.1,346.8Z" fill="#ff9700"/>
<path d="M120.9,341.5L125.7,343.3L120.7,346.7L115.9,344.8Z" fill="#ff7f00"/>
<path d="M140.4,340.1L145.3,342.2L140.4,344.6L135.5,342.4Z" fill="#ff6700"/>
<path d="M159.9,341.2L165,343.6L160.2,345L155.2,342.6Z" fill="#ff7200"/>
<path d="M169.7,342.7L174.8,345.2L170.1,346.2L165,343.6Z" fill="#ff8300"/>
<path d="M189.1,347.4L194.2,350.2L189.7,350.3L184.5,347.4Z" fill="#feac03"/>
<path d="M208.2,354.6L213.5,357.6L209.1,356.8L203.9,353.6Z" fill="#d4ea05"/>
<path d="M217.7,359L223,362.2L218.8,361L213.5,357.6Z" fill="#88e507"/>
<path d="M82.2,351.5L86.7,352.8L81.5,358.1L77.1,356.7Z" fill="#e5ff00"/>
<path d="M130.6,340.5L135.5,342.4L130.5,345.3L125.7,343.3Z" fill="#ff6f00"/>
<path d="M150.2,340.4L155.2,342.6L150.3,344.5L145.3,342.2Z" fill="#ff6800"/>
<path d="M198.7,350.7L203.9,353.6L199.5,353.2L194.2,350.2Z" fill="#fed904"/>
<path d="M58,366.2L62.4,367.4L57.2,374.3L52.9,372.9Z" fill="#08ff00"/>
<path d="M106.1,346.8L110.8,348.6L105.7,353.1L101,351.2Z" fill="#ffb100"/>
<path d="M174.8,345.2L179.9,347.9L175.2,349L170.1,346.2Z" fill="#ff9500"/>
<path d="M223,362.2L228.3,365.7L224.1,364.5L218.8,361Z" fill="#6be607"/>
<path d="M77.1,356.7L81.5,358.1L76.4,364.1L71.9,362.5Z" fill="#9aff00"/>
<path d="M96.4,349.5L101,351.2L95.9,356.2L91.2,354.4Z" fill="#ffdd00"/>
<path d="M125.7,343.3L130.5,345.3L125.5,348.8L120.7,346.7Z" fill="#ff8800"/>
<path d="M155.2,342.6L160.2,345L155.3,347.1L150.3,344.5Z" fill="#ff7700"/>
<path d="M184.5,347.4L189.7,350.3L185.1,350.9L179.9,347.9Z" fill="#fea601"/>
<path d="M203.9,353.6L209.1,356.8L204.7,356.5L199.5,353.2Z" fill="#f8f004"/>
<path d="M67.5,361.1L71.9,362.5L66.8,368.9L62.4,367.4Z" fill="#52ff00"/>
<path d="M86.7,352.8L91.2,354.4L86.1,359.8L81.5,358.1Z" fill="#e3ff00"/>
<path d="M115.9,344.8L120.7,346.7L115.6,350.7L110.8,348.6Z" fill="#ff9c00"/>
<path d="M135.5,342.4L140.4,344.6L135.4,347.6L130.5,345.3Z" fill="#ff7a00"/>
<path d="M145.3,342.2L150.3,344.5L145.4,347L140.4,344.6Z" fill="#ff7400"/>
<path d="M165,343.6L170.1,346.2L165.3,347.7L160.2,345Z" fill="#ff8200"/>
<path d="M194.2,350.2L199.5,353.2L194.9,353.4L189.7,350.3Z" fill="#fec303"/>
<path d="M213.5,357.6L218.8,361L214.5,360.2L209.1,356.8Z" fill="#b4eb05"/>
<path d="M62.4,367.4L66.8,368.9L61.6,375.9L57.2,374.3Z" fill="#0aff00"/>
<path d="M81.5,358.1L86.1,359.8L80.9,365.9L76.4,364.1Z" fill="#97ff00"/>
<path d="M101,351.2L105.7,353.1L100.6,358.2L95.9,356.2Z" fill="#ffe500"/>
<path d="M110.8,348.6L115.6,350.7L110.5,355.3L105.7,353.1Z" fill="#ffb700"/>
<path d="M130.5,345.3L135.4,347.6L130.4,351.3L125.5,348.8Z" fill="#ff9400"/>
<path d="M150.3,344.5L155.3,347.1L150.4,349.7L145.4,347Z" fill="#ff8300"/>
<path d="M170.1,346.2L175.2,349L170.4,350.7L165.3,347.7Z" fill="#ff9500"/>
<path d="M179.9,347.9L185.1,350.9L180.4,352.1L175.2,349Z" fill="#ffa400"/>
<path d="M199.5,353.2L204.7,356.5L200.2,356.8L194.9,353.4Z" fill="#fee203"/>
<path d="M218.8,361L224.1,364.5L219.8,363.9L214.5,360.2Z" fill="#90ec05"/>
<path d="M71.9,362.5L76.4,364.1L71.2,370.6L66.8,368.9Z" fill="#52ff00"/>
<path d="M91.2,354.4L95.9,356.2L90.7,361.8L86.1,359.8Z" fill="#deff00"/>
<path d="M120.7,346.7L125.5,348.8L120.4,353L115.6,350.7Z" fill="#ffa300"/>
<path d="M160.2,345L165.3,347.7L160.4,349.9L155.3,347.1Z" fill="#ff8800"/>
<path d="M189.7,350.3L194.9,353.4L190.3,354.2L185.1,350.9Z" fill="#ffb601"/>
<path d="M209.1,356.8L214.5,360.2L210,360.1L204.7,356.5Z" fill="#d6f104"/>
<path d="M140.4,344.6L145.4,347L140.4,350.2L135.4,347.6Z" fill="#ff8700"/>
<path d="M66.8,368.9L71.2,370.6L66.1,377.8L61.6,375.9Z" fill="#08ff00"/>
<path d="M86.1,359.8L90.7,361.8L85.6,368L80.9,365.9Z" fill="#90ff00"/>
<path d="M115.6,350.7L120.4,353L115.3,357.7L110.5,355.3Z" fill="#ffc300"/>
<path d="M165.3,347.7L170.4,350.7L165.6,353L160.4,349.9Z" fill="#ff9a00"/>
<path d="M194.9,353.4L200.2,356.8L195.6,357.7L190.3,354.2Z" fill="#ffd601"/>
<path d="M214.5,360.2L219.8,363.9L215.4,363.9L210,360.1Z" fill="#b1f104"/>
<path d="M76.4,364.1L80.9,365.9L75.8,372.6L71.2,370.6Z" fill="#4eff00"/>
<path d="M95.9,356.2L100.6,358.2L95.4,363.9L90.7,361.8Z" fill="#d5ff00"/>
<path d="M105.7,353.1L110.5,355.3L105.3,360.5L100.6,358.2Z" fill="#fff000"/>
<path d="M125.5,348.8L130.4,351.3L125.3,355.5L120.4,353Z" fill="#ffab00"/>
<path d="M135.4,347.6L140.4,350.2L135.4,354L130.4,351.3Z" fill="#ff9e00"/>
<path d="M145.4,347L150.4,349.7L145.4,353L140.4,350.2Z" fill="#ff9700"/>
<path d="M155.3,347.1L160.4,349.9L155.5,352.7L150.4,349.7Z" fill="#ff9600"/>
<path d="M175.2,349L180.4,352.1L175.6,353.9L170.4,350.7Z" fill="#ffa500"/>
<path d="M185.1,350.9L190.3,354.2L185.6,355.5L180.4,352.1Z" fill="#ffb500"/>
<path d="M204.7,356.5L210,360.1L205.5,360.5L200.2,356.8Z" fill="#f0f602"/>
<path d="M71.2,370.6L73.5,371.6L70.9,375.1L68.6,374.1Z" fill="#18ff00" stroke="#18ff00" stroke-opacity="1" stroke-width=".3"/>
<path d="M73.5,371.6L75.8,372.6L73.2,376.1L70.9,375.1Z" fill="#15ff00" stroke="#15ff00" stroke-opacity="1" stroke-width=".3"/>
<path d="M68.6,374.1L70.9,375.1L68.3,378.8L66.1,377.8Z" fill="#00ff0f" stroke="#00ff0f" stroke-opacity="1" stroke-width=".3"/>
<path d="M70.9,375.1L73.2,376.1L70.6,379.9L68.3,378.8Z" fill="#00ff13" stroke="#00ff13" stroke-opacity="1" stroke-width=".3"/>
<path d="M71.2,370.6L75.8,372.6L70.6,379.9L66.1,377.8Z" fill="none"/>
<path d="M90.7,361.8L95.4,363.9L90.2,370.3L85.6,368Z" fill="#85ff00"/>
<path d="M120.4,353L125.3,355.5L120.2,360.4L115.3,357.7Z" fill="#ffd500"/>
<path d="M140.4,350.2L145.4,353L140.4,356.9L135.4,354Z" fill="#ffab00"/>
<path d="M160.4,349.9L165.6,353L160.7,355.9L155.5,352.7Z" fill="#ffa500"/>
<path d="M190.3,354.2L195.6,357.7L190.9,359.1L185.6,355.5Z" fill="#ffd400"/>
<path d="M210,360.1L215.4,363.9L210.9,364.4L205.5,360.5Z" fill="#c8f602"/>
<path d="M80.9,365.9L85.6,368L80.4,374.8L75.8,372.6Z" fill="#47ff00"/>
<path d="M110.5,355.3L115.3,357.7L110.2,363.1L105.3,360.5Z" fill="#feff00"/>
<path d="M170.4,350.7L175.6,353.9L170.8,356.4L165.6,353Z" fill="#ffaa00"/>
<path d="M200.2,356.8L205.5,360.5L201,361.4L195.6,357.7Z" fill="#fffa01"/>
<path d="M100.6,358.2L105.3,360.5L100.2,366.4L95.4,363.9Z" fill="#c7ff00"/>
<path d="M130.4,351.3L135.4,354L130.3,358.3L125.3,355.5Z" fill="#ffb600"/>
<path d="M150.4,349.7L155.5,352.7L150.5,356.1L145.4,353Z" fill="#ffa500"/>
<path d="M180.4,352.1L185.6,355.5L180.9,357.4L175.6,353.9Z" fill="#ffb600"/>
<path d="M75.8,372.6L78.1,373.6L75.5,377.3L73.2,376.1Z" fill="#11ff00" stroke="#11ff00" stroke-opacity="1" stroke-width=".3"/>
<path d="M78.1,373.6L80.4,374.8L77.8,378.4L75.5,377.3Z" fill="#0dff00" stroke="#0dff00" stroke-opacity="1" stroke-width=".3"/>
<path d="M73.2,376.1L75.5,377.3L72.9,381L70.6,379.9Z" fill="#00ff17" stroke="#00ff17" stroke-opacity="1" stroke-width=".3"/>
<path d="M75.5,377.3L77.8,378.4L75.2,382.2L72.9,381Z" fill="#00ff1c" stroke="#00ff1c" stroke-opacity="1" stroke-width=".3"/>
<path d="M75.8,372.6L80.4,374.8L75.2,382.2L70.6,379.9Z" fill="none"/>
<path d="M205.5,360.5L210.9,364.4L206.3,365.5L201,361.4Z" fill="#d6fb01"/>
<path d="M85.6,368L90.2,370.3L85,377.2L80.4,374.8Z" fill="#3eff00"/>
<path d="M95.4,363.9L100.2,366.4L95,372.9L90.2,370.3Z" fill="#77ff00"/>
<path d="M115.3,357.7L120.2,360.4L115.1,365.9L110.2,363.1Z" fill="#eaff00"/>
<path d="M125.3,355.5L130.3,358.3L125.2,363.4L120.2,360.4Z" fill="#ffea00"/>
<path d="M135.4,354L140.4,356.9L135.3,361.4L130.3,358.3Z" fill="#ffcc00"/>
<path d="M145.4,353L150.5,356.1L145.5,360.1L140.4,356.9Z" fill="#ffb900"/>
<path d="M155.5,352.7L160.7,355.9L155.7,359.4L150.5,356.1Z" fill="#ffb400"/>
<path d="M165.6,353L170.8,356.4L165.9,359.4L160.7,355.9Z" fill="#ffb600"/>
<path d="M185.6,355.5L190.9,359.1L186.2,361.2L180.9,357.4Z" fill="#ffd800"/>
<path d="M195.6,357.7L201,361.4L196.3,363L190.9,359.1Z" fill="#fffa00"/>
<path d="M105.3,360.5L110.2,363.1L105,369.1L100.2,366.4Z" fill="#b6ff00"/>
<path d="M175.6,353.9L180.9,357.4L176,360L170.8,356.4Z" fill="#ffc000"/>
<path d="M80.4,374.8L82.7,376L80.1,379.7L77.8,378.4Z" fill="#07ff00" stroke="#07ff00" stroke-opacity="1" stroke-width=".3"/>
<path d="M82.7,376L85,377.2L82.4,381L80.1,379.7Z" fill="#01ff00" stroke="#01ff00" stroke-opacity="1" stroke-width=".3"/>
<path d="M77.8,378.4L80.1,379.7L77.5,383.5L75.2,382.2Z" fill="#00ff22" stroke="#00ff22" stroke-opacity="1" stroke-width=".3"/>
<path d="M80.1,379.7L82.4,381L79.8,384.8L77.5,383.5Z" fill="#00ff28" stroke="#00ff28" stroke-opacity="1" stroke-width=".3"/>
<path d="M80.4,374.8L85,377.2L79.8,384.8L75.2,382.2Z" fill="none"/>
<path d="M130.3,358.3L135.3,361.4L130.2,366.6L125.2,363.4Z" fill="#faff00"/>
<path d="M150.5,356.1L155.7,359.4L150.6,363.6L145.5,360.1Z" fill="#ffd800"/>
<path d="M201,361.4L206.3,365.5L201.7,367.2L196.3,363Z" fill="#d9fe00"/>
<path d="M100.2,366.4L105,369.1L99.8,375.7L95,372.9Z" fill="#69ff00"/>
<path d="M180.9,357.4L186.2,361.2L181.3,363.9L176,360Z" fill="#ffe500"/>
<path d="M90.2,370.3L92.6,371.5L90,375L87.6,373.7Z" fill="#47ff00" stroke="#47ff00" stroke-opacity="1" stroke-width=".3"/>
<path d="M87.6,373.7L90,375L87.4,378.6L85,377.2Z" fill="#21ff00" stroke="#21ff00" stroke-opacity="1" stroke-width=".3"/>
<path d="M92.6,371.5L95,372.9L92.4,376.3L90,375Z" fill="#3fff00" stroke="#3fff00" stroke-opacity="1" stroke-width=".3"/>
<path d="M90,375L92.4,376.3L89.8,380L87.4,378.6Z" fill="#1aff00" stroke="#1aff00" stroke-opacity="1" stroke-width=".3"/>
<path d="M90.2,370.3L95,372.9L89.8,380L85,377.2Z" fill="none"/>
<path d="M110.2,363.1L115.1,365.9L109.9,372L105,369.1Z" fill="#a0ff00"/>
<path d="M120.2,360.4L125.2,363.4L120,369L115.1,365.9Z" fill="#d3ff00"/>
<path d="M140.4,356.9L145.5,360.1L140.4,364.8L135.3,361.4Z" fill="#ffe800"/>
<path d="M160.7,355.9L165.9,359.4L160.9,363L155.7,359.4Z" fill="#ffd100"/>
<path d="M170.8,356.4L176,360L171.1,363.1L165.9,359.4Z" fill="#ffd600"/>
<path d="M190.9,359.1L196.3,363L191.5,365.2L186.2,361.2Z" fill="#ffff00"/>
<path d="M85,377.2L87.4,378.6L84.8,382.3L82.4,381Z" fill="#00ff06" stroke="#00ff06" stroke-opacity="1" stroke-width=".3"/>
<path d="M87.4,378.6L89.8,380L87.1,383.7L84.8,382.3Z" fill="#00ff0e" stroke="#00ff0e" stroke-opacity="1" stroke-width=".3"/>
<path d="M82.4,381L84.8,382.3L82.2,386.2L79.8,384.8Z" fill="#00ff2f" stroke="#00ff2f" stroke-opacity="1" stroke-width=".3"/>
<path d="M84.8,382.3L87.1,383.7L84.5,387.7L82.2,386.2Z" fill="#00ff37" stroke="#00ff37" stroke-opacity="1" stroke-width=".3"/>
<path d="M85,377.2L89.8,380L84.5,387.7L79.8,384.8Z" fill="none"/>
<path d="M105,369.1L107.4,370.5L104.8,373.8L102.4,372.3Z" fill="#6dff00" stroke="#6dff00" stroke-opacity="1" stroke-width=".3"/>
<path d="M107.4,370.5L109.9,372L107.3,375.3L104.8,373.8Z" fill="#63ff00" stroke="#63ff00" stroke-opacity="1" stroke-width=".3"/>
<path d="M102.4,372.3L104.8,373.8L102.2,377.2L99.8,375.7Z" fill="#4aff00" stroke="#4aff00" stroke-opacity="1" stroke-width=".3"/>
<path d="M104.8,373.8L107.3,375.3L104.7,378.8L102.2,377.2Z" fill="#40ff00" stroke="#40ff00" stroke-opacity="1" stroke-width=".3"/>
<path d="M105,369.1L109.9,372L104.7,378.8L99.8,375.7Z" fill="none"/>
<path d="M125.2,363.4L130.2,366.6L125,372.3L120,369Z" fill="#b7ff00"/>
<path d="M135.3,361.4L140.4,364.8L135.3,370L130.2,366.6Z" fill="#dcff00"/>
<path d="M145.5,360.1L150.6,363.6L145.6,368.4L140.4,364.8Z" fill="#f5ff00"/>
<path d="M155.7,359.4L160.9,363L155.9,367.3L150.6,363.6Z" fill="#fffa00"/>
<path d="M176,360L181.3,363.9L176.4,367.2L171.1,363.1Z" fill="#fffd00"/>
<path d="M196.3,363L201.7,367.2L196.9,369.5L191.5,365.2Z" fill="#d2ff00"/>
<path d="M95,372.9L97.4,374.2L94.8,377.8L92.4,376.3Z" fill="#38ff00" stroke="#38ff00" stroke-opacity="1" stroke-width=".3"/>
<path d="M97.4,374.2L99.8,375.7L97.2,379.2L94.8,377.8Z" fill="#2fff00" stroke="#2fff00" stroke-opacity="1" stroke-width=".3"/>
<path d="M92.4,376.3L94.8,377.8L92.1,381.4L89.8,380Z" fill="#12ff00" stroke="#12ff00" stroke-opacity="1" stroke-width=".3"/>
<path d="M94.8,377.8L97.2,379.2L94.6,382.9L92.1,381.4Z" fill="#09ff00" stroke="#09ff00" stroke-opacity="1" stroke-width=".3"/>
<path d="M95,372.9L99.8,375.7L94.6,382.9L89.8,380Z" fill="none"/>
<path d="M186.2,361.2L191.5,365.2L186.7,368L181.3,363.9Z" fill="#efff00"/>
<path d="M115.1,365.9L120,369L114.8,375.3L109.9,372Z" fill="#87ff00"/>
<path d="M165.9,359.4L171.1,363.1L166.1,366.9L160.9,363Z" fill="#fff600"/>
<path d="M140.4,364.8L145.6,368.4L140.4,373.8L135.3,370Z" fill="#b9ff00"/>
<path d="M89.8,380L92.1,381.4L89.5,385.2L87.1,383.7Z" fill="#00ff16" stroke="#00ff16" stroke-opacity="1" stroke-width=".3"/>
<path d="M92.1,381.4L94.6,382.9L91.9,386.8L89.5,385.2Z" fill="#00ff1f" stroke="#00ff1f" stroke-opacity="1" stroke-width=".3"/>
<path d="M87.1,383.7L89.5,385.2L86.9,389.2L84.5,387.7Z" fill="#00ff40" stroke="#00ff40" stroke-opacity="1" stroke-width=".3"/>
<path d="M89.5,385.2L91.9,386.8L89.3,390.8L86.9,389.2Z" fill="#00ff4a" stroke="#00ff4a" stroke-opacity="1" stroke-width=".3"/>
<path d="M89.8,380L94.6,382.9L89.3,390.8L84.5,387.7Z" fill="none"/>
<path d="M191.5,365.2L196.9,369.5L192.1,372.5L186.7,368Z" fill="#c1ff00"/>
<path d="M99.8,375.7L102.2,377.2L99.6,380.8L97.2,379.2Z" fill="#26ff00" stroke="#26ff00" stroke-opacity="1" stroke-width=".3"/>
<path d="M97.2,379.2L99.6,380.8L97,384.5L94.6,382.9Z" fill="#00ff01" stroke="#00ff01" stroke-opacity="1" stroke-width=".3"/>
<path d="M102.2,377.2L104.7,378.8L102,382.4L99.6,380.8Z" fill="#1cff00" stroke="#1cff00" stroke-opacity="1" stroke-width=".3"/>
<path d="M99.6,380.8L102,382.4L99.4,386.2L97,384.5Z" fill="#00ff0b" stroke="#00ff0b" stroke-opacity="1" stroke-width=".3"/>
<path d="M99.8,375.7L104.7,378.8L99.4,386.2L94.6,382.9Z" fill="none"/>
<path d="M109.9,372L112.3,373.6L109.7,377L107.3,375.3Z" fill="#59ff00" stroke="#59ff00" stroke-opacity="1" stroke-width=".3"/>
<path d="M112.3,373.6L114.8,375.3L112.2,378.6L109.7,377Z" fill="#4eff00" stroke="#4eff00" stroke-opacity="1" stroke-width=".3"/>
<path d="M107.3,375.3L109.7,377L107.1,380.4L104.7,378.8Z" fill="#36ff00" stroke="#36ff00" stroke-opacity="1" stroke-width=".3"/>
<path d="M109.7,377L112.2,378.6L109.6,382.2L107.1,380.4Z" fill="#2aff00" stroke="#2aff00" stroke-opacity="1" stroke-width=".3"/>
<path d="M109.9,372L114.8,375.3L109.6,382.2L104.7,378.8Z" fill="none"/>
<path d="M120,369L122.5,370.6L119.9,373.7L117.4,372Z" fill="#85ff00" stroke="#85ff00" stroke-opacity="1" stroke-width=".3"/>
<path d="M117.4,372L119.9,373.7L117.3,377L114.8,375.3Z" fill="#63ff00" stroke="#63ff00" stroke-opacity="1" stroke-width=".3"/>
<path d="M122.5,370.6L125,372.3L122.4,375.5L119.9,373.7Z" fill="#77ff00" stroke="#77ff00" stroke-opacity="1" stroke-width=".3"/>
<path d="M119.9,373.7L122.4,375.5L119.8,378.8L117.3,377Z" fill="#57ff00" stroke="#57ff00" stroke-opacity="1" stroke-width=".3"/>
<path d="M120,369L125,372.3L119.8,378.8L114.8,375.3Z" fill="none"/>
<path d="M130.2,366.6L135.3,370L130.1,376L125,372.3Z" fill="#97ff00"/>
<path d="M150.6,363.6L155.9,367.3L150.8,372.3L145.6,368.4Z" fill="#d1ff00"/>
<path d="M160.9,363L166.1,366.9L161.1,371.4L155.9,367.3Z" fill="#ddff00"/>
<path d="M171.1,363.1L176.4,367.2L171.5,371.1L166.1,366.9Z" fill="#dfff00"/>
<path d="M181.3,363.9L186.7,368L181.8,371.5L176.4,367.2Z" fill="#d5ff00"/>
<path d="M94.6,382.9L97,384.5L94.3,388.4L91.9,386.8Z" fill="#00ff2a" stroke="#00ff2a" stroke-opacity="1" stroke-width=".3"/>
<path d="M97,384.5L99.4,386.2L96.8,390.1L94.3,388.4Z" fill="#00ff34" stroke="#00ff34" stroke-opacity="1" stroke-width=".3"/>
<path d="M91.9,386.8L94.3,388.4L91.7,392.5L89.3,390.8Z" fill="#00ff54" stroke="#00ff54" stroke-opacity="1" stroke-width=".3"/>
<path d="M94.3,388.4L96.8,390.1L94.1,394.2L91.7,392.5Z" fill="#00ff60" stroke="#00ff60" stroke-opacity="1" stroke-width=".3"/>
<path d="M94.6,382.9L99.4,386.2L94.1,394.2L89.3,390.8Z" fill="none"/>
<path d="M114.8,375.3L117.3,377L114.7,380.4L112.2,378.6Z" fill="#42ff00" stroke="#42ff00" stroke-opacity="1" stroke-width=".3"/>
<path d="M117.3,377L119.8,378.8L117.2,382.2L114.7,380.4Z" fill="#35ff00" stroke="#35ff00" stroke-opacity="1" stroke-width=".3"/>
<path d="M112.2,378.6L114.7,380.4L112.1,383.9L109.6,382.2Z" fill="#1eff00" stroke="#1eff00" stroke-opacity="1" stroke-width=".3"/>
<path d="M114.7,380.4L117.2,382.2L114.6,385.8L112.1,383.9Z" fill="#11ff00" stroke="#11ff00" stroke-opacity="1" stroke-width=".3"/>
<path d="M114.8,375.3L119.8,378.8L114.6,385.8L109.6,382.2Z" fill="none"/>
<path d="M135.3,370L137.8,371.9L135.3,374.8L132.7,372.9Z" fill="#8fff00" stroke="#8fff00" stroke-opacity="1" stroke-width=".3"/>
<path d="M137.8,371.9L140.4,373.8L137.8,376.7L135.3,374.8Z" fill="#7cff00" stroke="#7cff00" stroke-opacity="1" stroke-width=".3"/>
<path d="M132.7,372.9L135.3,374.8L132.7,377.9L130.1,376Z" fill="#6eff00" stroke="#6eff00" stroke-opacity="1" stroke-width=".3"/>
<path d="M135.3,374.8L137.8,376.7L135.2,379.9L132.7,377.9Z" fill="#5fff00" stroke="#5fff00" stroke-opacity="1" stroke-width=".3"/>
<path d="M135.3,370L140.4,373.8L135.2,379.9L130.1,376Z" fill="none"/>
<path d="M145.6,368.4L150.8,372.3L145.6,377.8L140.4,373.8Z" fill="#93ff00"/>
<path d="M166.1,366.9L171.5,371.1L166.4,375.7L161.1,371.4Z" fill="#b2ff00"/>
<path d="M186.7,368L192.1,372.5L187.2,376L181.8,371.5Z" fill="#a5ff00"/>
<path d="M104.7,378.8L107.1,380.4L104.5,384.1L102,382.4Z" fill="#11ff00" stroke="#11ff00" stroke-opacity="1" stroke-width=".3"/>
<path d="M107.1,380.4L109.6,382.2L107,385.9L104.5,384.1Z" fill="#05ff00" stroke="#05ff00" stroke-opacity="1" stroke-width=".3"/>
<path d="M102,382.4L104.5,384.1L101.9,387.9L99.4,386.2Z" fill="#00ff17" stroke="#00ff17" stroke-opacity="1" stroke-width=".3"/>
<path d="M104.5,384.1L107,385.9L104.3,389.7L101.9,387.9Z" fill="#00ff23" stroke="#00ff23" stroke-opacity="1" stroke-width=".3"/>
<path d="M104.7,378.8L109.6,382.2L104.3,389.7L99.4,386.2Z" fill="none"/>
<path d="M125,372.3L127.6,374.1L125,377.3L122.4,375.5Z" fill="#6aff00" stroke="#6aff00" stroke-opacity="1" stroke-width=".3"/>
<path d="M127.6,374.1L130.1,376L127.5,379.2L125,377.3Z" fill="#5dff00" stroke="#5dff00" stroke-opacity="1" stroke-width=".3"/>
<path d="M122.4,375.5L125,377.3L122.3,380.6L119.8,378.8Z" fill="#4aff00" stroke="#4aff00" stroke-opacity="1" stroke-width=".3"/>
<path d="M125,377.3L127.5,379.2L124.9,382.5L122.3,380.6Z" fill="#3cff00" stroke="#3cff00" stroke-opacity="1" stroke-width=".3"/>
<path d="M125,372.3L130.1,376L124.9,382.5L119.8,378.8Z" fill="none"/>
<path d="M155.9,367.3L161.1,371.4L156,376.4L150.8,372.3Z" fill="#a8ff00"/>
<path d="M176.4,367.2L181.8,371.5L176.8,375.5L171.5,371.1Z" fill="#b1ff00"/>
<path d="M99.4,386.2L101.9,387.9L99.2,391.9L96.8,390.1Z" fill="#00ff40" stroke="#00ff40" stroke-opacity="1" stroke-width=".3"/>
<path d="M101.9,387.9L104.3,389.7L101.7,393.7L99.2,391.9Z" fill="#00ff4d" stroke="#00ff4d" stroke-opacity="1" stroke-width=".3"/>
<path d="M96.8,390.1L99.2,391.9L96.6,396L94.1,394.2Z" fill="#00ff6c" stroke="#00ff6c" stroke-opacity="1" stroke-width=".3"/>
<path d="M99.2,391.9L101.7,393.7L99.1,397.9L96.6,396Z" fill="#00ff78" stroke="#00ff78" stroke-opacity="1" stroke-width=".3"/>
<path d="M99.4,386.2L104.3,389.7L99.1,397.9L94.1,394.2Z" fill="none"/>
<path d="M109.6,382.2L112.1,383.9L109.4,387.7L107,385.9Z" fill="#00ff08" stroke="#00ff08" stroke-opacity="1" stroke-width=".3"/>
<path d="M107,385.9L109.4,387.7L106.8,391.6L104.3,389.7Z" fill="#00ff30" stroke="#00ff30" stroke-opacity="1" stroke-width=".3"/>
<path d="M112.1,383.9L114.6,385.8L111.9,389.6L109.4,387.7Z" fill="#00ff15" stroke="#00ff15" stroke-opacity="1" stroke-width=".3"/>
<path d="M109.4,387.7L111.9,389.6L109.3,393.5L106.8,391.6Z" fill="#00ff3d" stroke="#00ff3d" stroke-opacity="1" stroke-width=".3"/>
<path d="M109.6,382.2L114.6,385.8L109.3,393.5L104.3,389.7Z" fill="none"/>
<path d="M119.8,378.8L122.3,380.6L119.7,384.1L117.2,382.2Z" fill="#28ff00" stroke="#28ff00" stroke-opacity="1" stroke-width=".3"/>
<path d="M122.3,380.6L124.9,382.5L122.3,386L119.7,384.1Z" fill="#1aff00" stroke="#1aff00" stroke-opacity="1" stroke-width=".3"/>
<path d="M117.2,382.2L119.7,384.1L117.1,387.7L114.6,385.8Z" fill="#03ff00" stroke="#03ff00" stroke-opacity="1" stroke-width=".3"/>
<path d="M119.7,384.1L122.3,386L119.6,389.7L117.1,387.7Z" fill="#00ff0b" stroke="#00ff0b" stroke-opacity="1" stroke-width=".3"/>
<path d="M119.8,378.8L124.9,382.5L119.6,389.7L114.6,385.8Z" fill="none"/>
<path d="M130.1,376L132.7,377.9L130,381.1L127.5,379.2Z" fill="#4fff00" stroke="#4fff00" stroke-opacity="1" stroke-width=".3"/>
<path d="M127.5,379.2L130,381.1L127.4,384.5L124.9,382.5Z" fill="#2eff00" stroke="#2eff00" stroke-opacity="1" stroke-width=".3"/>
<path d="M132.7,377.9L135.2,379.9L132.6,383.1L130,381.1Z" fill="#3fff00" stroke="#3fff00" stroke-opacity="1" stroke-width=".3"/>
<path d="M130,381.1L132.6,383.1L130,386.5L127.4,384.5Z" fill="#1eff00" stroke="#1eff00" stroke-opacity="1" stroke-width=".3"/>
<path d="M130.1,376L135.2,379.9L130,386.5L124.9,382.5Z" fill="none"/>
<path d="M140.4,373.8L143,375.8L140.4,378.8L137.8,376.7Z" fill="#6dff00" stroke="#6dff00" stroke-opacity="1" stroke-width=".3"/>
<path d="M143,375.8L145.6,377.8L143,380.8L140.4,378.8Z" fill="#5dff00" stroke="#5dff00" stroke-opacity="1" stroke-width=".3"/>
<path d="M137.8,376.7L140.4,378.8L137.8,381.9L135.2,379.9Z" fill="#4fff00" stroke="#4fff00" stroke-opacity="1" stroke-width=".3"/>
<path d="M140.4,378.8L143,380.8L140.4,384L137.8,381.9Z" fill="#3fff00" stroke="#3fff00" stroke-opacity="1" stroke-width=".3"/>
<path d="M140.4,373.8L145.6,377.8L140.4,384L135.2,379.9Z" fill="none"/>
<path d="M150.8,372.3L153.4,374.3L150.8,377L148.2,375Z" fill="#84ff00" stroke="#84ff00" stroke-opacity="1" stroke-width=".3"/>
<path d="M153.4,374.3L156,376.4L153.4,379.2L150.8,377Z" fill="#72ff00" stroke="#72ff00" stroke-opacity="1" stroke-width=".3"/>
<path d="M148.2,375L150.8,377L148.2,379.9L145.6,377.8Z" fill="#68ff00" stroke="#68ff00" stroke-opacity="1" stroke-width=".3"/>
<path d="M150.8,377L153.4,379.2L150.9,382.1L148.2,379.9Z" fill="#57ff00" stroke="#57ff00" stroke-opacity="1" stroke-width=".3"/>
<path d="M150.8,372.3L156,376.4L150.9,382.1L145.6,377.8Z" fill="none"/>
<path d="M161.1,371.4L166.4,375.7L161.3,380.9L156,376.4Z" fill="#7cff00"/>
<path d="M171.5,371.1L176.8,375.5L171.8,380.2L166.4,375.7Z" fill="#83ff00"/>
<path d="M181.8,371.5L187.2,376L182.2,380.2L176.8,375.5Z" fill="#80ff00"/>
<path d="M104.3,389.7L106.8,391.6L104.2,395.6L101.7,393.7Z" fill="#00ff5a" stroke="#00ff5a" stroke-opacity="1" stroke-width=".3"/>
<path d="M106.8,391.6L109.3,393.5L106.7,397.6L104.2,395.6Z" fill="#00ff68" stroke="#00ff68" stroke-opacity="1" stroke-width=".3"/>
<path d="M101.7,393.7L104.2,395.6L101.5,399.8L99.1,397.9Z" fill="#00ff86" stroke="#00ff86" stroke-opacity="1" stroke-width=".3"/>
<path d="M104.2,395.6L106.7,397.6L104,401.8L101.5,399.8Z" fill="#00ff96" stroke="#00ff96" stroke-opacity="1" stroke-width=".3"/>
<path d="M104.3,389.7L109.3,393.5L104,401.8L99.1,397.9Z" fill="none"/>
<path d="M124.9,382.5L127.4,384.5L124.8,388L122.3,386Z" fill="#0bff00" stroke="#0bff00" stroke-opacity="1" stroke-width=".3"/>
<path d="M127.4,384.5L130,386.5L127.4,390.1L124.8,388Z" fill="#00ff05" stroke="#00ff05" stroke-opacity="1" stroke-width=".3"/>
<path d="M122.3,386L124.8,388L122.2,391.8L119.6,389.7Z" fill="#00ff1b" stroke="#00ff1b" stroke-opacity="1" stroke-width=".3"/>
<path d="M124.8,388L127.4,390.1L124.7,393.9L122.2,391.8Z" fill="#00ff2b" stroke="#00ff2b" stroke-opacity="1" stroke-width=".3"/>
<path d="M124.9,382.5L130,386.5L124.7,393.9L119.6,389.7Z" fill="none"/>
<path d="M156,376.4L158.7,378.6L156.1,381.4L153.4,379.2Z" fill="#60ff00" stroke="#60ff00" stroke-opacity="1" stroke-width=".3"/>
<path d="M158.7,378.6L161.3,380.9L158.7,383.7L156.1,381.4Z" fill="#4dff00" stroke="#4dff00" stroke-opacity="1" stroke-width=".3"/>
<path d="M153.4,379.2L156.1,381.4L153.5,384.4L150.9,382.1Z" fill="#45ff00" stroke="#45ff00" stroke-opacity="1" stroke-width=".3"/>
<path d="M156.1,381.4L158.7,383.7L156.2,386.7L153.5,384.4Z" fill="#32ff00" stroke="#32ff00" stroke-opacity="1" stroke-width=".3"/>
<path d="M156,376.4L161.3,380.9L156.2,386.7L150.9,382.1Z" fill="none"/>
<path d="M176.8,375.5L182.2,380.2L177.2,385.1L171.8,380.2Z" fill="#5aff00"/>
<path d="M114.6,385.8L117.1,387.7L114.5,391.5L111.9,389.6Z" fill="#00ff23" stroke="#00ff23" stroke-opacity="1" stroke-width=".3"/>
<path d="M117.1,387.7L119.6,389.7L117,393.5L114.5,391.5Z" fill="#00ff32" stroke="#00ff32" stroke-opacity="1" stroke-width=".3"/>
<path d="M111.9,389.6L114.5,391.5L111.8,395.5L109.3,393.5Z" fill="#00ff4c" stroke="#00ff4c" stroke-opacity="1" stroke-width=".3"/>
<path d="M114.5,391.5L117,393.5L114.3,397.5L111.8,395.5Z" fill="#00ff5b" stroke="#00ff5b" stroke-opacity="1" stroke-width=".3"/>
<path d="M114.6,385.8L119.6,389.7L114.3,397.5L109.3,393.5Z" fill="none"/>
<path d="M135.2,379.9L137.8,381.9L135.2,385.2L132.6,383.1Z" fill="#2fff00" stroke="#2fff00" stroke-opacity="1" stroke-width=".3"/>
<path d="M132.6,383.1L135.2,385.2L132.6,388.7L130,386.5Z" fill="#0eff00" stroke="#0eff00" stroke-opacity="1" stroke-width=".3"/>
<path d="M137.8,381.9L140.4,384L137.8,387.4L135.2,385.2Z" fill="#1fff00" stroke="#1fff00" stroke-opacity="1" stroke-width=".3"/>
<path d="M135.2,385.2L137.8,387.4L135.2,390.9L132.6,388.7Z" fill="#00ff03" stroke="#00ff03" stroke-opacity="1" stroke-width=".3"/>
<path d="M135.2,379.9L140.4,384L135.2,390.9L130,386.5Z" fill="none"/>
<path d="M145.6,377.8L148.2,379.9L145.6,383L143,380.8Z" fill="#4cff00" stroke="#4cff00" stroke-opacity="1" stroke-width=".3"/>
<path d="M148.2,379.9L150.9,382.1L148.3,385.2L145.6,383Z" fill="#3aff00" stroke="#3aff00" stroke-opacity="1" stroke-width=".3"/>
<path d="M143,380.8L145.6,383L143,386.2L140.4,384Z" fill="#2eff00" stroke="#2eff00" stroke-opacity="1" stroke-width=".3"/>
<path d="M145.6,383L148.3,385.2L145.7,388.5L143,386.2Z" fill="#1cff00" stroke="#1cff00" stroke-opacity="1" stroke-width=".3"/>
<path d="M145.6,377.8L150.9,382.1L145.7,388.5L140.4,384Z" fill="none"/>
<path d="M166.4,375.7L169.1,377.9L166.5,380.5L163.9,378.2Z" fill="#6bff00" stroke="#6bff00" stroke-opacity="1" stroke-width=".3"/>
<path d="M169.1,377.9L171.8,380.2L169.2,382.8L166.5,380.5Z" fill="#58ff00" stroke="#58ff00" stroke-opacity="1" stroke-width=".3"/>
<path d="M163.9,378.2L166.5,380.5L164,383.2L161.3,380.9Z" fill="#54ff00" stroke="#54ff00" stroke-opacity="1" stroke-width=".3"/>
<path d="M166.5,380.5L169.2,382.8L166.7,385.6L164,383.2Z" fill="#40ff00" stroke="#40ff00" stroke-opacity="1" stroke-width=".3"/>
<path d="M166.4,375.7L171.8,380.2L166.7,385.6L161.3,380.9Z" fill="none"/>
<path d="M109.3,393.5L111.8,395.5L109.2,399.6L106.7,397.6Z" fill="#00ff77" stroke="#00ff77" stroke-opacity="1" stroke-width=".3"/>
<path d="M111.8,395.5L114.3,397.5L111.7,401.7L109.2,399.6Z" fill="#00ff86" stroke="#00ff86" stroke-opacity="1" stroke-width=".3"/>
<path d="M106.7,397.6L109.2,399.6L106.5,403.9L104,401.8Z" fill="#00ffa8" stroke="#00ffa8" stroke-opacity="1" stroke-width=".3"/>
<path d="M109.2,399.6L111.7,401.7L109,406L106.5,403.9Z" fill="#00ffbb" stroke="#00ffbb" stroke-opacity="1" stroke-width=".3"/>
<path d="M109.3,393.5L114.3,397.5L109,406L104,401.8Z" fill="none"/>
<path d="M119.6,389.7L122.2,391.8L119.5,395.6L117,393.5Z" fill="#00ff42" stroke="#00ff42" stroke-opacity="1" stroke-width=".3"/>
<path d="M122.2,391.8L124.7,393.9L122.1,397.8L119.5,395.6Z" fill="#00ff52" stroke="#00ff52" stroke-opacity="1" stroke-width=".3"/>
<path d="M117,393.5L119.5,395.6L116.9,399.7L114.3,397.5Z" fill="#00ff6b" stroke="#00ff6b" stroke-opacity="1" stroke-width=".3"/>
<path d="M119.5,395.6L122.1,397.8L119.4,401.9L116.9,399.7Z" fill="#00ff7c" stroke="#00ff7c" stroke-opacity="1" stroke-width=".3"/>
<path d="M119.6,389.7L124.7,393.9L119.4,401.9L114.3,397.5Z" fill="none"/>
<path d="M130,386.5L132.6,388.7L130,392.3L127.4,390.1Z" fill="#00ff16" stroke="#00ff16" stroke-opacity="1" stroke-width=".3"/>
<path d="M132.6,388.7L135.2,390.9L132.5,394.5L130,392.3Z" fill="#00ff27" stroke="#00ff27" stroke-opacity="1" stroke-width=".3"/>
<path d="M127.4,390.1L130,392.3L127.3,396.1L124.7,393.9Z" fill="#00ff3c" stroke="#00ff3c" stroke-opacity="1" stroke-width=".3"/>
<path d="M130,392.3L132.5,394.5L129.9,398.3L127.3,396.1Z" fill="#00ff4e" stroke="#00ff4e" stroke-opacity="1" stroke-width=".3"/>
<path d="M130,386.5L135.2,390.9L129.9,398.3L124.7,393.9Z" fill="none"/>
<path d="M150.9,382.1L153.5,384.4L150.9,387.5L148.3,385.2Z" fill="#28ff00" stroke="#28ff00" stroke-opacity="1" stroke-width=".3"/>
<path d="M153.5,384.4L156.2,386.7L153.6,389.9L150.9,387.5Z" fill="#15ff00" stroke="#15ff00" stroke-opacity="1" stroke-width=".3"/>
<path d="M148.3,385.2L150.9,387.5L148.3,390.8L145.7,388.5Z" fill="#09ff00" stroke="#09ff00" stroke-opacity="1" stroke-width=".3"/>
<path d="M150.9,387.5L153.6,389.9L151,393.2L148.3,390.8Z" fill="#00ff0b" stroke="#00ff0b" stroke-opacity="1" stroke-width=".3"/>
<path d="M150.9,382.1L156.2,386.7L151,393.2L145.7,388.5Z" fill="none"/>
<path d="M161.3,380.9L164,383.2L161.4,386.1L158.7,383.7Z" fill="#3aff00" stroke="#3aff00" stroke-opacity="1" stroke-width=".3"/>
<path d="M164,383.2L166.7,385.6L164.1,388.5L161.4,386.1Z" fill="#26ff00" stroke="#26ff00" stroke-opacity="1" stroke-width=".3"/>
<path d="M158.7,383.7L161.4,386.1L158.8,389.1L156.2,386.7Z" fill="#1eff00" stroke="#1eff00" stroke-opacity="1" stroke-width=".3"/>
<path d="M161.4,386.1L164.1,388.5L161.5,391.6L158.8,389.1Z" fill="#0aff00" stroke="#0aff00" stroke-opacity="1" stroke-width=".3"/>
<path d="M161.3,380.9L166.7,385.6L161.5,391.6L156.2,386.7Z" fill="none"/>
<path d="M171.8,380.2L174.5,382.6L171.9,385.3L169.2,382.8Z" fill="#43ff00" stroke="#43ff00" stroke-opacity="1" stroke-width=".3"/>
<path d="M174.5,382.6L177.2,385.1L174.6,387.8L171.9,385.3Z" fill="#2eff00" stroke="#2eff00" stroke-opacity="1" stroke-width=".3"/>
<path d="M169.2,382.8L171.9,385.3L169.4,388L166.7,385.6Z" fill="#2bff00" stroke="#2bff00" stroke-opacity="1" stroke-width=".3"/>
<path d="M171.9,385.3L174.6,387.8L172.1,390.6L169.4,388Z" fill="#16ff00" stroke="#16ff00" stroke-opacity="1" stroke-width=".3"/>
<path d="M171.8,380.2L177.2,385.1L172.1,390.6L166.7,385.6Z" fill="none"/>
<path d="M140.4,384L143,386.2L140.4,389.6L137.8,387.4Z" fill="#0dff00" stroke="#0dff00" stroke-opacity="1" stroke-width=".3"/>
<path d="M143,386.2L145.7,388.5L143,391.9L140.4,389.6Z" fill="#00ff05" stroke="#00ff05" stroke-opacity="1" stroke-width=".3"/>
<path d="M137.8,387.4L140.4,389.6L137.8,393.1L135.2,390.9Z" fill="#00ff15" stroke="#00ff15" stroke-opacity="1" stroke-width=".3"/>
<path d="M140.4,389.6L143,391.9L140.4,395.5L137.8,393.1Z" fill="#00ff28" stroke="#00ff28" stroke-opacity="1" stroke-width=".3"/>
<path d="M140.4,384L145.7,388.5L140.4,395.5L135.2,390.9Z" fill="none"/>
<path d="M114.3,397.5L116.9,399.7L114.2,403.9L111.7,401.7Z" fill="#00ff99" stroke="#00ff99" stroke-opacity="1" stroke-width=".3"/>
<path d="M116.9,399.7L119.4,401.9L116.8,406.1L114.2,403.9Z" fill="#00ffad" stroke="#00ffad" stroke-opacity="1" stroke-width=".3"/>
<path d="M111.7,401.7L114.2,403.9L111.6,408.2L109,406Z" fill="#00ffcf" stroke="#00ffcf" stroke-opacity="1" stroke-width=".3"/>
<path d="M114.2,403.9L116.8,406.1L114.1,410.5L111.6,408.2Z" fill="#00ffe4" stroke="#00ffe4" stroke-opacity="1" stroke-width=".3"/>
<path d="M114.3,397.5L119.4,401.9L114.1,410.5L109,406Z" fill="none"/>
<path d="M166.7,385.6L169.4,388L166.8,391L164.1,388.5Z" fill="#11ff00" stroke="#11ff00" stroke-opacity="1" stroke-width=".3"/>
<path d="M169.4,388L172.1,390.6L169.5,393.6L166.8,391Z" fill="#00ff05" stroke="#00ff05" stroke-opacity="1" stroke-width=".3"/>
<path d="M164.1,388.5L166.8,391L164.2,394.1L161.5,391.6Z" fill="#00ff0b" stroke="#00ff0b" stroke-opacity="1" stroke-width=".3"/>
<path d="M166.8,391L169.5,393.6L166.9,396.7L164.2,394.1Z" fill="#00ff21" stroke="#00ff21" stroke-opacity="1" stroke-width=".3"/>
<path d="M166.7,385.6L172.1,390.6L166.9,396.7L161.5,391.6Z" fill="none"/>
<path d="M124.7,393.9L127.3,396.1L124.7,400L122.1,397.8Z" fill="#00ff64" stroke="#00ff64" stroke-opacity="1" stroke-width=".3"/>
<path d="M127.3,396.1L129.9,398.3L127.3,402.3L124.7,400Z" fill="#00ff76" stroke="#00ff76" stroke-opacity="1" stroke-width=".3"/>
<path d="M122.1,397.8L124.7,400L122,404.1L119.4,401.9Z" fill="#00ff8e" stroke="#00ff8e" stroke-opacity="1" stroke-width=".3"/>
<path d="M124.7,400L127.3,402.3L124.6,406.5L122,404.1Z" fill="#00ffa4" stroke="#00ffa4" stroke-opacity="1" stroke-width=".3"/>
<path d="M124.7,393.9L129.9,398.3L124.6,406.5L119.4,401.9Z" fill="none"/>
<path d="M135.2,390.9L137.8,393.1L135.2,396.8L132.5,394.5Z" fill="#00ff3a" stroke="#00ff3a" stroke-opacity="1" stroke-width=".3"/>
<path d="M137.8,393.1L140.4,395.5L137.8,399.2L135.2,396.8Z" fill="#00ff4d" stroke="#00ff4d" stroke-opacity="1" stroke-width=".3"/>
<path d="M132.5,394.5L135.2,396.8L132.5,400.7L129.9,398.3Z" fill="#00ff60" stroke="#00ff60" stroke-opacity="1" stroke-width=".3"/>
<path d="M135.2,396.8L137.8,399.2L135.1,403.1L132.5,400.7Z" fill="#00ff74" stroke="#00ff74" stroke-opacity="1" stroke-width=".3"/>
<path d="M135.2,390.9L140.4,395.5L135.1,403.1L129.9,398.3Z" fill="none"/>
<path d="M145.7,388.5L148.3,390.8L145.7,394.2L143,391.9Z" fill="#00ff18" stroke="#00ff18" stroke-opacity="1" stroke-width=".3"/>
<path d="M148.3,390.8L151,393.2L148.3,396.7L145.7,394.2Z" fill="#00ff2c" stroke="#00ff2c" stroke-opacity="1" stroke-width=".3"/>
<path d="M143,391.9L145.7,394.2L143.1,397.9L140.4,395.5Z" fill="#00ff3b" stroke="#00ff3b" stroke-opacity="1" stroke-width=".3"/>
<path d="M145.7,394.2L148.3,396.7L145.7,400.3L143.1,397.9Z" fill="#00ff50" stroke="#00ff50" stroke-opacity="1" stroke-width=".3"/>
<path d="M145.7,388.5L151,393.2L145.7,400.3L140.4,395.5Z" fill="none"/>
<path d="M156.2,386.7L158.8,389.1L156.2,392.3L153.6,389.9Z" fill="#01ff00" stroke="#01ff00" stroke-opacity="1" stroke-width=".3"/>
<path d="M158.8,389.1L161.5,391.6L158.9,394.8L156.2,392.3Z" fill="#00ff14" stroke="#00ff14" stroke-opacity="1" stroke-width=".3"/>
<path d="M153.6,389.9L156.2,392.3L153.6,395.7L151,393.2Z" fill="#00ff1f" stroke="#00ff1f" stroke-opacity="1" stroke-width=".3"/>
<path d="M156.2,392.3L158.9,394.8L156.3,398.2L153.6,395.7Z" fill="#00ff34" stroke="#00ff34" stroke-opacity="1" stroke-width=".3"/>
<path d="M156.2,386.7L161.5,391.6L156.3,398.2L151,393.2Z" fill="none"/>
<path d="M119.4,401.9L122,404.1L119.4,408.4L116.8,406.1Z" fill="#00ffc3" stroke="#00ffc3" stroke-opacity="1" stroke-width=".3"/>
<path d="M122,404.1L124.6,406.5L121.9,410.8L119.4,408.4Z" fill="#00ffd9" stroke="#00ffd9" stroke-opacity="1" stroke-width=".3"/>
<path d="M116.8,406.1L119.4,408.4L116.7,412.8L114.1,410.5Z" fill="#00fffa" stroke="#00fffa" stroke-opacity="1" stroke-width=".3"/>
<path d="M119.4,408.4L121.9,410.8L119.3,415.2L116.7,412.8Z" fill="#00edff" stroke="#00edff" stroke-opacity="1" stroke-width=".3"/>
<path d="M119.4,401.9L124.6,406.5L119.3,415.2L114.1,410.5Z" fill="none"/>
<path d="M140.4,395.5L143.1,397.9L140.4,401.6L137.8,399.2Z" fill="#00ff60" stroke="#00ff60" stroke-opacity="1" stroke-width=".3"/>
<path d="M143.1,397.9L145.7,400.3L143.1,404.1L140.4,401.6Z" fill="#00ff75" stroke="#00ff75" stroke-opacity="1" stroke-width=".3"/>
<path d="M137.8,399.2L140.4,401.6L137.8,405.6L135.1,403.1Z" fill="#00ff88" stroke="#00ff88" stroke-opacity="1" stroke-width=".3"/>
<path d="M140.4,401.6L143.1,404.1L140.4,408.1L137.8,405.6Z" fill="#00ffa0" stroke="#00ffa0" stroke-opacity="1" stroke-width=".3"/>
<path d="M140.4,395.5L145.7,400.3L140.4,408.1L135.1,403.1Z" fill="none"/>
<path d="M161.5,391.6L164.2,394.1L161.6,397.4L158.9,394.8Z" fill="#00ff2a" stroke="#00ff2a" stroke-opacity="1" stroke-width=".3"/>
<path d="M164.2,394.1L166.9,396.7L164.3,400L161.6,397.4Z" fill="#00ff40" stroke="#00ff40" stroke-opacity="1" stroke-width=".3"/>
<path d="M158.9,394.8L161.6,397.4L159,400.8L156.3,398.2Z" fill="#00ff4a" stroke="#00ff4a" stroke-opacity="1" stroke-width=".3"/>
<path d="M161.6,397.4L164.3,400L161.7,403.5L159,400.8Z" fill="#00ff61" stroke="#00ff61" stroke-opacity="1" stroke-width=".3"/>
<path d="M161.5,391.6L166.9,396.7L161.7,403.5L156.3,398.2Z" fill="none"/>
<path d="M129.9,398.3L132.5,400.7L129.9,404.7L127.3,402.3Z" fill="#00ff89" stroke="#00ff89" stroke-opacity="1" stroke-width=".3"/>
<path d="M132.5,400.7L135.1,403.1L132.5,407.1L129.9,404.7Z" fill="#00ffa0" stroke="#00ffa0" stroke-opacity="1" stroke-width=".3"/>
<path d="M127.3,402.3L129.9,404.7L127.2,408.9L124.6,406.5Z" fill="#00ffbb" stroke="#00ffbb" stroke-opacity="1" stroke-width=".3"/>
<path d="M129.9,404.7L132.5,407.1L129.8,411.4L127.2,408.9Z" fill="#00ffd3" stroke="#00ffd3" stroke-opacity="1" stroke-width=".3"/>
<path d="M129.9,398.3L135.1,403.1L129.8,411.4L124.6,406.5Z" fill="none"/>
<path d="M151,393.2L153.6,395.7L151,399.2L148.3,396.7Z" fill="#00ff41" stroke="#00ff41" stroke-opacity="1" stroke-width=".3"/>
<path d="M153.6,395.7L156.3,398.2L153.7,401.8L151,399.2Z" fill="#00ff56" stroke="#00ff56" stroke-opacity="1" stroke-width=".3"/>
<path d="M148.3,396.7L151,399.2L148.4,402.9L145.7,400.3Z" fill="#00ff65" stroke="#00ff65" stroke-opacity="1" stroke-width=".3"/>
<path d="M151,399.2L153.7,401.8L151,405.5L148.4,402.9Z" fill="#00ff7b" stroke="#00ff7b" stroke-opacity="1" stroke-width=".3"/>
<path d="M151,393.2L156.3,398.2L151,405.5L145.7,400.3Z" fill="none"/>
<path d="M124.6,406.5L127.2,408.9L124.5,413.2L121.9,410.8Z" fill="#00fff1" stroke="#00fff1" stroke-opacity="1" stroke-width=".3"/>
<path d="M127.2,408.9L129.8,411.4L127.2,415.7L124.5,413.2Z" fill="#00f5ff" stroke="#00f5ff" stroke-opacity="1" stroke-width=".3"/>
<path d="M121.9,410.8L124.5,413.2L121.9,417.7L119.3,415.2Z" fill="#00d5ff" stroke="#00d5ff" stroke-opacity="1" stroke-width=".3"/>
<path d="M124.5,413.2L127.2,415.7L124.5,420.3L121.9,417.7Z" fill="#00bcff" stroke="#00bcff" stroke-opacity="1" stroke-width=".3"/>
<path d="M124.6,406.5L129.8,411.4L124.5,420.3L119.3,415.2Z" fill="none"/>
<path d="M135.1,403.1L137.8,405.6L135.1,409.7L132.5,407.1Z" fill="#00ffb8" stroke="#00ffb8" stroke-opacity="1" stroke-width=".3"/>
<path d="M132.5,407.1L135.1,409.7L132.5,413.9L129.8,411.4Z" fill="#00ffec" stroke="#00ffec" stroke-opacity="1" stroke-width=".3"/>
<path d="M137.8,405.6L140.4,408.1L137.8,412.2L135.1,409.7Z" fill="#00ffd2" stroke="#00ffd2" stroke-opacity="1" stroke-width=".3"/>
<path d="M135.1,409.7L137.8,412.2L135.1,416.5L132.5,413.9Z" fill="#00f8ff" stroke="#00f8ff" stroke-opacity="1" stroke-width=".3"/>
<path d="M135.1,403.1L140.4,408.1L135.1,416.5L129.8,411.4Z" fill="none"/>
<path d="M145.7,400.3L148.4,402.9L145.7,406.7L143.1,404.1Z" fill="#00ff8a" stroke="#00ff8a" stroke-opacity="1" stroke-width=".3"/>
<path d="M148.4,402.9L151,405.5L148.4,409.4L145.7,406.7Z" fill="#00ffa5" stroke="#00ffa5" stroke-opacity="1" stroke-width=".3"/>
<path d="M143.1,404.1L145.7,406.7L143.1,410.7L140.4,408.1Z" fill="#00ffba" stroke="#00ffba" stroke-opacity="1" stroke-width=".3"/>
<path d="M145.7,406.7L148.4,409.4L145.7,413.4L143.1,410.7Z" fill="#00ffd5" stroke="#00ffd5" stroke-opacity="1" stroke-width=".3"/>
<path d="M145.7,400.3L151,405.5L145.7,413.4L140.4,408.1Z" fill="none"/>
<path d="M156.3,398.2L159,400.8L156.4,404.4L153.7,401.8Z" fill="#00ff6d" stroke="#00ff6d" stroke-opacity="1" stroke-width=".3"/>
<path d="M153.7,401.8L156.4,404.4L153.7,408.2L151,405.5Z" fill="#00ff92" stroke="#00ff92" stroke-opacity="1" stroke-width=".3"/>
<path d="M159,400.8L161.7,403.5L159.1,407.1L156.4,404.4Z" fill="#00ff84" stroke="#00ff84" stroke-opacity="1" stroke-width=".3"/>
<path d="M156.4,404.4L159.1,407.1L156.4,410.9L153.7,408.2Z" fill="#00ffaf" stroke="#00ffaf" stroke-opacity="1" stroke-width=".3"/>
<path d="M156.3,398.2L161.7,403.5L156.4,410.9L151,405.5Z" fill="none"/>
<path d="M129.8,411.4L132.5,413.9L129.8,418.3L127.2,415.7Z" fill="#00dbff" stroke="#00dbff" stroke-opacity="1" stroke-width=".3"/>
<path d="M132.5,413.9L135.1,416.5L132.4,421L129.8,418.3Z" fill="#00c1ff" stroke="#00c1ff" stroke-opacity="1" stroke-width=".3"/>
<path d="M127.2,415.7L129.8,418.3L127.1,422.9L124.5,420.3Z" fill="#00a2ff" stroke="#00a2ff" stroke-opacity="1" stroke-width=".3"/>
<path d="M129.8,418.3L132.4,421L129.7,425.6L127.1,422.9Z" fill="#0088ff" stroke="#0088ff" stroke-opacity="1" stroke-width=".3"/>
<path d="M129.8,411.4L135.1,416.5L129.7,425.6L124.5,420.3Z" fill="none"/>
<path d="M151,405.5L153.7,408.2L151.1,412.1L148.4,409.4Z" fill="#00ffc1" stroke="#00ffc1" stroke-opacity="1" stroke-width=".3"/>
<path d="M153.7,408.2L156.4,410.9L153.8,414.9L151.1,412.1Z" fill="#00ffdd" stroke="#00ffdd" stroke-opacity="1" stroke-width=".3"/>
<path d="M148.4,409.4L151.1,412.1L148.4,416.2L145.7,413.4Z" fill="#00fff1" stroke="#00fff1" stroke-opacity="1" stroke-width=".3"/>
<path d="M151.1,412.1L153.8,414.9L151.1,419L148.4,416.2Z" fill="#00f0ff" stroke="#00f0ff" stroke-opacity="1" stroke-width=".3"/>
<path d="M151,405.5L156.4,410.9L151.1,419L145.7,413.4Z" fill="none"/>
<path d="M140.4,408.1L143.1,410.7L140.4,414.9L137.8,412.2Z" fill="#00ffec" stroke="#00ffec" stroke-opacity="1" stroke-width=".3"/>
<path d="M143.1,410.7L145.7,413.4L143.1,417.6L140.4,414.9Z" fill="#00f6ff" stroke="#00f6ff" stroke-opacity="1" stroke-width=".3"/>
<path d="M137.8,412.2L140.4,414.9L137.7,419.2L135.1,416.5Z" fill="#00ddff" stroke="#00ddff" stroke-opacity="1" stroke-width=".3"/>
<path d="M140.4,414.9L143.1,417.6L140.4,422L137.7,419.2Z" fill="#00c1ff" stroke="#00c1ff" stroke-opacity="1" stroke-width=".3"/>
<path d="M140.4,408.1L145.7,413.4L140.4,422L135.1,416.5Z" fill="none"/>
<path d="M135.1,416.5L137.7,419.2L135.1,423.7L132.4,421Z" fill="#00a5ff" stroke="#00a5ff" stroke-opacity="1" stroke-width=".3"/>
<path d="M137.7,419.2L140.4,422L137.7,426.5L135.1,423.7Z" fill="#0089ff" stroke="#0089ff" stroke-opacity="1" stroke-width=".3"/>
<path d="M132.4,421L135.1,423.7L132.4,428.4L129.7,425.6Z" fill="#006cff" stroke="#006cff" stroke-opacity="1" stroke-width=".3"/>
<path d="M135.1,423.7L137.7,426.5L135.1,431.2L132.4,428.4Z" fill="#004fff" stroke="#004fff" stroke-opacity="1" stroke-width=".3"/>
<path d="M135.1,416.5L140.4,422L135.1,431.2L129.7,425.6Z" fill="none"/>
<path d="M145.7,413.4L148.4,416.2L145.8,420.4L143.1,417.6Z" fill="#00daff" stroke="#00daff" stroke-opacity="1" stroke-width=".3"/>
<path d="M148.4,416.2L151.1,419L148.5,423.3L145.8,420.4Z" fill="#00bcff" stroke="#00bcff" stroke-opacity="1" stroke-width=".3"/>
<path d="M143.1,417.6L145.8,420.4L143.1,424.8L140.4,422Z" fill="#00a4ff" stroke="#00a4ff" stroke-opacity="1" stroke-width=".3"/>
<path d="M145.8,420.4L148.5,423.3L145.8,427.7L143.1,424.8Z" fill="#0086ff" stroke="#0086ff" stroke-opacity="1" stroke-width=".3"/>
<path d="M145.7,413.4L151.1,419L145.8,427.7L140.4,422Z" fill="none"/>
<path d="M140.4,422L143.1,424.8L140.4,429.4L137.7,426.5Z" fill="#006cff" stroke="#006cff" stroke-opacity="1" stroke-width=".3"/>
<path d="M143.1,424.8L145.8,427.7L143.1,432.3L140.4,429.4Z" fill="#004eff" stroke="#004eff" stroke-opacity="1" stroke-width=".3"/>
<path d="M137.7,426.5L140.4,429.4L137.7,434.1L135.1,431.2Z" fill="#0032ff" stroke="#0032ff" stroke-opacity="1" stroke-width=".3"/>
<path d="M140.4,429.4L143.1,432.3L140.4,437.1L137.7,434.1Z" fill="#0013ff" stroke="#0013ff" stroke-opacity="1" stroke-width=".3"/>
<path d="M140.4,422L145.8,427.7L140.4,437.1L135.1,431.2Z" fill="none"/>
</g>
<circle cx="44.65" cy="373.58" r="1.9" fill="#f7c8cc" stroke="#8a1a20" stroke-width=".35"/>
<circle cx="140.42" cy="439.05" r="1.9" fill="#c20c16" stroke="#8a1a20" stroke-width=".35"/>
<circle cx="236.49" cy="368.32" r="1.9" fill="#c20c16" stroke="#8a1a20" stroke-width=".35"/>
<circle cx="140.42" cy="330.98" r="1.9" fill="#c20c16" stroke="#8a1a20" stroke-width=".35"/>
<circle cx="140.42" cy="335.54" r="1.9" fill="#c20c16" stroke="#8a1a20" stroke-width=".35"/>
<rect x="46.03" y="408.27" width="1.4" height="1.4" fill="#111"/>
<text x="42.93" y="407.27" font-size="7.5600000000000005" text-anchor="end" font-weight="normal" fill="#222" textLength="3.36" lengthAdjust="spacingAndGlyphs">2</text>
<rect x="45" y="390.77" width="1.4" height="1.4" fill="#111"/>
<text x="41.9" y="389.77" font-size="7.5600000000000005" text-anchor="end" font-weight="normal" fill="#222" textLength="8.41" lengthAdjust="spacingAndGlyphs">2.2</text>
<rect x="43.95" y="372.88" width="1.4" height="1.4" fill="#111"/>
<text x="40.85" y="371.88" font-size="7.5600000000000005" text-anchor="end" font-weight="normal" fill="#222" textLength="8.41" lengthAdjust="spacingAndGlyphs">2.4</text>
<rect x="42.87" y="354.59" width="1.4" height="1.4" fill="#111"/>
<text x="39.77" y="353.59" font-size="7.5600000000000005" text-anchor="end" font-weight="normal" fill="#222" textLength="8.41" lengthAdjust="spacingAndGlyphs">2.6</text>
<rect x="41.77" y="335.88" width="1.4" height="1.4" fill="#111"/>
<text x="38.67" y="334.88" font-size="7.5600000000000005" text-anchor="end" font-weight="normal" fill="#222" textLength="8.41" lengthAdjust="spacingAndGlyphs">2.8</text>
<rect x="40.64" y="316.74" width="1.4" height="1.4" fill="#111"/>
<text x="37.54" y="315.74" font-size="7.5600000000000005" text-anchor="end" font-weight="normal" fill="#222" textLength="3.36" lengthAdjust="spacingAndGlyphs">3</text>
<rect x="47.81" y="438.41" width="1.4" height="1.4" fill="#111"/>
<text x="43.51" y="446.71" font-size="7.5600000000000005" text-anchor="end" font-weight="normal" fill="#222" textLength="11.77" lengthAdjust="spacingAndGlyphs">0.25</text>
<rect x="70.78" y="448.95" width="1.4" height="1.4" fill="#111"/>
<text x="66.48" y="457.25" font-size="7.5600000000000005" text-anchor="end" font-weight="normal" fill="#222" textLength="8.41" lengthAdjust="spacingAndGlyphs">0.2</text>
<rect x="93.76" y="459.5" width="1.4" height="1.4" fill="#111"/>
<text x="89.46" y="467.8" font-size="7.5600000000000005" text-anchor="end" font-weight="normal" fill="#222" textLength="11.77" lengthAdjust="spacingAndGlyphs">0.15</text>
<rect x="116.74" y="470.04" width="1.4" height="1.4" fill="#111"/>
<text x="112.44" y="478.34" font-size="7.5600000000000005" text-anchor="end" font-weight="normal" fill="#222" textLength="8.41" lengthAdjust="spacingAndGlyphs">0.1</text>
<rect x="139.72" y="480.59" width="1.4" height="1.4" fill="#111"/>
<text x="135.42" y="488.89" font-size="7.5600000000000005" text-anchor="end" font-weight="normal" fill="#222" textLength="11.77" lengthAdjust="spacingAndGlyphs">0.05</text>
<rect x="139.72" y="480.59" width="1.4" height="1.4" fill="#111"/>
<text x="143.82" y="489.09" font-size="7.5600000000000005" text-anchor="start" font-weight="normal" fill="#222" textLength="3.36" lengthAdjust="spacingAndGlyphs">6</text>
<rect x="162.69" y="470.04" width="1.4" height="1.4" fill="#111"/>
<text x="166.79" y="478.54" font-size="7.5600000000000005" text-anchor="start" font-weight="normal" fill="#222" textLength="3.36" lengthAdjust="spacingAndGlyphs">7</text>
<rect x="185.67" y="459.5" width="1.4" height="1.4" fill="#111"/>
<text x="189.77" y="468" font-size="7.5600000000000005" text-anchor="start" font-weight="normal" fill="#222" textLength="3.36" lengthAdjust="spacingAndGlyphs">8</text>
<rect x="208.65" y="448.95" width="1.4" height="1.4" fill="#111"/>
<text x="212.75" y="457.45" font-size="7.5600000000000005" text-anchor="start" font-weight="normal" fill="#222" textLength="3.36" lengthAdjust="spacingAndGlyphs">9</text>
<rect x="231.62" y="438.41" width="1.4" height="1.4" fill="#111"/>
<text x="235.72" y="446.91" font-size="7.5600000000000005" text-anchor="start" font-weight="normal" fill="#222" textLength="6.73" lengthAdjust="spacingAndGlyphs">10</text>
<text x="22.3" y="477.6" font-size="4.9" text-anchor="start" font-weight="normal" fill="#333" textLength="72.5" lengthAdjust="spacingAndGlyphs">C: Concentration of KH2PO4 (%)</text>
<text x="170.5" y="478" font-size="4.9" text-anchor="start" font-weight="normal" fill="#333" textLength="99.5" lengthAdjust="spacingAndGlyphs">A: Concentration of glucose master liquor  (%)</text>
<text x="138" y="263.5" font-size="7.6" text-anchor="start" font-weight="normal" fill="#222" textLength="36.4" lengthAdjust="spacingAndGlyphs">3D Surface</text>
<text x="16.8" y="277.5" font-size="10" text-anchor="start" font-weight="normal" fill="#111" textLength="7.3" lengthAdjust="spacingAndGlyphs" stroke="#111" stroke-width=".25">C.</text>
<text x="24.2" y="404.4" font-size="5.2" text-anchor="start" font-weight="normal" fill="#222" transform="rotate(-90 24.2 404.4)" textLength="64" lengthAdjust="spacingAndGlyphs" stroke="#222" stroke-width=".2">Number of yeast cells (10<tspan font-size="3.4" dy="-1.8">8</tspan><tspan dy="1.8">/ml)</tspan></text>
<g><path d="M52,684.7L145.5,650.9L239.1,684.7" stroke="#666" stroke-width=".5" fill="none"/><path d="M50.8,665.4L145.5,633.3L240.3,665.4" stroke="#666" stroke-width=".5" fill="none"/><path d="M49.5,645.6L145.5,615.2L241.5,645.6" stroke="#666" stroke-width=".5" fill="none"/><path d="M48.3,625.3L145.5,596.7L242.8,625.3" stroke="#666" stroke-width=".5" fill="none"/><path d="M47,604.4L145.5,577.8L244.1,604.4" stroke="#666" stroke-width=".5" fill="none"/><path d="M45.6,583L145.5,558.4L245.4,583" stroke="#666" stroke-width=".5" fill="none"/><path d="M52,684.7L45.6,583" stroke="#666" stroke-width="0.5" fill="none"/><path d="M70.7,677.9L65.6,578.1" stroke="#666" stroke-width="0.5" fill="none"/><path d="M89.4,671.2L85.6,573.2" stroke="#666" stroke-width="0.5" fill="none"/><path d="M108.1,664.4L105.6,568.2" stroke="#666" stroke-width="0.5" fill="none"/><path d="M126.8,657.7L125.5,563.3" stroke="#666" stroke-width="0.5" fill="none"/><path d="M145.5,650.9L145.5,558.4" stroke="#666" stroke-width="0.5" fill="none"/><path d="M168.9,659.4L170.5,564.5" stroke="#666" stroke-width="0.5" fill="none"/><path d="M192.3,667.8L195.5,570.7" stroke="#666" stroke-width="0.5" fill="none"/><path d="M215.7,676.2L220.4,576.9" stroke="#666" stroke-width="0.5" fill="none"/><path d="M239.1,684.7L245.4,583" stroke="#666" stroke-width="0.5" fill="none"/><path d="M54.1,718.9L45.6,583" stroke="#444" stroke-width="0.55" fill="none"/><path d="M236.9,718.9L245.4,583" stroke="#666" stroke-width="0.5" fill="none"/></g>
<clipPath id="flE"><path d="M54.1,718.9L145.5,764.7L236.9,718.9L145.5,682.4Z"/></clipPath>
<path d="M54.1,718.9L145.5,764.7L236.9,718.9L145.5,682.4Z" fill="#626262"/>
<g clip-path="url(#flE)" fill="none" stroke-width="1.15">
<path d="M103.8,723.4L101.4,722L99.3,720.4L97.5,718.8L96.2,717.2L95.1,715.4L94.5,713.7L94.3,711.9L94.4,710.1L94.8,708.3L95.7,706.6L96.8,704.8L98.3,703.1L100.1,701.5L102.2,699.9L104.6,698.4L107.3,697L110.1,695.7L113.2,694.5L116.5,693.4L120,692.4L123.6,691.6L127.3,690.8L131.1,690.2L134.9,689.8L138.9,689.4L142.8,689.2L146.7,689.2L150.6,689.3L154.4,689.5L158.2,689.8L161.9,690.3L165.4,690.9L168.7,691.7L171.9,692.6L174.9,693.6L177.7,694.7L180.2,695.9L182.5,697.2L184.5,698.7L186.2,700.2L187.6,701.7L188.7,703.4L189.4,705.1L189.7,706.8L189.8,708.6L189.4,710.4L188.7,712.2L187.6,714L186.2,715.7L184.4,717.4L182.2,719.1L179.7,720.7L176.9,722.2L173.8,723.6L170.5,724.9L166.8,726.1L163,727.1L159,728L154.8,728.8L150.5,729.4L146.1,729.8L141.7,730L137.3,730.1L132.9,730L128.6,729.7L124.5,729.3L120.4,728.7L116.6,727.9L113,727L109.7,725.9L106.6,724.7L103.8,723.4Z" stroke="#d9971c"/>
<path d="M85.2,730.6L81.7,728.5L78.7,726.2L76.3,723.8L74.4,721.3L73,718.7L72.3,716.1L72.1,713.5L72.4,710.9L73.2,708.3L74.6,705.7L76.4,703.2L78.7,700.8L81.5,698.4L84.6,696.2L88.2,694.1L92.1,692.1L96.3,690.2L100.8,688.5L105.5,687L110.5,685.6L115.6,684.4L120.9,683.4L126.3,682.6L131.9,681.9L137.4,681.4L143,681.2L148.6,681.1L154.1,681.2L159.6,681.5L164.9,682L170.1,682.7L175.1,683.5L180,684.6L184.6,685.8L188.9,687.2L192.9,688.8L196.7,690.5L200,692.4L203,694.4L205.5,696.5L207.7,698.8L209.3,701.1L210.5,703.6L211.2,706.1L211.4,708.7L211.1,711.3L210.2,713.9L208.7,716.5L206.8,719.1L204.3,721.7L201.2,724.1L197.7,726.5L193.6,728.8L189.1,730.9L184.2,732.9L178.9,734.7L173.2,736.3L167.2,737.7L161,738.9L154.6,739.8L148,740.4L141.4,740.8L134.8,740.9L128.3,740.7L121.9,740.3L115.6,739.6L109.6,738.7L104,737.5L98.6,736.1L93.7,734.5L89.2,732.6L85.2,730.6Z" stroke="#d9cf1c"/>
<path d="M71.5,736L67.2,733.2L63.7,730.4L60.8,727.4L58.6,724.3L57.1,721.1L56.3,717.9L56.2,714.6L56.7,711.4L57.9,708.2L59.7,705.1L62,702L65,699.1L68.4,696.3L72.4,693.6L76.7,691L81.5,688.6L86.7,686.4L92.2,684.4L97.9,682.6L103.9,680.9L110.2,679.5L116.6,678.3L123.1,677.3L129.7,676.5L136.4,676L143.1,675.7L149.8,675.6L156.5,675.7L163.1,676.1L169.5,676.6L175.8,677.4L181.8,678.5L187.7,679.7L193.3,681.2L198.5,682.8L203.5,684.7L208,686.7L212.1,689L215.8,691.4L219,694L221.7,696.7L223.9,699.5L225.5,702.5L226.5,705.6L226.8,708.7L226.5,711.9L225.6,715.1L224,718.4L221.7,721.6L218.7,724.7L215.1,727.8L210.8,730.8L205.9,733.7L200.4,736.4L194.3,738.8L187.8,741.1L180.7,743.1L173.3,744.9L165.6,746.4L157.6,747.5L149.5,748.3L141.2,748.8L133,749L124.8,748.8L116.8,748.2L109,747.3L101.6,746.1L94.5,744.6L88,742.8L81.9,740.8L76.4,738.5L71.5,736Z" stroke="#a8d91c"/>
<path d="M60.9,740.1L56.1,736.9L52.1,733.6L48.9,730.1L46.5,726.5L44.9,722.9L44.1,719.2L44.1,715.5L44.8,711.8L46.3,708.2L48.4,704.6L51.2,701.2L54.7,697.8L58.7,694.6L63.2,691.6L68.2,688.7L73.7,686.1L79.6,683.6L85.8,681.3L92.3,679.3L99.1,677.5L106.2,675.9L113.4,674.5L120.7,673.4L128.2,672.6L135.7,672L143.3,671.6L150.8,671.5L158.2,671.7L165.6,672.1L172.9,672.7L179.9,673.6L186.8,674.7L193.4,676.1L199.7,677.7L205.6,679.6L211.2,681.7L216.4,684L221.2,686.5L225.4,689.2L229.1,692.1L232.3,695.1L234.8,698.3L236.7,701.7L237.9,705.2L238.4,708.7L238.2,712.4L237.3,716.1L235.6,719.8L233.1,723.5L229.8,727.1L225.7,730.7L220.9,734.1L215.4,737.4L209.1,740.5L202.2,743.4L194.7,746.1L186.6,748.5L178.1,750.5L169.2,752.2L160,753.6L150.6,754.5L141,755.1L131.5,755.3L122.1,755L112.8,754.4L103.9,753.4L95.3,752L87.2,750.2L79.6,748.1L72.7,745.7L66.4,743L60.9,740.1Z" stroke="#6ed91c"/>
<path d="M51.9,743.5L46.7,740L42.4,736.3L38.9,732.4L36.4,728.5L34.7,724.4L34,720.3L34.1,716.2L35,712.1L36.7,708.2L39.2,704.2L42.4,700.5L46.2,696.8L50.7,693.3L55.7,690L61.3,686.9L67.3,684L73.8,681.3L80.6,678.9L87.8,676.6L95.2,674.7L102.9,673L110.8,671.5L118.8,670.3L126.9,669.4L135.1,668.8L143.3,668.4L151.5,668.3L159.7,668.4L167.7,668.8L175.6,669.5L183.3,670.5L190.7,671.7L197.9,673.2L204.8,675L211.4,677L217.5,679.2L223.2,681.7L228.5,684.4L233.2,687.4L237.3,690.5L240.9,693.8L243.7,697.4L245.9,701L247.4,704.8L248,708.8L247.9,712.8L247,716.8L245.2,720.9L242.5,725L239,729.1L234.6,733L229.4,736.9L223.3,740.6L216.5,744.1L208.8,747.3L200.5,750.3L191.6,753L182.2,755.3L172.3,757.2L162,758.7L151.5,759.8L140.9,760.4L130.3,760.6L119.8,760.4L109.5,759.7L99.5,758.5L90,756.9L81,754.9L72.6,752.6L64.9,749.9L58,746.8L51.9,743.5Z" stroke="#3ed91c"/>
</g>
<path d="M54.1,718.9L145.5,764.7L236.9,718.9" stroke="#222" stroke-width=".6" fill="none"/>
<g stroke="#1a2a10" stroke-opacity=".7" stroke-width=".45" stroke-linejoin="round">
<path d="M145.5,591.3L149.9,591L145.5,590.8L141.1,591.1Z" fill="#fdb305"/>
<path d="M141.1,591.1L145.5,590.8L141.1,590.8L136.7,591.1Z" fill="#fda505"/>
<path d="M149.9,591L154.3,590.9L150,590.8L145.5,590.8Z" fill="#fda305"/>
<path d="M136.7,591.1L141.1,590.8L136.6,591L132.2,591.3Z" fill="#fd9c04"/>
<path d="M145.5,590.8L150,590.8L145.5,590.8L141.1,590.8Z" fill="#fd9904"/>
<path d="M154.3,590.9L158.8,591.1L154.5,591L150,590.8Z" fill="#fd9a05"/>
<path d="M141.1,590.8L145.5,590.8L141,591L136.6,591Z" fill="#fe9004"/>
<path d="M150,590.8L154.5,591L150,591L145.5,590.8Z" fill="#fe8f04"/>
<path d="M132.2,591.3L136.6,591L132,591.5L127.7,591.7Z" fill="#fe9504"/>
<path d="M158.8,591.1L163.4,591.6L159,591.4L154.5,591Z" fill="#fd9204"/>
<path d="M127.7,591.7L132,591.5L127.4,592.1L123.1,592.4Z" fill="#fe8f03"/>
<path d="M136.6,591L141,591L136.5,591.4L132,591.5Z" fill="#fe8703"/>
<path d="M145.5,590.8L150,591L145.5,591.2L141,591Z" fill="#fe8304"/>
<path d="M154.5,591L159,591.4L154.6,591.4L150,591Z" fill="#fe8504"/>
<path d="M163.4,591.6L168,592.2L163.6,592.1L159,591.4Z" fill="#fe8c04"/>
<path d="M123.1,592.4L127.4,592.1L122.8,593L118.4,593.2Z" fill="#fe8a03"/>
<path d="M132,591.5L136.5,591.4L131.9,592.1L127.4,592.1Z" fill="#fe7e03"/>
<path d="M141,591L145.5,591.2L141,591.6L136.5,591.4Z" fill="#fe7803"/>
<path d="M150,591L154.6,591.4L150.1,591.7L145.5,591.2Z" fill="#fe7703"/>
<path d="M159,591.4L163.6,592.1L159.2,592.1L154.6,591.4Z" fill="#fe7c04"/>
<path d="M168,592.2L172.6,593.2L168.3,593L163.6,592.1Z" fill="#fe8704"/>
<path d="M118.4,593.2L122.8,593L118.1,594L113.7,594.3Z" fill="#fe8602"/>
<path d="M127.4,592.1L131.9,592.1L127.2,592.9L122.8,593Z" fill="#fe7702"/>
<path d="M136.5,591.4L141,591.6L136.4,592.3L131.9,592.1Z" fill="#fe6f03"/>
<path d="M145.5,591.2L150.1,591.7L145.5,592.1L141,591.6Z" fill="#fe6b03"/>
<path d="M154.6,591.4L159.2,592.1L154.7,592.4L150.1,591.7Z" fill="#fe6e03"/>
<path d="M163.6,592.1L168.3,593L163.8,593.1L159.2,592.1Z" fill="#fe7603"/>
<path d="M172.6,593.2L177.3,594.3L173,594.2L168.3,593Z" fill="#fe8404"/>
<path d="M113.7,594.3L118.1,594L113.3,595.3L109,595.5Z" fill="#fe8502"/>
<path d="M122.8,593L127.2,592.9L122.5,594L118.1,594Z" fill="#fe7302"/>
<path d="M131.9,592.1L136.4,592.3L131.7,593.2L127.2,592.9Z" fill="#fe6802"/>
<path d="M159.2,592.1L163.8,593.1L159.3,593.3L154.7,592.4Z" fill="#fe6803"/>
<path d="M168.3,593L173,594.2L168.5,594.3L163.8,593.1Z" fill="#fe7303"/>
<path d="M177.3,594.3L182.1,595.8L177.7,595.6L173,594.2Z" fill="#fe8404"/>
<path d="M141,591.6L145.5,592.1L140.9,592.8L136.4,592.3Z" fill="#fe6202"/>
<path d="M150.1,591.7L154.7,592.4L150.1,592.8L145.5,592.1Z" fill="#fe6202"/>
<path d="M118.1,594L122.5,594L117.7,595.3L113.3,595.3Z" fill="#fe7202"/>
<path d="M127.2,592.9L131.7,593.2L127,594.2L122.5,594Z" fill="#fe6402"/>
<path d="M163.8,593.1L168.5,594.3L164.1,594.5L159.3,593.3Z" fill="#fe6503"/>
<path d="M173,594.2L177.7,595.6L173.3,595.7L168.5,594.3Z" fill="#fe7303"/>
<path d="M109,595.5L113.3,595.3L108.5,596.8L104.2,597Z" fill="#fe8602"/>
<path d="M136.4,592.3L140.9,592.8L136.2,593.6L131.7,593.2Z" fill="#fe5c02"/>
<path d="M145.5,592.1L150.1,592.8L145.5,593.5L140.9,592.8Z" fill="#fe5902"/>
<path d="M154.7,592.4L159.3,593.3L154.8,593.8L150.1,592.8Z" fill="#fe5c02"/>
<path d="M182.1,595.8L186.9,597.5L182.5,597.4L177.7,595.6Z" fill="#fe8703"/>
<path d="M104.2,597L108.5,596.8L103.7,598.5L99.3,598.8Z" fill="#ff8a01"/>
<path d="M113.3,595.3L117.7,595.3L112.9,596.8L108.5,596.8Z" fill="#ff7301"/>
<path d="M122.5,594L127,594.2L122.2,595.5L117.7,595.3Z" fill="#ff6301"/>
<path d="M131.7,593.2L136.2,593.6L131.5,594.7L127,594.2Z" fill="#ff5801"/>
<path d="M140.9,592.8L145.5,593.5L140.9,594.4L136.2,593.6Z" fill="#fe5201"/>
<path d="M150.1,592.8L154.8,593.8L150.2,594.4L145.5,593.5Z" fill="#fe5302"/>
<path d="M159.3,593.3L164.1,594.5L159.5,595L154.8,593.8Z" fill="#fe5902"/>
<path d="M168.5,594.3L173.3,595.7L168.8,596L164.1,594.5Z" fill="#fe6502"/>
<path d="M177.7,595.6L182.5,597.4L178.1,597.4L173.3,595.7Z" fill="#fe7703"/>
<path d="M186.9,597.5L191.7,599.5L187.4,599.3L182.5,597.4Z" fill="#fe8d03"/>
<path d="M99.3,598.8L103.7,598.5L98.7,600.5L94.4,600.7Z" fill="#ff9101"/>
<path d="M108.5,596.8L112.9,596.8L108.1,598.5L103.7,598.5Z" fill="#ff7701"/>
<path d="M117.7,595.3L122.2,595.5L117.4,597.1L112.9,596.8Z" fill="#ff6401"/>
<path d="M127,594.2L131.5,594.7L126.8,596L122.2,595.5Z" fill="#ff5601"/>
<path d="M136.2,593.6L140.9,594.4L136.1,595.5L131.5,594.7Z" fill="#ff4e01"/>
<path d="M145.5,593.5L150.2,594.4L145.5,595.3L140.9,594.4Z" fill="#ff4c01"/>
<path d="M154.8,593.8L159.5,595L154.9,595.7L150.2,594.4Z" fill="#fe5001"/>
<path d="M164.1,594.5L168.8,596L164.3,596.5L159.5,595Z" fill="#fe5902"/>
<path d="M173.3,595.7L178.1,597.4L173.6,597.7L168.8,596Z" fill="#fe6902"/>
<path d="M182.5,597.4L187.4,599.3L183,599.4L178.1,597.4Z" fill="#fe7d03"/>
<path d="M191.7,599.5L196.6,601.7L192.3,601.6L187.4,599.3Z" fill="#fe9403"/>
<path d="M103.7,598.5L108.1,598.5L103.1,600.5L98.7,600.5Z" fill="#ff7e00"/>
<path d="M112.9,596.8L117.4,597.1L112.5,598.8L108.1,598.5Z" fill="#ff6800"/>
<path d="M131.5,594.7L136.1,595.5L131.4,596.8L126.8,596Z" fill="#ff4d01"/>
<path d="M140.9,594.4L145.5,595.3L140.8,596.5L136.1,595.5Z" fill="#ff4801"/>
<path d="M150.2,594.4L154.9,595.7L150.2,596.6L145.5,595.3Z" fill="#ff4901"/>
<path d="M159.5,595L164.3,596.5L159.7,597.2L154.9,595.7Z" fill="#ff5001"/>
<path d="M178.1,597.4L183,599.4L178.5,599.7L173.6,597.7Z" fill="#fe6f02"/>
<path d="M187.4,599.3L192.3,601.6L187.9,601.7L183,599.4Z" fill="#fe8703"/>
<path d="M94.4,600.7L98.7,600.5L93.8,602.7L89.5,602.9Z" fill="#ff9800"/>
<path d="M122.2,595.5L126.8,596L121.9,597.6L117.4,597.1Z" fill="#ff5700"/>
<path d="M168.8,596L173.6,597.7L169.1,598.2L164.3,596.5Z" fill="#fe5d02"/>
<path d="M196.6,601.7L201.5,604.2L197.2,604.1L192.3,601.6Z" fill="#fe9c03"/>
<path d="M89.5,602.9L93.8,602.7L88.8,605.1L84.5,605.3Z" fill="#ffa100"/>
<path d="M108.1,598.5L112.5,598.8L107.6,600.8L103.1,600.5Z" fill="#ff6f00"/>
<path d="M136.1,595.5L140.8,596.5L136,597.8L131.4,596.8Z" fill="#ff4700"/>
<path d="M145.5,595.3L150.2,596.6L145.5,597.7L140.8,596.5Z" fill="#ff4500"/>
<path d="M154.9,595.7L159.7,597.2L155,598.1L150.2,596.6Z" fill="#ff4901"/>
<path d="M183,599.4L187.9,601.7L183.4,602L178.5,599.7Z" fill="#fe7902"/>
<path d="M201.5,604.2L206.5,607L202.2,606.9L197.2,604.1Z" fill="#fea703"/>
<path d="M98.7,600.5L103.1,600.5L98.2,602.7L93.8,602.7Z" fill="#ff8800"/>
<path d="M117.4,597.1L121.9,597.6L117.1,599.3L112.5,598.8Z" fill="#ff5b00"/>
<path d="M126.8,596L131.4,596.8L126.5,598.3L121.9,597.6Z" fill="#ff4e00"/>
<path d="M164.3,596.5L169.1,598.2L164.5,599L159.7,597.2Z" fill="#ff5401"/>
<path d="M173.6,597.7L178.5,599.7L174,600.3L169.1,598.2Z" fill="#fe6302"/>
<path d="M192.3,601.6L197.2,604.1L192.8,604.3L187.9,601.7Z" fill="#fe9203"/>
<path d="M93.8,602.7L98.2,602.7L93.2,605.2L88.8,605.1Z" fill="#ff9400"/>
<path d="M140.8,596.5L145.5,597.7L140.7,599.1L136,597.8Z" fill="#ff4300"/>
<path d="M150.2,596.6L155,598.1L150.3,599.3L145.5,597.7Z" fill="#ff4500"/>
<path d="M197.2,604.1L202.2,606.9L197.8,607.1L192.8,604.3Z" fill="#fe9c03"/>
<path d="M84.5,605.3L88.8,605.1L83.8,607.7L79.5,607.9Z" fill="#ffab00"/>
<path d="M103.1,600.5L107.6,600.8L102.6,603L98.2,602.7Z" fill="#ff7800"/>
<path d="M112.5,598.8L117.1,599.3L112.1,601.4L107.6,600.8Z" fill="#ff6200"/>
<path d="M121.9,597.6L126.5,598.3L121.7,600.1L117.1,599.3Z" fill="#ff5200"/>
<path d="M131.4,596.8L136,597.8L131.2,599.4L126.5,598.3Z" fill="#ff4800"/>
<path d="M159.7,597.2L164.5,599L159.8,599.9L155,598.1Z" fill="#ff4d01"/>
<path d="M169.1,598.2L174,600.3L169.4,601L164.5,599Z" fill="#ff5a01"/>
<path d="M178.5,599.7L183.4,602L178.9,602.6L174,600.3Z" fill="#fe6d02"/>
<path d="M187.9,601.7L192.8,604.3L188.4,604.6L183.4,602Z" fill="#fe8502"/>
<path d="M206.5,607L211.5,610L207.2,610L202.2,606.9Z" fill="#feb603"/>
<path d="M79.5,607.9L83.8,607.7L78.7,610.6L74.4,610.8Z" fill="#ffb700"/>
<path d="M98.2,602.7L102.6,603L97.6,605.5L93.2,605.2Z" fill="#ff8300"/>
<path d="M145.5,597.7L150.3,599.3L145.5,600.7L140.7,599.1Z" fill="#ff4400"/>
<path d="M192.8,604.3L197.8,607.1L193.4,607.4L188.4,604.6Z" fill="#fe9302"/>
<path d="M211.5,610L216.5,613.4L212.2,613.4L207.2,610Z" fill="#fed103"/>
<path d="M88.8,605.1L93.2,605.2L88.1,607.8L83.8,607.7Z" fill="#ff9e00"/>
<path d="M117.1,599.3L121.7,600.1L116.7,602.2L112.1,601.4Z" fill="#ff5800"/>
<path d="M126.5,598.3L131.2,599.4L126.3,601.2L121.7,600.1Z" fill="#ff4b00"/>
<path d="M136,597.8L140.7,599.1L135.9,600.7L131.2,599.4Z" fill="#ff4400"/>
<path d="M155,598.1L159.8,599.9L155.1,601.1L150.3,599.3Z" fill="#ff4900"/>
<path d="M164.5,599L169.4,601L164.7,602L159.8,599.9Z" fill="#ff5301"/>
<path d="M174,600.3L178.9,602.6L174.3,603.3L169.4,601Z" fill="#ff6401"/>
<path d="M202.2,606.9L207.2,610L202.8,610.2L197.8,607.1Z" fill="#fea903"/>
<path d="M107.6,600.8L112.1,601.4L107.2,603.6L102.6,603Z" fill="#ff6b00"/>
<path d="M183.4,602L188.4,604.6L183.8,605.2L178.9,602.6Z" fill="#fe7a02"/>
<path d="M83.8,607.7L88.1,607.8L83,610.8L78.7,610.6Z" fill="#ffa900"/>
<path d="M207.2,610L212.2,613.4L207.9,613.6L202.8,610.2Z" fill="#febd03"/>
<path d="M74.4,610.8L78.7,610.6L73.6,613.8L69.3,613.9Z" fill="#ffce00"/>
<path d="M93.2,605.2L97.6,605.5L92.6,608.2L88.1,607.8Z" fill="#ff9200"/>
<path d="M102.6,603L107.2,603.6L102.1,606.1L97.6,605.5Z" fill="#ff7600"/>
<path d="M121.7,600.1L126.3,601.2L121.4,603.2L116.7,602.2Z" fill="#ff5100"/>
<path d="M131.2,599.4L135.9,600.7L131,602.5L126.3,601.2Z" fill="#ff4800"/>
<path d="M140.7,599.1L145.5,600.7L140.7,602.3L135.9,600.7Z" fill="#ff4400"/>
<path d="M150.3,599.3L155.1,601.1L150.4,602.5L145.5,600.7Z" fill="#ff4700"/>
<path d="M159.8,599.9L164.7,602L160,603.2L155.1,601.1Z" fill="#ff4f00"/>
<path d="M169.4,601L174.3,603.3L169.7,604.3L164.7,602Z" fill="#ff5d01"/>
<path d="M188.4,604.6L193.4,607.4L188.9,608L183.8,605.2Z" fill="#fe8a02"/>
<path d="M197.8,607.1L202.8,610.2L198.4,610.6L193.4,607.4Z" fill="#fea002"/>
<path d="M216.5,613.4L221.6,617L217.3,617L212.2,613.4Z" fill="#feef04"/>
<path d="M112.1,601.4L116.7,602.2L111.7,604.4L107.2,603.6Z" fill="#ff6100"/>
<path d="M178.9,602.6L183.8,605.2L179.3,606L174.3,603.3Z" fill="#ff7101"/>
<path d="M88.1,607.8L92.6,608.2L87.5,611.1L83,610.8Z" fill="#ff9e00"/>
<path d="M202.8,610.2L207.9,613.6L203.5,614L198.4,610.6Z" fill="#feaf02"/>
<path d="M78.7,610.6L83,610.8L77.9,613.9L73.6,613.8Z" fill="#ffb700"/>
<path d="M107.2,603.6L111.7,604.4L106.7,606.9L102.1,606.1Z" fill="#ff6d00"/>
<path d="M126.3,601.2L131,602.5L126.1,604.6L121.4,603.2Z" fill="#ff4e00"/>
<path d="M135.9,600.7L140.7,602.3L135.8,604.1L131,602.5Z" fill="#ff4800"/>
<path d="M155.1,601.1L160,603.2L155.2,604.6L150.4,602.5Z" fill="#ff4e00"/>
<path d="M164.7,602L169.7,604.3L164.9,605.6L160,603.2Z" fill="#ff5900"/>
<path d="M183.8,605.2L188.9,608L184.3,608.8L179.3,606Z" fill="#ff8101"/>
<path d="M212.2,613.4L217.3,617L213,617.2L207.9,613.6Z" fill="#fedc03"/>
<path d="M69.3,613.9L73.6,613.8L68.4,617.2L64.1,617.3Z" fill="#ffea00"/>
<path d="M97.6,605.5L102.1,606.1L97.1,608.8L92.6,608.2Z" fill="#ff8500"/>
<path d="M116.7,602.2L121.4,603.2L116.4,605.5L111.7,604.4Z" fill="#ff5a00"/>
<path d="M145.5,600.7L150.4,602.5L145.5,604.1L140.7,602.3Z" fill="#ff4800"/>
<path d="M174.3,603.3L179.3,606L174.6,607L169.7,604.3Z" fill="#ff6a01"/>
<path d="M193.4,607.4L198.4,610.6L193.9,611.2L188.9,608Z" fill="#fe9902"/>
<path d="M221.6,617L226.7,620.9L222.5,620.9L217.3,617Z" fill="#dbf104"/>
<path d="M64.1,617.3L68.4,617.2L63.2,620.8L59,620.9Z" fill="#f4ff00"/>
<path d="M83,610.8L87.5,611.1L82.3,614.3L77.9,613.9Z" fill="#ffac00"/>
<path d="M92.6,608.2L97.1,608.8L91.9,611.8L87.5,611.1Z" fill="#ff9600"/>
<path d="M111.7,604.4L116.4,605.5L111.3,608.1L106.7,606.9Z" fill="#ff6600"/>
<path d="M131,602.5L135.8,604.1L130.9,606.2L126.1,604.6Z" fill="#ff4e00"/>
<path d="M160,603.2L164.9,605.6L160.2,607L155.2,604.6Z" fill="#ff5700"/>
<path d="M179.3,606L184.3,608.8L179.7,609.9L174.6,607Z" fill="#ff7a01"/>
<path d="M198.4,610.6L203.5,614L199,614.6L193.9,611.2Z" fill="#fea802"/>
<path d="M207.9,613.6L213,617.2L208.6,617.7L203.5,614Z" fill="#fecb02"/>
<path d="M226.7,620.9L231.8,625.1L227.6,625.2L222.5,620.9Z" fill="#b2f004"/>
<path d="M73.6,613.8L77.9,613.9L72.7,617.3L68.4,617.2Z" fill="#ffd200"/>
<path d="M102.1,606.1L106.7,606.9L101.6,609.7L97.1,608.8Z" fill="#ff7b00"/>
<path d="M121.4,603.2L126.1,604.6L121.1,606.9L116.4,605.5Z" fill="#ff5700"/>
<path d="M140.7,602.3L145.5,604.1L140.6,606L135.8,604.1Z" fill="#ff4b00"/>
<path d="M150.4,602.5L155.2,604.6L150.4,606.3L145.5,604.1Z" fill="#ff4e00"/>
<path d="M169.7,604.3L174.6,607L169.9,608.2L164.9,605.6Z" fill="#ff6600"/>
<path d="M188.9,608L193.9,611.2L189.3,612L184.3,608.8Z" fill="#ff9301"/>
<path d="M217.3,617L222.5,620.9L218.1,621.2L213,617.2Z" fill="#f2f303"/>
<path d="M68.4,617.2L72.7,617.3L67.5,621L63.2,620.8Z" fill="#fff100"/>
<path d="M97.1,608.8L101.6,609.7L96.5,612.7L91.9,611.8Z" fill="#ff8c00"/>
<path d="M116.4,605.5L121.1,606.9L116,609.4L111.3,608.1Z" fill="#ff6300"/>
<path d="M174.6,607L179.7,609.9L175,611.2L169.9,608.2Z" fill="#ff7700"/>
<path d="M193.9,611.2L199,614.6L194.4,615.5L189.3,612Z" fill="#ffa201"/>
<path d="M222.5,620.9L227.6,625.2L223.3,625.5L218.1,621.2Z" fill="#c9f203"/>
<path d="M59,620.9L63.2,620.8L58,624.7L53.7,624.7Z" fill="#d0ff00"/>
<path d="M77.9,613.9L82.3,614.3L77.1,617.8L72.7,617.3Z" fill="#ffbe00"/>
<path d="M87.5,611.1L91.9,611.8L86.8,615L82.3,614.3Z" fill="#ffa300"/>
<path d="M106.7,606.9L111.3,608.1L106.3,610.8L101.6,609.7Z" fill="#ff7500"/>
<path d="M126.1,604.6L130.9,606.2L125.9,608.5L121.1,606.9Z" fill="#ff5700"/>
<path d="M135.8,604.1L140.6,606L135.7,608.1L130.9,606.2Z" fill="#ff5200"/>
<path d="M145.5,604.1L150.4,606.3L145.5,608.2L140.6,606Z" fill="#ff5200"/>
<path d="M155.2,604.6L160.2,607L155.3,608.7L150.4,606.3Z" fill="#ff5800"/>
<path d="M164.9,605.6L169.9,608.2L165.2,609.7L160.2,607Z" fill="#ff6500"/>
<path d="M184.3,608.8L189.3,612L184.7,613.1L179.7,609.9Z" fill="#ff8e01"/>
<path d="M203.5,614L208.6,617.7L204.1,618.4L199,614.6Z" fill="#febd02"/>
<path d="M213,617.2L218.1,621.2L213.8,621.7L208.6,617.7Z" fill="#feee03"/>
<path d="M231.8,625.1L237,629.6L232.8,629.7L227.6,625.2Z" fill="#85ef04"/>
<path d="M53.7,624.7L58,624.7L52.7,628.8L48.5,628.8Z" fill="#a9ff00"/>
<path d="M72.7,617.3L77.1,617.8L71.9,621.4L67.5,621Z" fill="#ffdd00"/>
<path d="M101.6,609.7L106.3,610.8L101.1,613.8L96.5,612.7Z" fill="#ff8600"/>
<path d="M121.1,606.9L125.9,608.5L120.8,611.1L116,609.4Z" fill="#ff6300"/>
<path d="M169.9,608.2L175,611.2L170.2,612.7L165.2,609.7Z" fill="#ff7500"/>
<path d="M189.3,612L194.4,615.5L189.8,616.6L184.7,613.1Z" fill="#ff9f01"/>
<path d="M218.1,621.2L223.3,625.5L218.9,626L213.8,621.7Z" fill="#dcf403"/>
<path d="M237,629.6L242.2,634.3L238,634.5L232.8,629.7Z" fill="#5def04"/>
<path d="M63.2,620.8L67.5,621L62.3,624.9L58,624.7Z" fill="#e9ff00"/>
<path d="M91.9,611.8L96.5,612.7L91.3,615.9L86.8,615Z" fill="#ff9d00"/>
<path d="M111.3,608.1L116,609.4L111,612.2L106.3,610.8Z" fill="#ff7200"/>
<path d="M140.6,606L145.5,608.2L140.6,610.3L135.7,608.1Z" fill="#ff5800"/>
<path d="M150.4,606.3L155.3,608.7L150.5,610.6L145.5,608.2Z" fill="#ff5c00"/>
<path d="M179.7,609.9L184.7,613.1L180,614.4L175,611.2Z" fill="#ff8a00"/>
<path d="M199,614.6L204.1,618.4L199.6,619.3L194.4,615.5Z" fill="#feb401"/>
<path d="M227.6,625.2L232.8,629.7L228.5,630L223.3,625.5Z" fill="#9cf104"/>
<path d="M82.3,614.3L86.8,615L81.6,618.4L77.1,617.8Z" fill="#ffb300"/>
<path d="M130.9,606.2L135.7,608.1L130.7,610.5L125.9,608.5Z" fill="#ff5b00"/>
<path d="M160.2,607L165.2,609.7L160.3,611.4L155.3,608.7Z" fill="#ff6600"/>
<path d="M208.6,617.7L213.8,621.7L209.3,622.4L204.1,618.4Z" fill="#fee002"/>
<path d="M58,624.7L62.3,624.9L57,629.1L52.7,628.8Z" fill="#c2ff00"/>
<path d="M106.3,610.8L111,612.2L105.8,615.3L101.1,613.8Z" fill="#ff8300"/>
<path d="M184.7,613.1L189.8,616.6L185.2,617.9L180,614.4Z" fill="#ff9d00"/>
<path d="M232.8,629.7L238,634.5L233.7,634.8L228.5,630Z" fill="#6ff104"/>
<path d="M67.5,621L71.9,621.4L66.6,625.4L62.3,624.9Z" fill="#feff00"/>
<path d="M77.1,617.8L81.6,618.4L76.3,622.2L71.9,621.4Z" fill="#ffcd00"/>
<path d="M96.5,612.7L101.1,613.8L95.9,617.1L91.3,615.9Z" fill="#ff9800"/>
<path d="M116,609.4L120.8,611.1L115.7,614L111,612.2Z" fill="#ff7200"/>
<path d="M125.9,608.5L130.7,610.5L125.6,613.1L120.8,611.1Z" fill="#ff6700"/>
<path d="M145.5,608.2L150.5,610.6L145.5,612.8L140.6,610.3Z" fill="#ff6200"/>
<path d="M165.2,609.7L170.2,612.7L165.4,614.4L160.3,611.4Z" fill="#ff7600"/>
<path d="M175,611.2L180,614.4L175.3,615.9L170.2,612.7Z" fill="#ff8900"/>
<path d="M194.4,615.5L199.6,619.3L195,620.4L189.8,616.6Z" fill="#ffb001"/>
<path d="M213.8,621.7L218.9,626L214.5,626.7L209.3,622.4Z" fill="#ecf602"/>
<path d="M223.3,625.5L228.5,630L224.2,630.6L218.9,626Z" fill="#aff303"/>
<path d="M86.8,615L91.3,615.9L86.1,619.4L81.6,618.4Z" fill="#ffac00"/>
<path d="M135.7,608.1L140.6,610.3L135.6,612.7L130.7,610.5Z" fill="#ff6200"/>
<path d="M155.3,608.7L160.3,611.4L155.5,613.4L150.5,610.6Z" fill="#ff6900"/>
<path d="M204.1,618.4L209.3,622.4L204.8,623.3L199.6,619.3Z" fill="#fed602"/>
<path d="M62.3,624.9L66.6,625.4L61.3,629.6L57,629.1Z" fill="#d6ff00"/>
<path d="M111,612.2L115.7,614L110.6,617L105.8,615.3Z" fill="#ff8300"/>
<path d="M180,614.4L185.2,617.9L180.4,619.5L175.3,615.9Z" fill="#ff9c00"/>
<path d="M228.5,630L233.7,634.8L229.4,635.4L224.2,630.6Z" fill="#7ef203"/>
<path d="M81.6,618.4L86.1,619.4L80.9,623.2L76.3,622.2Z" fill="#ffc200"/>
<path d="M101.1,613.8L105.8,615.3L100.6,618.6L95.9,617.1Z" fill="#ff9600"/>
<path d="M130.7,610.5L135.6,612.7L130.5,615.3L125.6,613.1Z" fill="#ff6d00"/>
<path d="M160.3,611.4L165.4,614.4L160.5,616.4L155.5,613.4Z" fill="#ff7a00"/>
<path d="M189.8,616.6L195,620.4L190.3,621.7L185.2,617.9Z" fill="#ffae01"/>
<path d="M209.3,622.4L214.5,626.7L210,627.7L204.8,623.3Z" fill="#f9f802"/>
<path d="M71.9,621.4L76.3,622.2L71.1,626.1L66.6,625.4Z" fill="#fff000"/>
<path d="M91.3,615.9L95.9,617.1L90.7,620.6L86.1,619.4Z" fill="#ffa800"/>
<path d="M120.8,611.1L125.6,613.1L120.5,615.9L115.7,614Z" fill="#ff7500"/>
<path d="M140.6,610.3L145.5,612.8L140.5,615.2L135.6,612.7Z" fill="#ff6c00"/>
<path d="M150.5,610.6L155.5,613.4L150.5,615.6L145.5,612.8Z" fill="#ff7000"/>
<path d="M170.2,612.7L175.3,615.9L170.5,617.7L165.4,614.4Z" fill="#ff8a00"/>
<path d="M199.6,619.3L204.8,623.3L200.2,624.5L195,620.4Z" fill="#ffcf01"/>
<path d="M218.9,626L224.2,630.6L219.7,631.3L214.5,626.7Z" fill="#bff503"/>
<path d="M66.6,625.4L71.1,626.1L65.7,630.4L61.3,629.6Z" fill="#e6ff00"/>
<path d="M86.1,619.4L90.7,620.6L85.5,624.4L80.9,623.2Z" fill="#ffba00"/>
<path d="M105.8,615.3L110.6,617L105.4,620.4L100.6,618.6Z" fill="#ff9700"/>
<path d="M115.7,614L120.5,615.9L115.4,619L110.6,617Z" fill="#ff8700"/>
<path d="M135.6,612.7L140.5,615.2L135.5,617.9L130.5,615.3Z" fill="#ff7800"/>
<path d="M155.5,613.4L160.5,616.4L155.6,618.6L150.5,615.6Z" fill="#ff8000"/>
<path d="M175.3,615.9L180.4,619.5L175.6,621.3L170.5,617.7Z" fill="#ff9d00"/>
<path d="M185.2,617.9L190.3,621.7L185.6,623.3L180.4,619.5Z" fill="#ffae00"/>
<path d="M204.8,623.3L210,627.7L205.4,628.9L200.2,624.5Z" fill="#fef601"/>
<path d="M224.2,630.6L229.4,635.4L225,636.2L219.7,631.3Z" fill="#8df403"/>
<path d="M76.3,622.2L80.9,623.2L75.6,627.2L71.1,626.1Z" fill="#ffe500"/>
<path d="M95.9,617.1L100.6,618.6L95.4,622.2L90.7,620.6Z" fill="#ffa600"/>
<path d="M125.6,613.1L130.5,615.3L125.4,618.2L120.5,615.9Z" fill="#ff7c00"/>
<path d="M165.4,614.4L170.5,617.7L165.6,619.7L160.5,616.4Z" fill="#ff8e00"/>
<path d="M195,620.4L200.2,624.5L195.5,625.9L190.3,621.7Z" fill="#ffca01"/>
<path d="M214.5,626.7L219.7,631.3L215.2,632.3L210,627.7Z" fill="#cbf702"/>
<path d="M145.5,612.8L150.5,615.6L145.5,618L140.5,615.2Z" fill="#ff7900"/>
<path d="M71.1,626.1L75.6,627.2L70.2,631.4L65.7,630.4Z" fill="#f2ff00"/>
<path d="M90.7,620.6L95.4,622.2L90.1,626L85.5,624.4Z" fill="#ffb700"/>
<path d="M120.5,615.9L125.4,618.2L120.3,621.4L115.4,619Z" fill="#ff8e00"/>
<path d="M170.5,617.7L175.6,621.3L170.7,623.3L165.6,619.7Z" fill="#ffa000"/>
<path d="M200.2,624.5L205.4,628.9L200.8,630.3L195.5,625.9Z" fill="#fff201"/>
<path d="M219.7,631.3L225,636.2L220.5,637.3L215.2,632.3Z" fill="#9af602"/>
<path d="M80.9,623.2L85.5,624.4L80.1,628.5L75.6,627.2Z" fill="#ffdd00"/>
<path d="M100.6,618.6L105.4,620.4L100.1,623.9L95.4,622.2Z" fill="#ffa600"/>
<path d="M110.6,617L115.4,619L110.2,622.4L105.4,620.4Z" fill="#ff9900"/>
<path d="M130.5,615.3L135.5,617.9L130.4,620.8L125.4,618.2Z" fill="#ff8600"/>
<path d="M140.5,615.2L145.5,618L140.5,620.7L135.5,617.9Z" fill="#ff8500"/>
<path d="M150.5,615.6L155.6,618.6L150.6,621.1L145.5,618Z" fill="#ff8a00"/>
<path d="M160.5,616.4L165.6,619.7L160.7,622L155.6,618.6Z" fill="#ff9400"/>
<path d="M180.4,619.5L185.6,623.3L180.8,625.2L175.6,621.3Z" fill="#ffaf00"/>
<path d="M190.3,621.7L195.5,625.9L190.8,627.5L185.6,623.3Z" fill="#ffca00"/>
<path d="M210,627.7L215.2,632.3L210.7,633.6L205.4,628.9Z" fill="#d5f902"/>
<path d="M75.6,627.2L80.1,628.5L74.8,632.7L70.2,631.4Z" fill="#faff00"/>
<path d="M95.4,622.2L100.1,623.9L94.8,627.8L90.1,626Z" fill="#ffb800"/>
<path d="M125.4,618.2L130.4,620.8L125.2,624L120.3,621.4Z" fill="#ff9700"/>
<path d="M145.5,618L150.6,621.1L145.5,623.8L140.5,620.7Z" fill="#ff9500"/>
<path d="M165.6,619.7L170.7,623.3L165.8,625.6L160.7,622Z" fill="#ffa400"/>
<path d="M195.5,625.9L200.8,630.3L196.1,632L190.8,627.5Z" fill="#fff101"/>
<path d="M215.2,632.3L220.5,637.3L216,638.6L210.7,633.6Z" fill="#a3f802"/>
<path d="M85.5,624.4L90.1,626L84.8,630L80.1,628.5Z" fill="#ffd900"/>
<path d="M115.4,619L120.3,621.4L115.1,624.8L110.2,622.4Z" fill="#ff9e00"/>
<path d="M175.6,621.3L180.8,625.2L175.9,627.3L170.7,623.3Z" fill="#ffb200"/>
<path d="M205.4,628.9L210.7,633.6L206.1,635L200.8,630.3Z" fill="#dafa01"/>
<path d="M105.4,620.4L110.2,622.4L104.9,626L100.1,623.9Z" fill="#ffa900"/>
<path d="M135.5,617.9L140.5,620.7L135.4,623.7L130.4,620.8Z" fill="#ff9400"/>
<path d="M155.6,618.6L160.7,622L155.7,624.5L150.6,621.1Z" fill="#ff9b00"/>
<path d="M185.6,623.3L190.8,627.5L186,629.4L180.8,625.2Z" fill="#ffcc00"/>
<path d="M80.1,628.5L84.8,630L79.4,634.4L74.8,632.7Z" fill="#feff00"/>
<path d="M210.7,633.6L216,638.6L211.4,640.1L206.1,635Z" fill="#a8f902"/>
<path d="M90.1,626L94.8,627.8L89.5,631.9L84.8,630Z" fill="#ffda00"/>
<path d="M100.1,623.9L104.9,626L99.6,629.9L94.8,627.8Z" fill="#ffbb00"/>
<path d="M120.3,621.4L125.2,624L120,627.4L115.1,624.8Z" fill="#ffa400"/>
<path d="M130.4,620.8L135.4,623.7L130.2,626.9L125.2,624Z" fill="#ffa000"/>
<path d="M140.5,620.7L145.5,623.8L140.4,626.8L135.4,623.7Z" fill="#ff9f00"/>
<path d="M150.6,621.1L155.7,624.5L150.6,627.3L145.5,623.8Z" fill="#ffa300"/>
<path d="M160.7,622L165.8,625.6L160.8,628.2L155.7,624.5Z" fill="#ffaa00"/>
<path d="M170.7,623.3L175.9,627.3L171,629.6L165.8,625.6Z" fill="#ffb600"/>
<path d="M190.8,627.5L196.1,632L191.3,633.9L186,629.4Z" fill="#fff400"/>
<path d="M200.8,630.3L206.1,635L201.4,636.7L196.1,632Z" fill="#dcfc01"/>
<path d="M110.2,622.4L115.1,624.8L109.8,628.4L104.9,626Z" fill="#ffad00"/>
<path d="M180.8,625.2L186,629.4L181.2,631.5L175.9,627.3Z" fill="#ffd100"/>
<path d="M84.8,630L89.5,631.9L84.1,636.3L79.4,634.4Z" fill="#feff00"/>
<path d="M135.4,623.7L140.4,626.8L135.2,630.1L130.2,626.9Z" fill="#ffab00"/>
<path d="M155.7,624.5L160.8,628.2L155.8,631L150.6,627.3Z" fill="#ffb300"/>
<path d="M206.1,635L211.4,640.1L206.7,641.8L201.4,636.7Z" fill="#aafb01"/>
<path d="M104.9,626L109.8,628.4L104.5,632.3L99.6,629.9Z" fill="#ffc300"/>
<path d="M186,629.4L191.3,633.9L186.4,636.1L181.2,631.5Z" fill="#fffa00"/>
<path d="M94.8,627.8L99.6,629.9L94.3,634.1L89.5,631.9Z" fill="#ffde00"/>
<path d="M115.1,624.8L120,627.4L114.7,631.1L109.8,628.4Z" fill="#ffb400"/>
<path d="M125.2,624L130.2,626.9L125,630.3L120,627.4Z" fill="#ffae00"/>
<path d="M145.5,623.8L150.6,627.3L145.5,630.3L140.4,626.8Z" fill="#ffad00"/>
<path d="M165.8,625.6L171,629.6L166,632.2L160.8,628.2Z" fill="#ffbf00"/>
<path d="M175.9,627.3L181.2,631.5L176.3,633.9L171,629.6Z" fill="#ffd900"/>
<path d="M196.1,632L201.4,636.7L196.6,638.7L191.3,633.9Z" fill="#dbfd00"/>
<path d="M89.5,631.9L94.3,634.1L88.9,638.5L84.1,636.3Z" fill="#f9ff00"/>
<path d="M109.8,628.4L114.7,631.1L109.4,635L104.5,632.3Z" fill="#ffd000"/>
<path d="M130.2,626.9L135.2,630.1L130,633.6L125,630.3Z" fill="#ffb900"/>
<path d="M140.4,626.8L145.5,630.3L140.4,633.6L135.2,630.1Z" fill="#ffb900"/>
<path d="M150.6,627.3L155.8,631L150.7,634.1L145.5,630.3Z" fill="#ffc000"/>
<path d="M160.8,628.2L166,632.2L161,635L155.8,631Z" fill="#ffce00"/>
<path d="M181.2,631.5L186.4,636.1L181.5,638.5L176.3,633.9Z" fill="#fcff00"/>
<path d="M201.4,636.7L206.7,641.8L201.9,643.8L196.6,638.7Z" fill="#a9fc01"/>
<path d="M99.6,629.9L104.5,632.3L99.1,636.5L94.3,634.1Z" fill="#ffe700"/>
<path d="M191.3,633.9L196.6,638.7L191.8,640.9L186.4,636.1Z" fill="#d6fe00"/>
<path d="M120,627.4L125,630.3L119.7,634.1L114.7,631.1Z" fill="#ffc100"/>
<path d="M171,629.6L176.3,633.9L171.3,636.5L166,632.2Z" fill="#ffe400"/>
<path d="M145.5,630.3L150.7,634.1L145.5,637.4L140.4,633.6Z" fill="#ffd600"/>
<path d="M94.3,634.1L99.1,636.5L93.7,641L88.9,638.5Z" fill="#f0ff00"/>
<path d="M196.6,638.7L201.9,643.8L197.1,646.1L191.8,640.9Z" fill="#a4fd00"/>
<path d="M104.5,632.3L109.4,635L104.1,639.3L99.1,636.5Z" fill="#fff300"/>
<path d="M114.7,631.1L119.7,634.1L114.4,638.1L109.4,635Z" fill="#ffe100"/>
<path d="M125,630.3L130,633.6L124.8,637.3L119.7,634.1Z" fill="#ffd600"/>
<path d="M135.2,630.1L140.4,633.6L135.1,637.1L130,633.6Z" fill="#ffd200"/>
<path d="M155.8,631L161,635L155.9,638.1L150.7,634.1Z" fill="#ffe100"/>
<path d="M166,632.2L171.3,636.5L166.2,639.4L161,635Z" fill="#fff300"/>
<path d="M176.3,633.9L181.5,638.5L176.6,641.1L171.3,636.5Z" fill="#f0ff00"/>
<path d="M186.4,636.1L191.8,640.9L186.9,643.4L181.5,638.5Z" fill="#ceff00"/>
<path d="M99.1,636.5L104.1,639.3L98.7,643.8L93.7,641Z" fill="#e3ff00"/>
<path d="M119.7,634.1L124.8,637.3L119.4,641.4L114.4,638.1Z" fill="#fff600"/>
<path d="M140.4,633.6L145.5,637.4L140.3,641L135.1,637.1Z" fill="#ffef00"/>
<path d="M150.7,634.1L155.9,638.1L150.7,641.5L145.5,637.4Z" fill="#fff700"/>
<path d="M171.3,636.5L176.6,641.1L171.5,644.1L166.2,639.4Z" fill="#e1ff00"/>
<path d="M191.8,640.9L197.1,646.1L192.2,648.6L186.9,643.4Z" fill="#9bfe00"/>
<path d="M109.4,635L114.4,638.1L109,642.3L104.1,639.3Z" fill="#faff00"/>
<path d="M130,633.6L135.1,637.1L129.9,640.9L124.8,637.3Z" fill="#ffef00"/>
<path d="M161,635L166.2,639.4L161.2,642.5L155.9,638.1Z" fill="#f8ff00"/>
<path d="M181.5,638.5L186.9,643.4L181.9,646.1L176.6,641.1Z" fill="#c2ff00"/>
<path d="M104.1,639.3L109,642.3L103.6,646.9L98.7,643.8Z" fill="#d2ff00"/>
<path d="M114.4,638.1L119.4,641.4L114.1,645.7L109,642.3Z" fill="#e4ff00"/>
<path d="M124.8,637.3L129.9,640.9L124.5,645L119.4,641.4Z" fill="#efff00"/>
<path d="M135.1,637.1L140.3,641L135,644.8L129.9,640.9Z" fill="#f2ff00"/>
<path d="M145.5,637.4L150.7,641.5L145.5,645.1L140.3,641Z" fill="#eeff00"/>
<path d="M155.9,638.1L161.2,642.5L156,645.9L150.7,641.5Z" fill="#e2ff00"/>
<path d="M166.2,639.4L171.5,644.1L166.5,647.2L161.2,642.5Z" fill="#ceff00"/>
<path d="M176.6,641.1L181.9,646.1L176.9,649L171.5,644.1Z" fill="#b3ff00"/>
<path d="M186.9,643.4L192.2,648.6L187.3,651.3L181.9,646.1Z" fill="#8fff00"/>
<path d="M109,642.3L114.1,645.7L108.7,650.3L103.6,646.9Z" fill="#bcff00"/>
<path d="M129.9,640.9L135,644.8L129.7,648.9L124.5,645Z" fill="#d1ff00"/>
<path d="M161.2,642.5L166.5,647.2L161.3,650.7L156,645.9Z" fill="#b7ff00"/>
<path d="M181.9,646.1L187.3,651.3L182.3,654.3L176.9,649Z" fill="#80ff00"/>
<path d="M119.4,641.4L124.5,645L119.2,649.4L114.1,645.7Z" fill="#cbff00"/>
<path d="M140.3,641L145.5,645.1L140.3,649L135,644.8Z" fill="#d0ff00"/>
<path d="M150.7,641.5L156,645.9L150.8,649.6L145.5,645.1Z" fill="#c8ff00"/>
<path d="M171.5,644.1L176.9,649L171.8,652.3L166.5,647.2Z" fill="#a0ff00"/>
<path d="M114.1,645.7L119.2,649.4L113.8,654L108.7,650.3Z" fill="#a3ff00"/>
<path d="M124.5,645L129.7,648.9L124.3,653.3L119.2,649.4Z" fill="#adff00"/>
<path d="M135,644.8L140.3,649L134.9,653.2L129.7,648.9Z" fill="#afff00"/>
<path d="M156,645.9L161.3,650.7L156.1,654.4L150.8,649.6Z" fill="#9dff00"/>
<path d="M166.5,647.2L171.8,652.3L166.7,655.8L161.3,650.7Z" fill="#89ff00"/>
<path d="M176.9,649L182.3,654.3L177.2,657.6L171.8,652.3Z" fill="#70ff00"/>
<path d="M145.5,645.1L150.8,649.6L145.5,653.6L140.3,649Z" fill="#aaff00"/>
<path d="M119.2,649.4L124.3,653.3L118.9,658L113.8,654Z" fill="#85ff00"/>
<path d="M171.8,652.3L177.2,657.6L172.1,661.1L166.7,655.8Z" fill="#5fff00"/>
<path d="M129.7,648.9L134.9,653.2L129.6,657.6L124.3,653.3Z" fill="#8bff00"/>
<path d="M140.3,649L145.5,653.6L140.2,657.8L134.9,653.2Z" fill="#89ff00"/>
<path d="M150.8,649.6L156.1,654.4L150.8,658.4L145.5,653.6Z" fill="#80ff00"/>
<path d="M161.3,650.7L166.7,655.8L161.5,659.5L156.1,654.4Z" fill="#72ff00"/>
<path d="M124.3,653.3L129.6,657.6L124.1,662.3L118.9,658Z" fill="#69ff00"/>
<path d="M145.5,653.6L150.8,658.4L145.5,662.6L140.2,657.8Z" fill="#66ff00"/>
<path d="M166.7,655.8L172.1,661.1L166.9,664.9L161.5,659.5Z" fill="#4bff00"/>
<path d="M134.9,653.2L140.2,657.8L134.8,662.2L129.6,657.6Z" fill="#6aff00"/>
<path d="M156.1,654.4L161.5,659.5L156.2,663.5L150.8,658.4Z" fill="#5bff00"/>
<path d="M129.6,657.6L134.8,662.2L129.4,667L124.1,662.3Z" fill="#4bff00"/>
<path d="M140.2,657.8L145.5,662.6L140.1,667.2L134.8,662.2Z" fill="#49ff00"/>
<path d="M150.8,658.4L156.2,663.5L150.9,667.9L145.5,662.6Z" fill="#42ff00"/>
<path d="M161.5,659.5L166.9,664.9L161.6,669L156.2,663.5Z" fill="#34ff00"/>
<path d="M134.8,662.2L140.1,667.2L134.7,672L129.4,667Z" fill="#2aff00"/>
<path d="M156.2,663.5L161.6,669L156.3,673.4L150.9,667.9Z" fill="#1aff00"/>
<path d="M145.5,662.6L150.9,667.9L145.5,672.4L140.1,667.2Z" fill="#25ff00"/>
<path d="M140.1,667.2L145.5,672.4L140.1,677.3L134.7,672Z" fill="#06ff00"/>
<path d="M150.9,667.9L156.3,673.4L150.9,678L145.5,672.4Z" fill="#00ff02"/>
<path d="M145.5,672.4L150.9,678L145.5,682.9L140.1,677.3Z" fill="#00ff21"/>
</g>
<circle cx="48.53" cy="629.4" r="1.9" fill="#c20c16" stroke="#8a1a20" stroke-width=".35"/>
<circle cx="145.52" cy="684.16" r="1.9" fill="#f7c8cc" stroke="#8a1a20" stroke-width=".35"/>
<circle cx="242.26" cy="633.48" r="1.9" fill="#f7c8cc" stroke="#8a1a20" stroke-width=".35"/>
<circle cx="145.52" cy="591.44" r="1.9" fill="#c20c16" stroke="#8a1a20" stroke-width=".35"/>
<circle cx="145.52" cy="599.56" r="1.9" fill="#c20c16" stroke="#8a1a20" stroke-width=".35"/>
<circle cx="145.52" cy="603.91" r="1.9" fill="#c20c16" stroke="#8a1a20" stroke-width=".35"/>
<rect x="51.28" y="683.98" width="1.4" height="1.4" fill="#111"/>
<text x="48.18" y="682.98" font-size="7.668" text-anchor="end" font-weight="normal" fill="#222" textLength="3.41" lengthAdjust="spacingAndGlyphs">2</text>
<rect x="50.07" y="664.69" width="1.4" height="1.4" fill="#111"/>
<text x="46.97" y="663.69" font-size="7.668" text-anchor="end" font-weight="normal" fill="#222" textLength="8.53" lengthAdjust="spacingAndGlyphs">2.2</text>
<rect x="48.84" y="644.9" width="1.4" height="1.4" fill="#111"/>
<text x="45.74" y="643.9" font-size="7.668" text-anchor="end" font-weight="normal" fill="#222" textLength="8.53" lengthAdjust="spacingAndGlyphs">2.4</text>
<rect x="47.57" y="624.59" width="1.4" height="1.4" fill="#111"/>
<text x="44.47" y="623.59" font-size="7.668" text-anchor="end" font-weight="normal" fill="#222" textLength="8.53" lengthAdjust="spacingAndGlyphs">2.6</text>
<rect x="46.27" y="603.74" width="1.4" height="1.4" fill="#111"/>
<text x="43.17" y="602.74" font-size="7.668" text-anchor="end" font-weight="normal" fill="#222" textLength="8.53" lengthAdjust="spacingAndGlyphs">2.8</text>
<rect x="44.93" y="582.32" width="1.4" height="1.4" fill="#111"/>
<text x="41.83" y="581.32" font-size="7.668" text-anchor="end" font-weight="normal" fill="#222" textLength="3.41" lengthAdjust="spacingAndGlyphs">3</text>
<rect x="53.42" y="718.21" width="1.4" height="1.4" fill="#111"/>
<text x="49.12" y="726.51" font-size="7.668" text-anchor="end" font-weight="normal" fill="#222" textLength="11.94" lengthAdjust="spacingAndGlyphs">0.25</text>
<rect x="76.27" y="729.66" width="1.4" height="1.4" fill="#111"/>
<text x="71.97" y="737.96" font-size="7.668" text-anchor="end" font-weight="normal" fill="#222" textLength="8.53" lengthAdjust="spacingAndGlyphs">0.2</text>
<rect x="99.12" y="741.11" width="1.4" height="1.4" fill="#111"/>
<text x="94.82" y="749.41" font-size="7.668" text-anchor="end" font-weight="normal" fill="#222" textLength="11.94" lengthAdjust="spacingAndGlyphs">0.15</text>
<rect x="121.97" y="752.56" width="1.4" height="1.4" fill="#111"/>
<text x="117.67" y="760.86" font-size="7.668" text-anchor="end" font-weight="normal" fill="#222" textLength="8.53" lengthAdjust="spacingAndGlyphs">0.1</text>
<rect x="144.82" y="764.01" width="1.4" height="1.4" fill="#111"/>
<text x="140.52" y="772.31" font-size="7.668" text-anchor="end" font-weight="normal" fill="#222" textLength="11.94" lengthAdjust="spacingAndGlyphs">0.05</text>
<rect x="144.82" y="764.01" width="1.4" height="1.4" fill="#111"/>
<text x="148.92" y="772.51" font-size="7.668" text-anchor="start" font-weight="normal" fill="#222" textLength="8.53" lengthAdjust="spacingAndGlyphs">0.5</text>
<rect x="163.1" y="754.85" width="1.4" height="1.4" fill="#111"/>
<text x="167.2" y="763.35" font-size="7.668" text-anchor="start" font-weight="normal" fill="#222" textLength="8.53" lengthAdjust="spacingAndGlyphs">0.7</text>
<rect x="181.38" y="745.69" width="1.4" height="1.4" fill="#111"/>
<text x="185.48" y="754.19" font-size="7.668" text-anchor="start" font-weight="normal" fill="#222" textLength="8.53" lengthAdjust="spacingAndGlyphs">0.9</text>
<rect x="199.66" y="736.53" width="1.4" height="1.4" fill="#111"/>
<text x="203.76" y="745.03" font-size="7.668" text-anchor="start" font-weight="normal" fill="#222" textLength="8.53" lengthAdjust="spacingAndGlyphs">1.1</text>
<rect x="217.94" y="727.37" width="1.4" height="1.4" fill="#111"/>
<text x="222.04" y="735.87" font-size="7.668" text-anchor="start" font-weight="normal" fill="#222" textLength="8.53" lengthAdjust="spacingAndGlyphs">1.3</text>
<rect x="236.22" y="718.21" width="1.4" height="1.4" fill="#111"/>
<text x="240.32" y="726.71" font-size="7.668" text-anchor="start" font-weight="normal" fill="#222" textLength="8.53" lengthAdjust="spacingAndGlyphs">1.5</text>
<text x="25" y="760" font-size="4.9" text-anchor="start" font-weight="normal" fill="#333" textLength="78" lengthAdjust="spacingAndGlyphs">C: Concentration of KH2PO4 (%)</text>
<text x="181" y="760" font-size="4.9" text-anchor="start" font-weight="normal" fill="#333" textLength="92" lengthAdjust="spacingAndGlyphs">B: Concentration of corn steep liquor (%)</text>
<text x="143.5" y="523" font-size="7.6" text-anchor="start" font-weight="normal" fill="#222" textLength="36.4" lengthAdjust="spacingAndGlyphs">3D Surface</text>
<text x="18" y="534.8" font-size="9.4" text-anchor="start" font-weight="bold" fill="#111" textLength="6.3" lengthAdjust="spacingAndGlyphs">E.</text>
<text x="29.6" y="687.1" font-size="6.5" text-anchor="start" font-weight="normal" fill="#222" transform="rotate(-90 29.6 687.1)" textLength="87" lengthAdjust="spacingAndGlyphs" stroke="#222" stroke-width=".2">Number of yeast cells (10<tspan font-size="3.4" dy="-1.8">8</tspan><tspan dy="1.8">/ml)</tspan></text>
</svg>
</body></html>
